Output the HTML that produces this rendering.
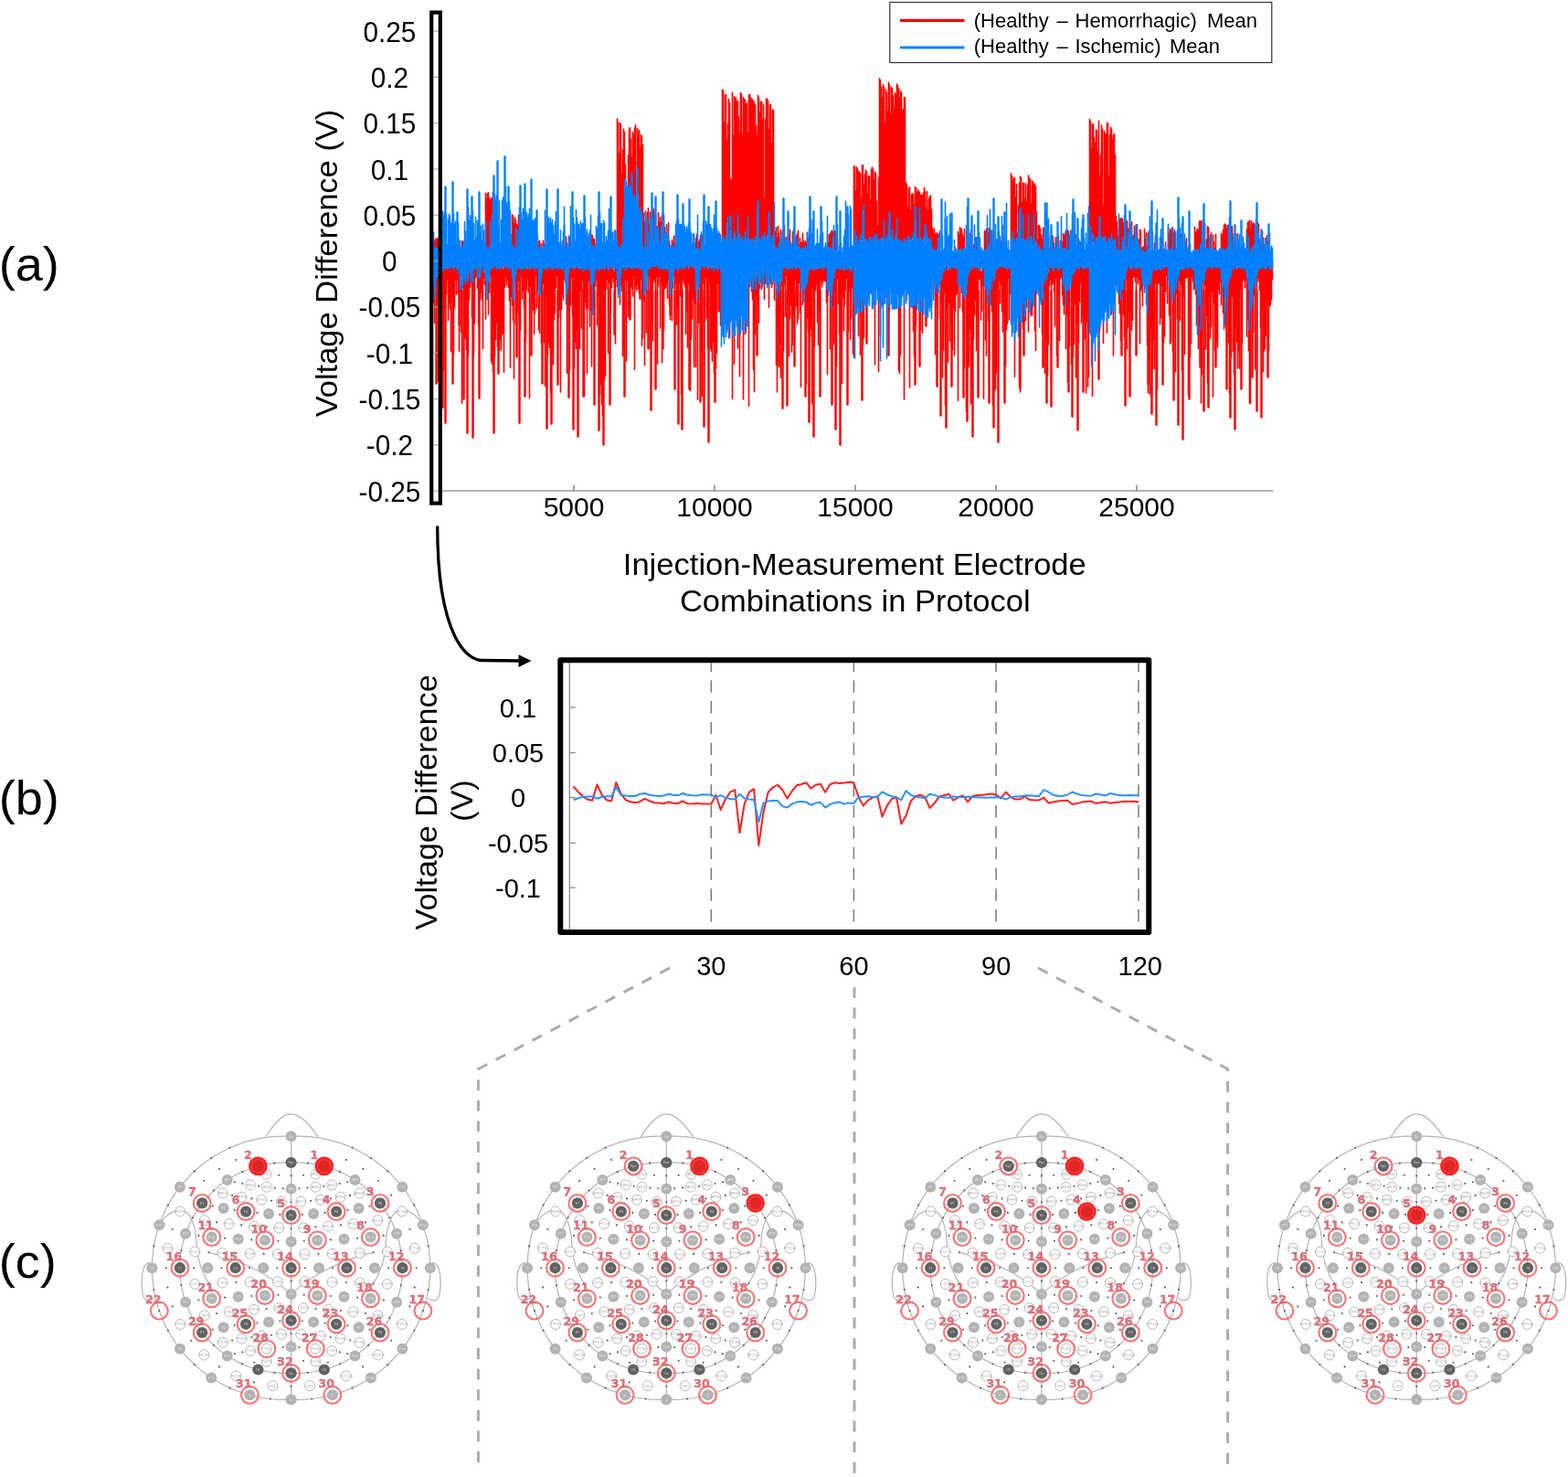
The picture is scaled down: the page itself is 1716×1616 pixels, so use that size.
<!DOCTYPE html>
<html><head><meta charset="utf-8"><title>Figure</title>
<style>html,body{margin:0;padding:0;background:#fff;overflow:hidden}svg{display:block}text{font-family:"Liberation Sans", Arial, sans-serif}</style>
</head><body>
<svg width="1716" height="1616" viewBox="0 0 1716 1616">
<rect width="1716" height="1616" fill="#fff"/>
<text x="-1.3" y="307.2" font-size="52" transform="scale(1.04,1)">(a)</text>
<text x="-1.3" y="891.0" font-size="52" transform="scale(1.04,1)">(b)</text>
<text x="-1.3" y="1397.8" font-size="52" transform="scale(1.04,1)">(c)</text>
<path d="M474.5 268.2V330.9M475.5 263.6V353.3M476.5 261.2V307.7M477.5 263.4V420.0M478.5 260.6V330.4M479.5 261.6V417.5M480.5 272.9V322.4M481.5 266.4V314.6M482.5 285.8V304.5M483.5 289.6V322.5M484.5 287.0V446.0M485.5 289.7V405.6M486.5 287.7V336.1M487.5 290.3V463.0M488.5 287.5V321.4M489.5 287.5V305.5M490.5 285.8V350.4M491.5 293.4V331.1M492.5 289.0V338.0M493.5 286.6V384.1M494.5 287.9V325.3M495.5 283.6V420.0M496.5 286.8V387.6M497.5 284.3V337.1M498.5 289.9V306.4M499.5 285.9V322.2M500.5 283.3V305.3M501.5 284.5V321.1M502.5 287.9V384.1M503.5 274.5V318.4M504.5 271.2V363.2M505.5 263.9V441.3M506.5 264.6V314.5M507.5 274.1V437.0M508.5 271.0V367.4M509.5 273.8V370.9M510.5 269.9V382.8M511.5 288.4V474.0M512.5 291.9V387.7M513.5 285.8V327.6M514.5 290.2V314.1M515.5 287.8V308.1M516.5 284.5V346.4M517.5 288.7V479.0M518.5 289.4V388.6M519.5 291.2V353.8M520.5 289.5V304.1M521.5 291.2V301.4M522.5 289.7V315.4M523.5 293.1V355.0M524.5 285.6V436.0M525.5 289.8V327.2M526.5 288.7V319.7M527.5 287.4V328.2M528.5 286.9V381.8M529.5 295.3V304.5M530.5 283.4V311.2M531.5 211.3V349.1M532.5 217.4V301.1M533.5 211.9V327.0M534.5 210.9V343.9M535.5 216.9V320.2M536.5 219.5V301.8M537.5 216.9V394.7M538.5 216.8V398.2M539.5 210.4V406.8M540.5 213.2V474.0M541.5 291.6V389.6M542.5 285.9V372.0M543.5 289.5V353.0M544.5 284.6V379.9M545.5 291.1V409.0M546.5 285.0V383.6M547.5 288.3V370.7M548.5 286.1V383.0M549.5 287.9V366.0M550.5 295.5V363.2M551.5 289.1V407.2M552.5 289.9V314.1M553.5 288.3V302.6M554.5 290.2V312.3M555.5 290.8V305.9M556.5 289.8V314.6M557.5 287.7V329.0M558.5 289.2V402.0M559.5 288.4V324.6M560.5 235.0V334.2M561.5 235.6V350.5M562.5 244.8V414.3M563.5 238.0V308.0M564.5 241.4V355.2M565.5 245.4V391.0M566.5 247.0V341.4M567.5 235.5V307.3M568.5 285.0V463.0M569.5 289.4V361.0M570.5 291.1V301.5M571.5 290.8V327.3M572.5 289.6V318.3M573.5 284.7V336.3M574.5 282.2V434.0M575.5 292.2V373.8M576.5 289.2V316.9M577.5 295.4V304.8M578.5 284.3V319.5M579.5 283.6V435.8M580.5 288.2V313.1M581.5 285.4V389.0M582.5 292.3V330.7M583.5 281.6V339.5M584.5 283.5V365.3M585.5 287.8V342.4M586.5 288.7V301.6M587.5 287.1V337.1M588.5 285.6V317.0M589.5 265.4V360.5M590.5 263.2V364.5M591.5 272.4V320.9M592.5 266.8V375.2M593.5 274.6V420.0M594.5 263.4V310.5M595.5 267.2V374.5M596.5 274.6V422.3M597.5 289.8V322.2M598.5 292.1V469.0M599.5 290.2V388.0M600.5 284.8V374.5M601.5 291.3V380.3M602.5 293.1V429.9M603.5 286.5V464.0M604.5 290.4V386.4M605.5 288.8V399.1M606.5 289.3V349.8M607.5 284.8V341.9M608.5 288.4V315.1M609.5 288.0V301.1M610.5 289.4V421.0M611.5 284.5V347.1M612.5 284.3V338.9M613.5 287.0V428.9M614.5 289.7V338.3M615.5 291.1V322.4M616.5 283.1V328.1M617.5 287.9V305.8M618.5 269.5V301.7M619.5 259.1V311.7M620.5 272.6V408.1M621.5 269.7V342.6M622.5 260.9V435.0M623.5 259.0V404.2M624.5 261.6V334.3M625.5 266.6V303.2M626.5 288.8V345.6M627.5 285.5V470.0M628.5 289.7V403.0M629.5 286.7V373.6M630.5 288.1V381.8M631.5 291.1V361.1M632.5 284.3V478.0M633.5 280.2V381.0M634.5 285.5V381.5M635.5 289.8V318.4M636.5 291.4V359.2M637.5 284.4V307.1M638.5 289.1V434.0M639.5 291.2V433.4M640.5 291.2V330.3M641.5 291.6V336.7M642.5 289.7V408.6M643.5 291.0V338.4M644.5 296.5V306.6M645.5 283.1V357.2M646.5 267.0V339.5M647.5 257.1V400.7M648.5 257.5V302.1M649.5 261.6V339.2M650.5 261.7V443.0M651.5 267.8V313.1M652.5 265.7V305.8M653.5 262.2V355.8M654.5 287.4V322.8M655.5 287.4V471.0M656.5 287.2V431.5M657.5 288.2V420.1M658.5 289.6V442.7M659.5 287.0V454.6M660.5 288.7V487.0M661.5 287.9V415.8M662.5 290.2V411.4M663.5 289.4V316.5M664.5 289.0V305.2M665.5 287.5V386.3M666.5 290.8V309.0M667.5 289.2V443.0M668.5 283.7V343.4M669.5 279.5V314.5M670.5 286.0V303.7M671.5 297.4V308.8M672.5 288.0V366.0M673.5 284.3V376.0M674.5 287.0V305.3M675.5 130.0V313.5M676.5 134.0V318.7M677.5 167.9V315.6M678.5 134.5V333.1M679.5 136.2V311.0M680.5 189.9V318.3M681.5 163.6V389.6M682.5 141.3V381.9M683.5 144.9V434.0M684.5 180.4V306.4M685.5 210.8V394.7M686.5 245.6V306.4M687.5 169.9V346.7M688.5 141.5V337.5M689.5 139.8V350.0M690.5 151.7V313.8M691.5 172.1V316.3M692.5 144.9V324.1M693.5 147.8V301.8M694.5 140.1V404.3M695.5 136.7V312.7M696.5 244.0V317.6M697.5 140.5V310.8M698.5 145.4V316.3M699.5 142.5V320.7M700.5 161.8V327.0M701.5 147.7V305.7M702.5 148.7V378.2M703.5 158.6V369.9M704.5 233.2V328.3M705.5 244.1V399.7M706.5 231.0V309.3M707.5 240.6V364.3M708.5 232.6V301.7M709.5 227.7V382.0M710.5 245.6V302.3M711.5 232.4V380.6M712.5 235.3V449.0M713.5 250.5V351.9M714.5 231.0V372.9M715.5 228.6V305.0M716.5 239.0V309.3M717.5 235.8V426.0M718.5 252.6V302.7M719.5 247.7V398.1M720.5 232.8V312.9M721.5 243.3V302.3M722.5 237.9V359.1M723.5 243.9V309.7M724.5 236.4V396.8M725.5 233.2V382.0M726.5 235.3V361.4M727.5 248.8V315.5M728.5 254.9V314.7M729.5 246.1V311.3M730.5 258.1V326.4M731.5 244.1V305.0M732.5 263.7V333.0M733.5 268.3V349.7M734.5 270.7V310.3M735.5 262.8V350.4M736.5 266.1V314.9M737.5 258.4V302.0M738.5 266.6V426.0M739.5 257.8V310.7M740.5 285.8V355.3M741.5 293.8V337.3M742.5 289.8V464.0M743.5 288.8V309.5M744.5 285.0V323.6M745.5 285.3V431.6M746.5 285.1V470.0M747.5 281.2V304.3M748.5 288.2V309.6M749.5 293.6V313.5M750.5 286.9V365.2M751.5 286.9V340.3M752.5 286.0V380.2M753.5 290.8V309.9M754.5 293.4V426.0M755.5 289.5V427.5M756.5 291.3V371.2M757.5 287.9V348.5M758.5 289.4V326.5M759.5 288.0V401.3M760.5 285.1V331.9M761.5 260.9V401.6M762.5 256.2V304.5M763.5 267.1V437.2M764.5 265.0V353.5M765.5 262.6V313.7M766.5 258.1V440.0M767.5 259.0V384.9M768.5 256.9V433.7M769.5 286.3V310.0M770.5 284.5V467.0M771.5 286.4V351.8M772.5 279.3V303.2M773.5 290.9V348.1M774.5 294.3V380.9M775.5 290.0V484.0M776.5 293.0V309.9M777.5 291.8V381.2M778.5 286.3V383.9M779.5 288.4V395.0M780.5 287.1V373.8M781.5 284.8V407.9M782.5 286.3V440.0M783.5 291.1V402.9M784.5 287.9V386.2M785.5 289.6V310.2M786.5 281.8V341.0M787.5 285.4V340.2M788.5 288.7V355.9M789.5 290.1V311.6M790.5 98.2V313.6M791.5 98.7V313.4M792.5 133.8V361.8M793.5 104.1V331.6M794.5 103.5V307.2M795.5 153.8V302.6M796.5 135.9V310.6M797.5 108.2V326.9M798.5 112.4V369.3M799.5 195.9V312.4M800.5 197.5V307.6M801.5 101.4V436.1M802.5 147.9V307.3M803.5 105.7V398.3M804.5 107.4V304.3M805.5 107.1V313.6M806.5 111.1V314.1M807.5 110.5V381.0M808.5 127.5V312.3M809.5 144.9V411.7M810.5 101.6V313.7M811.5 103.3V306.4M812.5 148.1V309.8M813.5 106.8V436.7M814.5 108.5V306.0M815.5 109.7V365.4M816.5 113.7V311.3M817.5 113.0V306.8M818.5 145.0V313.8M819.5 104.1V444.3M820.5 103.3V313.4M821.5 106.7V306.1M822.5 108.3V318.6M823.5 108.8V327.4M824.5 110.6V404.1M825.5 112.0V428.6M826.5 114.8V365.9M827.5 137.6V322.1M828.5 147.2V389.0M829.5 104.4V331.8M830.5 107.1V353.3M831.5 123.1V315.2M832.5 111.3V308.1M833.5 111.0V316.3M834.5 130.7V301.5M835.5 114.3V303.3M836.5 216.7V327.5M837.5 130.3V310.5M838.5 108.1V309.8M839.5 108.0V308.8M840.5 110.2V312.0M841.5 142.1V336.2M842.5 114.7V306.8M843.5 114.0V310.6M844.5 157.4V314.5M845.5 120.3V310.5M846.5 120.5V307.2M847.5 256.5V328.1M848.5 253.6V304.0M849.5 249.1V399.0M850.5 259.7V428.9M851.5 247.5V359.7M852.5 255.2V401.0M853.5 262.7V376.5M854.5 251.5V413.2M855.5 266.2V311.2M856.5 254.2V447.0M857.5 266.2V383.1M858.5 246.6V310.9M859.5 270.3V346.4M860.5 259.5V301.2M861.5 265.7V444.0M862.5 261.7V331.8M863.5 258.1V389.4M864.5 251.2V348.2M865.5 269.2V333.6M866.5 271.4V385.2M867.5 253.8V377.3M868.5 259.7V344.7M869.5 273.0V401.0M870.5 266.0V306.2M871.5 258.5V335.0M872.5 255.6V354.3M873.5 252.5V349.0M874.5 268.3V308.9M875.5 260.5V342.5M876.5 265.2V423.3M877.5 265.6V302.9M878.5 255.2V333.4M879.5 263.9V305.9M880.5 267.1V320.5M881.5 263.9V434.0M882.5 266.2V420.1M883.5 254.2V348.0M884.5 260.0V362.2M885.5 260.9V462.0M886.5 260.7V369.1M887.5 262.3V359.5M888.5 286.9V441.9M889.5 290.4V315.1M890.5 290.7V478.0M891.5 289.4V378.4M892.5 292.5V317.8M893.5 286.9V311.3M894.5 285.4V352.4M895.5 288.8V377.2M896.5 290.5V341.4M897.5 291.3V434.0M898.5 288.1V306.5M899.5 287.5V314.0M900.5 288.6V309.2M901.5 291.3V306.0M902.5 288.0V307.6M903.5 285.8V307.7M904.5 289.4V330.6M905.5 256.9V409.5M906.5 265.4V303.8M907.5 256.9V309.1M908.5 256.0V381.9M909.5 253.5V309.9M910.5 252.3V443.0M911.5 254.3V334.2M912.5 252.7V376.5M913.5 252.9V320.5M914.5 253.0V470.0M915.5 264.9V400.3M916.5 262.0V304.7M917.5 292.0V332.5M918.5 288.4V365.5M919.5 288.0V487.0M920.5 287.8V381.9M921.5 286.8V419.7M922.5 288.1V325.4M923.5 283.9V361.9M924.5 286.1V334.6M925.5 288.9V317.1M926.5 288.8V304.2M927.5 289.9V443.0M928.5 290.2V363.0M929.5 284.3V318.5M930.5 286.5V371.4M931.5 289.1V348.5M932.5 290.2V314.1M933.5 287.9V386.6M934.5 181.7V391.0M935.5 182.2V331.4M936.5 209.4V302.1M937.5 182.8V315.6M938.5 184.9V336.0M939.5 187.3V367.8M940.5 188.5V305.6M941.5 189.6V388.3M942.5 217.1V314.2M943.5 180.9V438.0M944.5 180.8V377.3M945.5 202.3V369.7M946.5 190.8V318.6M947.5 186.0V318.3M948.5 187.9V376.0M949.5 211.9V331.2M950.5 192.7V313.7M951.5 192.5V318.0M952.5 219.2V311.7M953.5 185.6V320.5M954.5 183.1V314.7M955.5 185.5V312.8M956.5 196.5V331.3M957.5 188.1V398.9M958.5 190.0V310.1M959.5 220.3V316.5M960.5 248.0V301.1M961.5 194.5V406.6M962.5 85.9V308.5M963.5 87.8V368.2M964.5 95.5V307.9M965.5 107.3V333.8M966.5 92.5V319.3M967.5 95.3V330.7M968.5 135.0V314.3M969.5 98.1V325.3M970.5 101.5V322.8M971.5 121.8V303.3M972.5 90.0V389.0M973.5 92.6V339.7M974.5 125.5V311.1M975.5 95.6V302.7M976.5 96.7V310.8M977.5 105.1V314.4M978.5 118.9V316.2M979.5 101.7V322.7M980.5 104.0V308.7M981.5 92.0V312.9M982.5 93.6V309.2M983.5 97.1V405.4M984.5 107.4V408.7M985.5 99.3V388.6M986.5 101.6V302.0M987.5 121.1V309.3M988.5 119.3V313.2M989.5 106.4V436.9M990.5 106.8V307.8M991.5 200.1V310.4M992.5 201.8V321.3M993.5 227.2V317.6M994.5 206.0V302.3M995.5 205.1V424.0M996.5 230.3V302.2M997.5 212.7V323.6M998.5 211.8V317.5M999.5 212.5V361.9M1000.5 224.3V390.3M1001.5 204.2V421.0M1002.5 205.8V356.6M1003.5 211.0V301.6M1004.5 207.8V312.9M1005.5 209.6V332.0M1006.5 210.3V401.0M1007.5 213.6V360.7M1008.5 213.4V315.8M1009.5 214.1V364.2M1010.5 211.1V312.5M1011.5 205.2V314.2M1012.5 209.2V337.4M1013.5 227.4V357.0M1014.5 209.9V318.4M1015.5 231.0V335.9M1016.5 217.4V315.4M1017.5 215.1V310.4M1018.5 214.1V311.5M1019.5 229.2V335.0M1020.5 249.4V303.0M1021.5 253.3V322.7M1022.5 250.2V312.8M1023.5 255.7V387.7M1024.5 256.4V334.0M1025.5 254.7V423.0M1026.5 258.0V348.5M1027.5 255.5V302.8M1028.5 290.5V306.4M1029.5 282.7V455.0M1030.5 287.4V329.6M1031.5 292.0V412.7M1032.5 285.6V383.4M1033.5 290.8V320.7M1034.5 287.8V443.6M1035.5 285.5V468.0M1036.5 288.5V336.3M1037.5 296.7V396.3M1038.5 288.9V331.0M1039.5 287.4V372.9M1040.5 287.7V352.8M1041.5 285.7V423.0M1042.5 286.6V382.2M1043.5 284.9V335.7M1044.5 287.9V388.4M1045.5 284.3V340.3M1046.5 294.3V322.3M1047.5 288.5V321.0M1048.5 253.7V438.3M1049.5 257.4V308.5M1050.5 249.0V337.0M1051.5 250.1V303.7M1052.5 250.8V320.4M1053.5 256.5V341.6M1054.5 259.9V435.0M1055.5 250.9V402.7M1056.5 289.3V301.0M1057.5 286.6V449.7M1058.5 252.3V461.0M1059.5 290.4V402.7M1060.5 262.6V399.8M1061.5 255.3V360.2M1062.5 286.3V441.8M1063.5 257.6V423.6M1064.5 286.7V478.0M1065.5 267.6V370.8M1066.5 269.3V344.6M1067.5 267.8V327.6M1068.5 259.8V383.7M1069.5 292.8V342.2M1070.5 288.0V435.0M1071.5 289.3V305.2M1072.5 289.1V305.5M1073.5 296.5V350.5M1074.5 297.7V340.4M1075.5 283.9V312.2M1076.5 284.6V436.3M1077.5 252.8V311.2M1078.5 253.5V371.9M1079.5 250.2V389.5M1080.5 250.0V321.1M1081.5 254.6V350.6M1082.5 249.8V441.0M1083.5 253.1V302.6M1084.5 252.9V332.8M1085.5 290.8V341.0M1086.5 285.7V443.5M1087.5 252.1V468.0M1088.5 287.3V427.3M1089.5 285.0V425.8M1090.5 268.5V408.0M1091.5 287.1V319.5M1092.5 267.8V484.0M1093.5 258.0V307.5M1094.5 262.0V331.7M1095.5 264.1V311.3M1096.5 275.1V340.4M1097.5 261.8V363.1M1098.5 260.8V342.5M1099.5 260.6V441.0M1100.5 276.1V400.8M1101.5 285.9V360.9M1102.5 288.7V354.4M1103.5 288.5V304.0M1104.5 284.9V350.1M1105.5 290.5V321.3M1106.5 189.7V308.5M1107.5 192.8V314.0M1108.5 198.1V308.5M1109.5 194.2V320.8M1110.5 195.1V412.3M1111.5 215.7V311.0M1112.5 201.5V341.5M1113.5 255.9V303.2M1114.5 224.7V330.1M1115.5 200.2V422.0M1116.5 193.0V429.0M1117.5 194.5V316.8M1118.5 221.6V326.3M1119.5 200.3V359.4M1120.5 200.9V389.0M1121.5 217.7V350.9M1122.5 200.8V351.0M1123.5 221.3V336.0M1124.5 202.6V311.8M1125.5 192.0V363.1M1126.5 195.0V308.5M1127.5 196.1V315.8M1128.5 223.1V345.0M1129.5 198.0V345.0M1130.5 199.4V319.6M1131.5 201.6V323.1M1132.5 201.4V362.2M1133.5 204.1V383.5M1134.5 232.2V307.2M1135.5 262.1V311.4M1136.5 246.4V321.7M1137.5 247.3V301.6M1138.5 250.1V329.0M1139.5 256.9V309.3M1140.5 262.1V363.8M1141.5 250.2V402.0M1142.5 249.3V318.9M1143.5 266.6V408.5M1144.5 253.6V372.1M1145.5 255.4V441.0M1146.5 264.2V411.4M1147.5 253.8V376.9M1148.5 272.0V312.7M1149.5 275.1V306.1M1150.5 267.3V445.0M1151.5 257.3V311.3M1152.5 259.3V308.9M1153.5 273.6V319.0M1154.5 271.3V357.0M1155.5 259.9V303.6M1156.5 267.6V389.3M1157.5 257.9V402.0M1158.5 258.8V322.8M1159.5 279.1V372.8M1160.5 263.8V304.7M1161.5 263.7V302.7M1162.5 265.3V322.7M1163.5 255.9V333.2M1164.5 258.3V343.6M1165.5 255.9V333.4M1166.5 252.8V381.6M1167.5 251.8V344.1M1168.5 251.6V417.7M1169.5 253.6V429.0M1170.5 258.0V377.9M1171.5 288.9V305.2M1172.5 284.9V398.4M1173.5 250.8V456.0M1174.5 287.9V390.9M1175.5 256.6V376.6M1176.5 261.5V333.0M1177.5 256.9V413.0M1178.5 268.7V355.0M1179.5 287.7V471.0M1180.5 261.2V375.1M1181.5 268.6V330.2M1182.5 275.7V309.6M1183.5 267.8V353.2M1184.5 263.0V345.5M1185.5 272.2V429.0M1186.5 288.1V350.9M1187.5 284.5V371.4M1188.5 284.5V429.9M1189.5 292.2V352.2M1190.5 287.7V423.3M1191.5 286.2V412.0M1192.5 130.6V306.7M1193.5 132.8V307.5M1194.5 162.6V303.3M1195.5 135.8V433.2M1196.5 136.1V337.6M1197.5 150.5V344.1M1198.5 156.9V305.6M1199.5 141.9V311.9M1200.5 143.3V327.9M1201.5 166.6V335.2M1202.5 132.5V415.0M1203.5 192.8V361.6M1204.5 169.2V339.1M1205.5 137.0V334.7M1206.5 141.6V340.9M1207.5 225.0V375.6M1208.5 143.4V316.8M1209.5 146.4V313.1M1210.5 146.3V314.4M1211.5 134.8V364.0M1212.5 135.1V308.2M1213.5 192.8V309.1M1214.5 147.7V313.4M1215.5 139.3V309.8M1216.5 141.4V343.5M1217.5 153.6V316.6M1218.5 147.7V389.0M1219.5 146.6V309.7M1220.5 169.8V308.6M1221.5 236.5V311.8M1222.5 242.7V305.4M1223.5 258.6V301.2M1224.5 249.9V331.9M1225.5 239.8V342.5M1226.5 239.0V372.3M1227.5 238.9V389.0M1228.5 239.8V319.7M1229.5 243.3V344.6M1230.5 252.0V368.7M1231.5 246.7V444.0M1232.5 241.5V305.6M1233.5 242.1V381.8M1234.5 250.5V357.7M1235.5 250.3V341.1M1236.5 246.5V434.0M1237.5 246.0V340.8M1238.5 242.7V361.2M1239.5 258.4V350.5M1240.5 257.9V302.4M1241.5 247.5V303.4M1242.5 264.6V307.7M1243.5 246.7V389.0M1244.5 245.8V302.6M1245.5 262.0V310.3M1246.5 262.3V305.4M1247.5 251.4V375.8M1248.5 252.3V318.8M1249.5 272.5V315.6M1250.5 270.0V334.8M1251.5 270.6V302.3M1252.5 250.5V312.3M1253.5 261.7V314.1M1254.5 255.1V310.9M1255.5 270.8V377.4M1256.5 255.0V429.9M1257.5 267.7V393.0M1258.5 270.3V431.6M1259.5 277.3V358.9M1260.5 274.1V453.0M1261.5 274.9V402.9M1262.5 275.4V371.0M1263.5 266.4V403.6M1264.5 259.9V310.3M1265.5 277.5V465.0M1266.5 260.5V425.6M1267.5 275.0V310.0M1268.5 276.9V310.3M1269.5 275.3V355.0M1270.5 267.6V347.8M1271.5 261.1V312.9M1272.5 269.4V421.0M1273.5 279.5V373.9M1274.5 272.6V368.0M1275.5 265.0V319.3M1276.5 282.4V301.7M1277.5 283.4V331.8M1278.5 249.3V302.7M1279.5 256.6V344.8M1280.5 250.8V376.1M1281.5 252.9V374.2M1282.5 249.3V307.3M1283.5 252.8V385.3M1284.5 255.5V438.0M1285.5 251.7V311.3M1286.5 285.5V407.0M1287.5 281.6V321.0M1288.5 261.0V348.3M1289.5 253.0V465.0M1290.5 258.5V307.1M1291.5 259.8V350.5M1292.5 256.0V310.8M1293.5 264.1V404.8M1294.5 260.8V481.0M1295.5 289.3V323.5M1296.5 270.9V387.7M1297.5 268.8V304.3M1298.5 260.9V303.9M1299.5 273.5V303.6M1300.5 272.3V431.9M1301.5 283.9V437.0M1302.5 287.3V390.9M1303.5 282.1V375.7M1304.5 288.2V301.9M1305.5 286.7V307.9M1306.5 283.7V316.4M1307.5 248.6V314.4M1308.5 254.7V321.6M1309.5 253.0V356.0M1310.5 250.3V318.8M1311.5 252.2V381.5M1312.5 242.1V355.6M1313.5 241.8V402.0M1314.5 242.2V440.9M1315.5 254.9V409.4M1316.5 241.1V308.4M1317.5 241.9V450.0M1318.5 245.4V310.9M1319.5 292.5V382.3M1320.5 262.0V344.6M1321.5 247.8V418.4M1322.5 249.0V446.0M1323.5 289.2V324.5M1324.5 259.0V370.1M1325.5 254.9V357.4M1326.5 290.1V318.9M1327.5 257.0V434.2M1328.5 264.7V331.0M1329.5 271.8V383.5M1330.5 256.3V402.0M1331.5 291.1V373.5M1332.5 289.0V380.1M1333.5 282.7V316.3M1334.5 285.7V322.1M1335.5 287.1V308.1M1336.5 255.6V333.6M1337.5 257.8V306.3M1338.5 252.1V342.1M1339.5 246.5V360.0M1340.5 245.0V306.1M1341.5 246.4V357.9M1342.5 250.1V426.0M1343.5 246.8V325.4M1344.5 248.3V375.1M1345.5 257.1V429.9M1346.5 247.4V457.0M1347.5 248.1V390.2M1348.5 247.9V323.9M1349.5 286.9V384.0M1350.5 263.7V409.1M1351.5 284.5V470.0M1352.5 256.0V358.1M1353.5 295.9V374.5M1354.5 255.9V403.0M1355.5 291.9V384.0M1356.5 289.1V403.1M1357.5 283.9V316.0M1358.5 288.6V426.0M1359.5 290.0V374.9M1360.5 291.4V305.3M1361.5 287.4V307.3M1362.5 285.2V315.1M1363.5 286.9V306.3M1364.5 251.0V368.1M1365.5 243.5V349.0M1366.5 242.8V383.7M1367.5 241.4V440.9M1368.5 250.6V441.6M1369.5 241.9V314.3M1370.5 246.2V413.0M1371.5 243.7V364.0M1372.5 244.9V322.5M1373.5 246.2V404.1M1374.5 246.1V309.3M1375.5 248.5V450.0M1376.5 243.8V303.6M1377.5 245.5V307.7M1378.5 261.7V317.8M1379.5 264.3V358.4M1380.5 265.3V457.0M1381.5 253.6V337.5M1382.5 260.5V406.8M1383.5 289.0V383.7M1384.5 271.9V381.5M1385.5 261.4V367.3M1386.5 257.9V327.1M1387.5 264.8V413.0M1388.5 287.5V383.7M1389.5 293.4V335.2M1390.5 286.0V333.8M1391.5 290.1V327.9M1392.5 285.4V305.4" stroke="#ff0000" stroke-width="1.6" stroke-linecap="round" fill="none"/>
<path d="M477.5 318V419.4M484.5 318V445.4M487.5 318V462.4M495.5 318V419.4M502.5 318V355.4M507.5 318V436.4M511.5 318V473.4M517.5 318V478.4M524.5 318V435.4M540.5 318V473.4M545.5 318V408.4M549.5 318V365.4M565.5 318V390.4M568.5 318V462.4M574.5 318V433.4M581.5 318V388.4M593.5 318V419.4M598.5 318V468.4M603.5 318V463.4M610.5 318V420.4M622.5 318V434.4M627.5 318V469.4M632.5 318V477.4M638.5 318V433.4M650.5 318V442.4M655.5 318V470.4M660.5 318V486.4M667.5 318V442.4M672.5 318V365.4M683.5 318V433.4M689.5 318V349.4M700.5 318V326.4M709.5 318V381.4M712.5 318V448.4M717.5 318V425.4M725.5 318V381.4M733.5 318V344.4M738.5 318V425.4M742.5 318V463.4M746.5 318V469.4M754.5 318V425.4M766.5 318V439.4M770.5 318V466.4M775.5 318V483.4M782.5 318V439.4M828.5 318V388.4M852.5 318V400.4M856.5 318V446.4M861.5 318V443.4M869.5 318V400.4M881.5 318V433.4M885.5 318V461.4M890.5 318V477.4M897.5 318V433.4M910.5 318V442.4M914.5 318V469.4M919.5 318V486.4M927.5 318V442.4M943.5 318V437.4M948.5 318V375.4M972.5 318V388.4M1001.5 318V420.4M1006.5 318V400.4M1013.5 318V356.4M1025.5 318V422.4M1029.5 318V454.4M1035.5 318V467.4M1041.5 318V422.4M1054.5 318V434.4M1058.5 318V460.4M1064.5 318V477.4M1070.5 318V434.4M1082.5 318V440.4M1087.5 318V467.4M1092.5 318V483.4M1099.5 318V440.4M1116.5 318V425.4M1120.5 318V388.4M1128.5 318V344.4M1141.5 318V401.4M1145.5 318V440.4M1150.5 318V444.4M1157.5 318V401.4M1169.5 318V428.4M1173.5 318V455.4M1179.5 318V470.4M1185.5 318V428.4M1202.5 318V414.4M1227.5 318V388.4M1231.5 318V443.4M1236.5 318V433.4M1243.5 318V388.4M1256.5 318V420.4M1260.5 318V452.4M1265.5 318V464.4M1272.5 318V420.4M1284.5 318V437.4M1289.5 318V464.4M1294.5 318V480.4M1301.5 318V436.4M1313.5 318V401.4M1317.5 318V449.4M1322.5 318V445.4M1330.5 318V401.4M1342.5 318V425.4M1346.5 318V456.4M1351.5 318V469.4M1358.5 318V425.4M1370.5 318V412.4M1375.5 318V449.4M1380.5 318V456.4M1387.5 318V412.4" stroke="#ff0000" stroke-width="2.2" stroke-linecap="round" fill="none"/>
<path d="M474.5 254.1V311.2M475.5 271.7V326.8M476.5 270.4V314.6M477.5 273.1V304.2M478.5 272.3V302.0M479.5 272.7V293.8M480.5 272.0V292.7M481.5 257.3V293.9M482.5 230.2V295.4M483.5 233.3V291.1M484.5 231.4V296.9M485.5 236.2V293.5M486.5 232.3V292.0M487.5 204.0V294.6M488.5 234.2V293.7M489.5 267.6V293.5M490.5 239.9V293.0M491.5 234.3V291.7M492.5 236.2V294.5M493.5 244.2V291.4M494.5 244.2V292.0M495.5 199.0V292.4M496.5 233.6V295.6M497.5 245.5V292.1M498.5 242.2V291.2M499.5 268.4V293.2M500.5 232.0V293.4M501.5 244.3V298.4M502.5 262.3V293.3M503.5 263.8V316.5M504.5 270.2V312.7M505.5 272.0V316.2M506.5 269.3V312.3M507.5 263.9V301.2M508.5 242.7V307.1M509.5 253.3V310.3M510.5 265.5V297.8M511.5 207.0V307.5M512.5 226.9V304.8M513.5 241.4V293.5M514.5 235.9V298.5M515.5 237.4V310.0M516.5 215.0V295.4M517.5 230.9V308.2M518.5 244.9V294.1M519.5 264.0V291.8M520.5 237.9V294.7M521.5 260.0V292.2M522.5 241.3V304.1M523.5 244.8V291.3M524.5 210.0V304.1M525.5 253.3V303.1M526.5 247.4V296.0M527.5 263.2V291.8M528.5 245.3V290.9M529.5 252.3V297.6M530.5 266.0V298.5M531.5 241.9V306.5M532.5 269.5V317.2M533.5 272.8V327.4M534.5 272.0V307.4M535.5 270.9V307.9M536.5 243.2V295.7M537.5 268.1V294.3M538.5 235.9V293.2M539.5 212.9V293.1M540.5 192.0V290.2M541.5 212.4V290.8M542.5 218.1V292.8M543.5 214.4V294.0M544.5 176.0V293.8M545.5 247.7V293.4M546.5 219.6V294.7M547.5 266.5V293.8M548.5 240.7V292.9M549.5 219.7V290.8M550.5 215.7V289.9M551.5 217.7V293.2M552.5 171.0V291.8M553.5 203.8V292.1M554.5 221.7V292.3M555.5 225.9V293.1M556.5 204.0V295.1M557.5 221.0V290.2M558.5 230.4V293.3M559.5 256.7V293.5M560.5 271.6V304.2M561.5 268.5V328.4M562.5 271.9V324.9M563.5 272.0V307.2M564.5 249.6V301.0M565.5 272.8V295.0M566.5 251.7V291.9M567.5 266.0V292.7M568.5 227.2V293.4M569.5 203.0V294.0M570.5 232.8V293.6M571.5 240.8V294.9M572.5 228.0V293.6M573.5 230.3V293.8M574.5 201.0V293.3M575.5 233.8V292.2M576.5 232.4V294.1M577.5 237.8V292.0M578.5 234.8V289.3M579.5 228.6V294.3M580.5 238.3V292.7M581.5 196.0V293.9M582.5 243.0V291.0M583.5 240.9V291.8M584.5 241.5V294.0M585.5 239.0V295.8M586.5 239.4V291.6M587.5 230.0V293.6M588.5 258.6V291.3M589.5 271.7V322.1M590.5 274.4V322.3M591.5 268.3V321.6M592.5 269.5V303.8M593.5 274.5V297.6M594.5 270.1V292.6M595.5 269.9V292.6M596.5 230.3V294.5M597.5 268.8V294.7M598.5 207.0V293.3M599.5 239.3V294.0M600.5 237.5V291.3M601.5 244.4V291.9M602.5 238.5V294.0M603.5 243.9V291.2M604.5 240.4V294.2M605.5 246.7V292.1M606.5 257.1V294.5M607.5 243.1V291.2M608.5 231.6V293.7M609.5 247.9V292.6M610.5 207.0V292.9M611.5 266.9V291.1M612.5 265.4V295.1M613.5 251.8V292.4M614.5 268.5V293.8M615.5 264.0V295.1M616.5 253.8V294.6M617.5 226.2V291.4M618.5 272.2V308.5M619.5 271.6V332.7M620.5 265.9V321.1M621.5 269.9V315.7M622.5 258.1V298.6M623.5 271.2V292.1M624.5 225.8V293.3M625.5 268.3V290.9M626.5 210.0V292.2M627.5 238.6V294.9M628.5 245.0V293.3M629.5 264.6V293.5M630.5 229.6V291.9M631.5 238.4V290.5M632.5 245.5V292.7M633.5 245.0V293.5M634.5 250.8V293.9M635.5 242.0V293.5M636.5 246.3V294.2M637.5 244.2V292.8M638.5 245.4V296.9M639.5 214.0V292.8M640.5 237.9V295.1M641.5 255.6V292.1M642.5 251.3V294.6M643.5 259.5V291.5M644.5 255.7V294.7M645.5 252.7V292.5M646.5 235.5V310.1M647.5 269.7V311.6M648.5 268.5V344.3M649.5 274.6V309.2M650.5 268.6V304.3M651.5 269.0V295.9M652.5 247.7V293.5M653.5 250.6V294.1M654.5 237.4V292.7M655.5 210.0V295.6M656.5 233.6V294.5M657.5 244.9V293.3M658.5 244.7V294.3M659.5 265.5V292.5M660.5 241.5V292.6M661.5 244.4V295.1M662.5 266.0V293.4M663.5 258.7V290.2M664.5 263.6V291.0M665.5 252.9V295.3M666.5 228.5V294.3M667.5 251.7V291.8M668.5 215.0V292.0M669.5 254.9V293.7M670.5 254.0V291.8M671.5 264.3V292.1M672.5 252.6V296.4M673.5 252.0V292.1M674.5 264.6V292.9M675.5 262.4V304.1M676.5 270.2V325.6M677.5 270.6V320.5M678.5 272.3V321.2M679.5 267.3V302.3M680.5 272.7V293.8M681.5 238.8V292.9M682.5 267.1V292.4M683.5 197.2V292.2M684.5 195.2V295.4M685.5 199.3V293.8M686.5 204.6V292.0M687.5 206.6V292.5M688.5 203.0V292.4M689.5 203.7V290.1M690.5 206.0V293.8M691.5 189.0V292.9M692.5 216.8V294.3M693.5 213.3V291.6M694.5 213.9V293.5M695.5 217.5V292.4M696.5 254.3V292.1M697.5 183.0V293.1M698.5 211.9V290.2M699.5 231.3V292.7M700.5 227.0V295.7M701.5 235.1V292.1M702.5 231.4V295.3M703.5 267.7V292.9M704.5 274.2V320.3M705.5 270.8V323.2M706.5 233.0V318.8M707.5 271.9V313.3M708.5 239.9V302.0M709.5 254.4V293.3M710.5 272.7V295.0M711.5 238.1V292.9M712.5 232.2V291.9M713.5 211.0V291.9M714.5 239.6V291.3M715.5 262.3V291.4M716.5 234.4V291.5M717.5 215.0V291.8M718.5 248.7V291.2M719.5 251.8V288.4M720.5 249.2V292.5M721.5 264.1V294.0M722.5 268.6V294.3M723.5 248.1V293.6M724.5 252.4V293.1M725.5 210.0V293.9M726.5 241.2V294.9M727.5 255.1V293.7M728.5 258.9V293.0M729.5 248.5V294.9M730.5 258.4V294.7M731.5 256.2V291.3M732.5 271.2V306.5M733.5 268.4V322.4M734.5 271.2V322.4M735.5 270.8V314.3M736.5 266.9V307.5M737.5 272.4V297.7M738.5 271.5V292.5M739.5 245.7V293.2M740.5 242.6V294.0M741.5 213.0V296.0M742.5 240.2V293.3M743.5 246.3V293.4M744.5 245.2V294.2M745.5 245.9V289.5M746.5 247.8V293.2M747.5 223.0V293.6M748.5 245.9V294.6M749.5 248.2V292.5M750.5 254.4V291.2M751.5 248.0V290.6M752.5 251.0V288.7M753.5 244.7V293.9M754.5 218.0V291.8M755.5 251.8V290.3M756.5 255.1V289.7M757.5 266.1V292.7M758.5 256.6V292.8M759.5 255.5V288.5M760.5 266.0V293.8M761.5 272.0V316.8M762.5 272.0V307.5M763.5 235.4V328.4M764.5 272.5V315.3M765.5 273.6V310.3M766.5 274.8V294.7M767.5 253.7V290.9M768.5 265.8V290.0M769.5 242.6V292.2M770.5 213.0V291.8M771.5 269.5V293.2M772.5 241.7V291.0M773.5 246.5V291.8M774.5 243.0V290.1M775.5 226.0V295.2M776.5 245.8V290.2M777.5 245.8V291.2M778.5 249.5V293.7M779.5 254.0V293.7M780.5 250.5V292.2M781.5 235.3V297.2M782.5 245.3V293.2M783.5 220.0V293.2M784.5 249.6V292.8M785.5 256.0V295.7M786.5 253.1V289.1M787.5 255.8V293.4M788.5 257.2V295.4M789.5 266.0V379.0M790.5 261.1V366.3M791.5 258.5V368.5M792.5 261.2V376.0M793.5 262.8V353.6M794.5 261.4V368.5M795.5 244.2V363.2M796.5 237.9V360.2M797.5 264.2V370.0M798.5 253.5V357.9M799.5 236.0V352.1M800.5 262.5V348.6M801.5 266.1V366.4M802.5 259.6V361.1M803.5 252.8V369.0M804.5 255.7V366.8M805.5 260.4V349.6M806.5 263.3V356.9M807.5 234.9V364.5M808.5 257.1V364.8M809.5 256.0V347.4M810.5 263.7V365.7M811.5 261.0V345.1M812.5 258.6V360.7M813.5 264.3V360.9M814.5 262.2V350.3M815.5 253.6V349.6M816.5 260.0V363.3M817.5 263.0V355.9M818.5 237.3V357.3M819.5 260.9V309.9M820.5 267.4V312.9M821.5 262.1V306.5M822.5 262.1V303.5M823.5 261.5V317.2M824.5 268.7V314.9M825.5 262.7V295.8M826.5 259.3V308.1M827.5 264.3V316.8M828.5 230.6V299.5M829.5 220.0V304.5M830.5 267.1V310.4M831.5 261.2V310.1M832.5 264.4V306.6M833.5 258.8V300.0M834.5 261.2V313.8M835.5 259.1V310.4M836.5 255.0V301.2M837.5 260.2V294.2M838.5 262.5V310.2M839.5 258.4V314.8M840.5 255.1V308.3M841.5 232.0V313.0M842.5 248.4V300.2M843.5 265.4V304.9M844.5 259.4V310.0M845.5 261.5V309.0M846.5 256.8V306.2M847.5 221.6V309.3M848.5 270.5V305.8M849.5 273.6V316.8M850.5 271.2V326.4M851.5 272.0V307.5M852.5 266.8V319.1M853.5 262.6V310.3M854.5 257.7V308.5M855.5 268.1V306.7M856.5 252.1V296.5M857.5 217.0V293.6M858.5 268.3V292.0M859.5 261.8V292.7M860.5 263.3V293.3M861.5 267.1V293.2M862.5 231.0V294.8M863.5 263.8V294.3M864.5 270.1V292.3M865.5 265.8V293.0M866.5 267.5V294.0M867.5 268.9V294.3M868.5 250.4V291.8M869.5 226.0V291.3M870.5 262.0V294.7M871.5 269.0V292.9M872.5 261.0V292.9M873.5 269.1V291.4M874.5 270.0V293.0M875.5 272.7V292.9M876.5 272.0V317.9M877.5 272.0V311.2M878.5 273.1V314.5M879.5 271.1V330.0M880.5 272.0V318.3M881.5 269.3V313.0M882.5 274.0V312.4M883.5 255.0V308.7M884.5 271.8V300.4M885.5 250.6V293.8M886.5 215.0V294.4M887.5 240.3V295.0M888.5 256.1V291.6M889.5 241.5V293.9M890.5 231.0V295.8M891.5 270.4V293.5M892.5 268.6V293.9M893.5 266.9V293.8M894.5 250.8V293.6M895.5 266.5V293.4M896.5 266.5V292.9M897.5 258.3V292.9M898.5 226.0V293.0M899.5 242.1V292.4M900.5 254.7V291.4M901.5 272.7V295.2M902.5 270.2V292.5M903.5 266.2V292.2M904.5 270.0V293.0M905.5 236.5V316.3M906.5 270.4V323.4M907.5 272.0V317.6M908.5 271.5V317.9M909.5 272.0V336.2M910.5 273.0V323.6M911.5 259.5V310.3M912.5 246.9V303.7M913.5 273.2V297.5M914.5 274.9V293.8M915.5 215.0V292.1M916.5 245.3V294.3M917.5 274.9V293.8M918.5 269.1V293.8M919.5 231.0V294.3M920.5 266.0V292.9M921.5 275.7V294.2M922.5 271.0V290.6M923.5 259.1V295.8M924.5 251.7V295.2M925.5 220.3V290.2M926.5 234.3V293.5M927.5 226.0V295.0M928.5 235.8V294.1M929.5 271.5V294.4M930.5 225.7V293.5M931.5 229.5V297.9M932.5 269.0V293.0M933.5 270.0V293.4M934.5 263.4V333.4M935.5 252.6V392.0M936.5 261.3V343.9M937.5 257.7V342.8M938.5 265.1V323.0M939.5 266.7V341.1M940.5 262.5V340.1M941.5 256.9V324.9M942.5 263.8V341.3M943.5 256.0V341.1M944.5 231.0V326.9M945.5 224.6V338.5M946.5 261.1V332.7M947.5 264.9V334.0M948.5 262.1V335.8M949.5 264.0V332.8M950.5 266.2V328.2M951.5 259.2V334.5M952.5 260.4V320.1M953.5 263.7V321.7M954.5 259.3V337.4M955.5 264.4V337.5M956.5 260.7V333.8M957.5 256.9V332.1M958.5 263.1V332.9M959.5 255.3V317.2M960.5 263.5V327.8M961.5 262.2V326.6M962.5 265.9V330.8M963.5 261.8V395.0M964.5 261.2V336.8M965.5 259.6V329.9M966.5 262.1V380.0M967.5 241.6V332.2M968.5 266.5V331.8M969.5 261.5V319.0M970.5 257.0V392.0M971.5 261.2V323.6M972.5 242.7V332.1M973.5 233.0V335.8M974.5 258.3V320.0M975.5 260.3V332.4M976.5 250.9V337.9M977.5 263.9V338.0M978.5 262.7V338.0M979.5 260.7V337.8M980.5 257.3V337.1M981.5 239.0V337.5M982.5 263.2V322.5M983.5 262.2V337.5M984.5 264.5V335.7M985.5 262.8V334.8M986.5 267.5V333.7M987.5 263.8V324.1M988.5 265.9V321.7M989.5 260.5V335.5M990.5 266.9V316.5M991.5 263.8V331.7M992.5 265.8V327.9M993.5 258.2V320.5M994.5 262.6V322.0M995.5 259.4V334.4M996.5 262.3V335.5M997.5 263.2V336.0M998.5 259.6V336.7M999.5 254.6V334.0M1000.5 260.7V330.8M1001.5 226.0V334.4M1002.5 243.0V324.3M1003.5 261.0V338.5M1004.5 260.5V331.5M1005.5 264.1V341.0M1006.5 227.7V341.7M1007.5 260.8V327.2M1008.5 264.0V340.8M1009.5 265.2V329.9M1010.5 259.9V344.0M1011.5 260.1V325.2M1012.5 246.0V345.3M1013.5 259.7V338.4M1014.5 254.1V346.7M1015.5 261.5V347.3M1016.5 260.8V336.1M1017.5 264.9V340.3M1018.5 261.4V335.6M1019.5 265.5V348.8M1020.5 272.0V305.5M1021.5 274.0V328.6M1022.5 274.0V312.7M1023.5 274.8V318.8M1024.5 274.1V314.8M1025.5 272.1V310.4M1026.5 261.1V321.6M1027.5 260.3V319.8M1028.5 252.7V312.8M1029.5 275.9V307.4M1030.5 218.0V306.0M1031.5 257.9V300.3M1032.5 274.4V296.0M1033.5 272.0V291.9M1034.5 221.0V296.6M1035.5 252.6V292.4M1036.5 236.6V292.0M1037.5 258.9V292.8M1038.5 258.1V293.8M1039.5 234.3V292.9M1040.5 245.2V294.8M1041.5 233.0V291.5M1042.5 274.8V292.4M1043.5 276.4V292.4M1044.5 262.6V291.8M1045.5 270.4V294.0M1046.5 272.7V293.0M1047.5 276.3V292.5M1048.5 274.7V309.9M1049.5 274.2V312.5M1050.5 273.1V316.9M1051.5 272.7V310.9M1052.5 274.0V312.9M1053.5 274.0V321.4M1054.5 271.7V325.9M1055.5 271.1V322.4M1056.5 272.7V322.9M1057.5 246.9V322.3M1058.5 226.2V310.9M1059.5 217.0V300.9M1060.5 261.0V298.2M1061.5 258.6V295.1M1062.5 251.2V290.6M1063.5 236.0V295.2M1064.5 271.2V292.0M1065.5 273.5V292.6M1066.5 246.1V290.3M1067.5 260.4V293.0M1068.5 275.3V291.4M1069.5 259.9V292.7M1070.5 231.0V293.8M1071.5 254.9V296.3M1072.5 260.3V292.7M1073.5 273.8V291.6M1074.5 271.0V294.6M1075.5 276.1V293.6M1076.5 273.6V291.9M1077.5 274.0V313.1M1078.5 273.7V316.1M1079.5 273.9V310.8M1080.5 235.7V330.5M1081.5 272.7V322.5M1082.5 268.9V316.6M1083.5 229.4V335.0M1084.5 275.0V307.1M1085.5 251.8V316.4M1086.5 258.8V301.0M1087.5 217.0V307.4M1088.5 271.0V304.5M1089.5 245.5V298.3M1090.5 261.9V294.0M1091.5 262.2V294.3M1092.5 237.0V292.4M1093.5 253.2V292.1M1094.5 258.8V292.0M1095.5 270.3V291.6M1096.5 236.9V291.4M1097.5 246.6V291.5M1098.5 258.5V292.5M1099.5 232.0V292.3M1100.5 263.9V293.2M1101.5 222.6V292.7M1102.5 271.8V295.0M1103.5 263.5V293.1M1104.5 274.0V291.6M1105.5 273.8V293.8M1106.5 260.3V354.5M1107.5 262.0V368.0M1108.5 253.4V363.7M1109.5 267.7V351.2M1110.5 262.0V374.0M1111.5 265.9V363.7M1112.5 261.1V361.8M1113.5 260.3V347.2M1114.5 251.3V368.0M1115.5 234.1V344.9M1116.5 228.0V352.2M1117.5 261.5V343.4M1118.5 261.5V352.8M1119.5 235.0V331.4M1120.5 263.0V332.7M1121.5 262.9V346.7M1122.5 262.4V339.5M1123.5 265.8V324.8M1124.5 260.9V327.0M1125.5 234.1V328.8M1126.5 264.0V341.8M1127.5 264.4V339.6M1128.5 259.0V330.8M1129.5 260.6V326.3M1130.5 269.4V335.7M1131.5 234.5V333.6M1132.5 264.7V318.6M1133.5 262.6V314.8M1134.5 265.7V321.1M1135.5 272.7V317.5M1136.5 273.9V322.4M1137.5 268.2V358.0M1138.5 272.5V308.7M1139.5 274.0V333.1M1140.5 272.9V324.7M1141.5 277.0V327.8M1142.5 251.6V304.8M1143.5 222.1V309.5M1144.5 232.5V301.5M1145.5 222.0V305.8M1146.5 242.6V300.1M1147.5 239.2V297.2M1148.5 274.6V292.2M1149.5 258.8V292.5M1150.5 246.0V292.4M1151.5 259.2V290.8M1152.5 274.5V296.6M1153.5 265.9V294.5M1154.5 275.6V291.8M1155.5 270.3V292.6M1156.5 273.0V292.0M1157.5 243.0V294.4M1158.5 266.8V296.6M1159.5 273.5V293.4M1160.5 266.2V292.6M1161.5 236.7V293.0M1162.5 275.8V292.2M1163.5 271.6V311.4M1164.5 272.8V310.4M1165.5 272.1V319.8M1166.5 274.0V334.0M1167.5 233.7V316.6M1168.5 275.7V318.0M1169.5 272.6V314.6M1170.5 258.7V316.6M1171.5 252.3V309.9M1172.5 252.9V311.4M1173.5 234.3V301.5M1174.5 218.0V299.7M1175.5 255.1V298.0M1176.5 233.0V296.5M1177.5 258.9V294.1M1178.5 269.6V290.4M1179.5 239.0V293.8M1180.5 272.7V292.7M1181.5 264.1V294.3M1182.5 265.0V291.3M1183.5 250.1V290.7M1184.5 240.3V292.7M1185.5 235.0V294.9M1186.5 261.2V292.5M1187.5 273.7V293.4M1188.5 255.1V292.6M1189.5 267.5V289.5M1190.5 233.5V293.9M1191.5 225.8V292.7M1192.5 261.4V363.3M1193.5 248.0V366.1M1194.5 266.1V400.0M1195.5 255.7V377.9M1196.5 257.4V374.9M1197.5 264.4V369.7M1198.5 265.8V395.0M1199.5 259.9V368.5M1200.5 260.6V364.1M1201.5 262.1V368.6M1202.5 258.5V383.0M1203.5 237.0V356.8M1204.5 265.5V356.4M1205.5 258.9V349.5M1206.5 261.7V347.0M1207.5 259.8V353.9M1208.5 259.0V350.4M1209.5 258.7V341.1M1210.5 265.1V338.8M1211.5 266.6V351.6M1212.5 263.0V346.8M1213.5 260.9V348.1M1214.5 261.5V331.5M1215.5 264.8V344.9M1216.5 255.7V340.3M1217.5 261.9V332.8M1218.5 263.7V339.8M1219.5 262.9V332.5M1220.5 260.7V366.0M1221.5 270.8V305.3M1222.5 274.0V318.4M1223.5 274.0V320.6M1224.5 234.2V314.8M1225.5 274.7V322.8M1226.5 275.3V328.5M1227.5 273.1V318.1M1228.5 261.6V315.8M1229.5 265.2V316.3M1230.5 235.8V305.5M1231.5 224.0V305.7M1232.5 274.7V298.2M1233.5 270.9V295.5M1234.5 254.9V291.3M1235.5 263.4V288.7M1236.5 231.0V293.1M1237.5 247.9V293.5M1238.5 252.6V292.4M1239.5 258.1V295.3M1240.5 269.5V291.7M1241.5 261.5V291.7M1242.5 259.0V293.7M1243.5 246.0V292.9M1244.5 262.3V294.2M1245.5 261.5V292.2M1246.5 271.5V291.6M1247.5 267.9V293.1M1248.5 272.8V292.2M1249.5 273.9V303.7M1250.5 276.3V311.2M1251.5 274.0V311.5M1252.5 276.6V320.0M1253.5 276.5V315.4M1254.5 258.8V333.0M1255.5 276.4V343.8M1256.5 272.6V312.5M1257.5 252.9V309.4M1258.5 237.0V307.7M1259.5 273.8V312.7M1260.5 220.0V302.4M1261.5 253.8V296.6M1262.5 274.8V295.2M1263.5 272.0V293.6M1264.5 257.6V292.6M1265.5 244.0V296.4M1266.5 229.9V294.6M1267.5 275.9V293.2M1268.5 273.2V294.3M1269.5 259.5V293.7M1270.5 250.9V295.9M1271.5 275.3V292.8M1272.5 239.0V293.3M1273.5 273.0V291.1M1274.5 272.4V292.6M1275.5 268.5V292.0M1276.5 274.3V291.3M1277.5 274.0V291.8M1278.5 245.4V304.7M1279.5 273.3V313.7M1280.5 274.5V307.7M1281.5 273.0V325.1M1282.5 270.7V324.8M1283.5 249.0V331.0M1284.5 275.7V319.2M1285.5 273.3V318.7M1286.5 254.2V305.5M1287.5 271.7V315.5M1288.5 252.4V307.7M1289.5 216.0V303.0M1290.5 239.9V299.4M1291.5 249.7V293.6M1292.5 260.3V293.9M1293.5 244.5V294.9M1294.5 237.0V295.1M1295.5 272.3V291.9M1296.5 256.0V294.5M1297.5 263.9V292.1M1298.5 271.6V291.9M1299.5 274.3V294.5M1300.5 269.7V292.6M1301.5 231.0V291.6M1302.5 267.1V292.5M1303.5 276.2V290.7M1304.5 278.0V293.9M1305.5 274.5V295.0M1306.5 274.4V293.5M1307.5 273.8V310.1M1308.5 272.8V314.8M1309.5 274.0V317.5M1310.5 274.0V366.0M1311.5 273.0V323.0M1312.5 277.0V333.2M1313.5 268.7V333.7M1314.5 266.2V360.0M1315.5 247.5V311.0M1316.5 240.6V305.0M1317.5 223.0V308.1M1318.5 244.6V304.4M1319.5 272.5V296.3M1320.5 271.7V291.5M1321.5 271.5V293.5M1322.5 274.4V292.4M1323.5 259.1V291.0M1324.5 256.8V292.8M1325.5 272.9V293.1M1326.5 274.0V294.4M1327.5 271.9V292.3M1328.5 274.0V291.0M1329.5 272.6V292.2M1330.5 273.5V291.6M1331.5 273.8V293.3M1332.5 275.2V291.8M1333.5 275.0V292.8M1334.5 272.1V292.9M1335.5 274.0V292.2M1336.5 271.4V305.4M1337.5 273.5V324.4M1338.5 272.4V313.5M1339.5 274.0V312.6M1340.5 273.9V355.0M1341.5 272.3V339.7M1342.5 275.9V315.9M1343.5 270.9V325.1M1344.5 246.0V309.2M1345.5 238.6V305.0M1346.5 220.0V300.9M1347.5 264.9V302.5M1348.5 275.6V295.8M1349.5 256.0V292.1M1350.5 263.4V294.8M1351.5 246.0V292.5M1352.5 257.3V291.5M1353.5 270.3V292.1M1354.5 260.2V292.9M1355.5 264.0V291.5M1356.5 256.8V292.9M1357.5 271.3V292.9M1358.5 241.0V292.2M1359.5 269.0V294.6M1360.5 259.6V292.7M1361.5 266.1V292.2M1362.5 272.1V296.7M1363.5 272.9V292.2M1364.5 254.7V303.9M1365.5 272.1V309.0M1366.5 259.7V317.2M1367.5 276.4V361.0M1368.5 275.0V327.8M1369.5 272.0V339.8M1370.5 270.7V333.9M1371.5 276.2V316.4M1372.5 267.2V312.1M1373.5 246.5V304.1M1374.5 239.9V311.1M1375.5 222.0V302.4M1376.5 256.1V296.6M1377.5 255.7V294.1M1378.5 261.5V293.6M1379.5 274.9V294.6M1380.5 251.0V291.8M1381.5 261.8V292.9M1382.5 274.7V291.8M1383.5 267.5V292.4M1384.5 260.8V293.0M1385.5 262.3V295.6M1386.5 267.3V292.4M1387.5 272.4V290.7M1388.5 245.0V290.9M1389.5 255.4V294.1M1390.5 275.2V295.2M1391.5 269.2V291.6M1392.5 271.2V294.5" stroke="#0080ff" stroke-width="1.6" stroke-linecap="round" fill="none"/>
<path d="M487.5 270V204.6M495.5 270V199.6M500.5 270V232.6M511.5 270V207.6M516.5 270V215.6M524.5 270V210.6M540.5 270V192.6M544.5 270V176.6M552.5 270V171.6M556.5 270V204.6M569.5 270V203.6M574.5 270V201.6M581.5 270V196.6M587.5 270V230.6M598.5 270V207.6M610.5 270V207.6M617.5 270V246.6M626.5 270V210.6M639.5 270V214.6M645.5 270V257.6M655.5 270V210.6M668.5 270V215.6M673.5 270V252.6M684.5 270V205.6M691.5 270V189.6M697.5 270V183.6M713.5 270V211.6M717.5 270V215.6M725.5 270V210.6M741.5 270V213.6M747.5 270V223.6M754.5 270V218.6M770.5 270V213.6M775.5 270V226.6M783.5 270V220.6M799.5 270V236.6M829.5 270V220.6M841.5 270V232.6M857.5 270V217.6M862.5 270V231.6M869.5 270V226.6M886.5 270V215.6M890.5 270V231.6M898.5 270V226.6M915.5 270V215.6M919.5 270V231.6M927.5 270V226.6M944.5 270V231.6M973.5 270V233.6M1001.5 270V226.6M1012.5 270V246.6M1030.5 270V218.6M1034.5 270V239.6M1041.5 270V233.6M1059.5 270V217.6M1063.5 270V236.6M1070.5 270V231.6M1087.5 270V217.6M1092.5 270V237.6M1099.5 270V232.6M1116.5 270V228.6M1128.5 270V259.6M1145.5 270V222.6M1150.5 270V246.6M1157.5 270V243.6M1174.5 270V218.6M1179.5 270V239.6M1185.5 270V235.6M1203.5 270V237.6M1231.5 270V224.6M1236.5 270V231.6M1243.5 270V246.6M1260.5 270V220.6M1265.5 270V244.6M1272.5 270V239.6M1289.5 270V216.6M1294.5 270V237.6M1301.5 270V231.6M1317.5 270V223.6M1346.5 270V220.6M1351.5 270V246.6M1358.5 270V241.6M1375.5 270V222.6M1380.5 270V251.6M1388.5 270V245.6" stroke="#0080ff" stroke-width="2.1" stroke-linecap="round" fill="none"/>
<line x1="484" y1="537" x2="1393.5" y2="537" stroke="#9a9a9a" stroke-width="1.6"/>
<line x1="628" y1="537" x2="628" y2="530.5" stroke="#777" stroke-width="1.3"/>
<text x="628" y="564.6" font-size="30" text-anchor="middle">5000</text>
<line x1="782" y1="537" x2="782" y2="530.5" stroke="#777" stroke-width="1.3"/>
<text x="782" y="564.6" font-size="30" text-anchor="middle">10000</text>
<line x1="936" y1="537" x2="936" y2="530.5" stroke="#777" stroke-width="1.3"/>
<text x="936" y="564.6" font-size="30" text-anchor="middle">15000</text>
<line x1="1090" y1="537" x2="1090" y2="530.5" stroke="#777" stroke-width="1.3"/>
<text x="1090" y="564.6" font-size="30" text-anchor="middle">20000</text>
<line x1="1244" y1="537" x2="1244" y2="530.5" stroke="#777" stroke-width="1.3"/>
<text x="1244" y="564.6" font-size="30" text-anchor="middle">25000</text>
<line x1="474.5" y1="34.1" x2="479.5" y2="34.1" stroke="#aaa" stroke-width="1.2"/>
<text transform="translate(426.4,45.6) scale(0.93,1)" font-size="32" text-anchor="middle">0.25</text>
<line x1="474.5" y1="84.4" x2="479.5" y2="84.4" stroke="#aaa" stroke-width="1.2"/>
<text transform="translate(426.4,95.9) scale(0.93,1)" font-size="32" text-anchor="middle">0.2</text>
<line x1="474.5" y1="134.7" x2="479.5" y2="134.7" stroke="#aaa" stroke-width="1.2"/>
<text transform="translate(426.4,146.2) scale(0.93,1)" font-size="32" text-anchor="middle">0.15</text>
<line x1="474.5" y1="185.0" x2="479.5" y2="185.0" stroke="#aaa" stroke-width="1.2"/>
<text transform="translate(426.4,196.5) scale(0.93,1)" font-size="32" text-anchor="middle">0.1</text>
<line x1="474.5" y1="235.3" x2="479.5" y2="235.3" stroke="#aaa" stroke-width="1.2"/>
<text transform="translate(426.4,246.8) scale(0.93,1)" font-size="32" text-anchor="middle">0.05</text>
<line x1="474.5" y1="285.6" x2="479.5" y2="285.6" stroke="#aaa" stroke-width="1.2"/>
<text transform="translate(426.4,297.1) scale(0.93,1)" font-size="32" text-anchor="middle">0</text>
<line x1="474.5" y1="335.9" x2="479.5" y2="335.9" stroke="#aaa" stroke-width="1.2"/>
<text transform="translate(426.4,347.4) scale(0.93,1)" font-size="32" text-anchor="middle">-0.05</text>
<line x1="474.5" y1="386.2" x2="479.5" y2="386.2" stroke="#aaa" stroke-width="1.2"/>
<text transform="translate(426.4,397.7) scale(0.93,1)" font-size="32" text-anchor="middle">-0.1</text>
<line x1="474.5" y1="436.5" x2="479.5" y2="436.5" stroke="#aaa" stroke-width="1.2"/>
<text transform="translate(426.4,448.0) scale(0.93,1)" font-size="32" text-anchor="middle">-0.15</text>
<line x1="474.5" y1="486.8" x2="479.5" y2="486.8" stroke="#aaa" stroke-width="1.2"/>
<text transform="translate(426.4,498.3) scale(0.93,1)" font-size="32" text-anchor="middle">-0.2</text>
<line x1="474.5" y1="537.1" x2="479.5" y2="537.1" stroke="#aaa" stroke-width="1.2"/>
<text transform="translate(426.4,548.6) scale(0.93,1)" font-size="32" text-anchor="middle">-0.25</text>
<rect x="472.2" y="13.6" width="9.6" height="537" fill="none" stroke="#000" stroke-width="4.2"/>
<text transform="translate(369.3,456.3) rotate(-90)" font-size="34" textLength="336.5" lengthAdjust="spacingAndGlyphs">Voltage  Difference (V)</text>
<text x="681.8" y="628.6" font-size="34" textLength="507" lengthAdjust="spacingAndGlyphs">Injection-Measurement Electrode</text>
<text x="743.9" y="668.8" font-size="34" textLength="383.8" lengthAdjust="spacingAndGlyphs">Combinations in Protocol</text>
<rect x="973.8" y="2.5" width="418" height="66" fill="#fff" stroke="#333" stroke-width="1.2"/>
<line x1="985" y1="22.3" x2="1055.5" y2="22.3" stroke="#ff0000" stroke-width="3.2"/>
<line x1="985" y1="52" x2="1055.5" y2="52" stroke="#0a84ff" stroke-width="3.2"/>
<text x="1065.8" y="29.6" font-size="22">(Healthy</text>
<text x="1156.5" y="29.6" font-size="22">–</text>
<text x="1176.5" y="29.6" font-size="22">Hemorrhagic)</text>
<text x="1321" y="29.6" font-size="22">Mean</text>
<text x="1065.8" y="57.9" font-size="22">(Healthy</text>
<text x="1156.5" y="57.9" font-size="22">–</text>
<text x="1176.5" y="57.9" font-size="22">Ischemic)</text>
<text x="1280" y="57.9" font-size="22">Mean</text>
<path d="M478.7,575.6 C478.7,700 513,722.5 527,722.5 L570,723" fill="none" stroke="#000" stroke-width="3.3"/>
<path d="M567.5,716.2 L581.5,723.1 L567.5,730 Z" fill="#000"/>
<line x1="623.3" y1="725" x2="623.3" y2="1017.5" stroke="#8a8a8a" stroke-width="1.3"/>
<line x1="623.3" y1="774.0" x2="629.8" y2="774.0" stroke="#8a8a8a" stroke-width="1.3"/>
<text x="567" y="784.5" font-size="29" text-anchor="middle">0.1</text>
<line x1="623.3" y1="823.6" x2="629.8" y2="823.6" stroke="#8a8a8a" stroke-width="1.3"/>
<text x="567" y="834.1" font-size="29" text-anchor="middle">0.05</text>
<line x1="623.3" y1="872.6" x2="629.8" y2="872.6" stroke="#8a8a8a" stroke-width="1.3"/>
<text x="567" y="883.1" font-size="29" text-anchor="middle">0</text>
<line x1="623.3" y1="922.4" x2="629.8" y2="922.4" stroke="#8a8a8a" stroke-width="1.3"/>
<text x="567" y="932.9" font-size="29" text-anchor="middle">-0.05</text>
<line x1="623.3" y1="971.2" x2="629.8" y2="971.2" stroke="#8a8a8a" stroke-width="1.3"/>
<text x="567" y="981.7" font-size="29" text-anchor="middle">-0.1</text>
<line x1="778.3" y1="725.5" x2="778.3" y2="1017" stroke="#7a7a7a" stroke-width="1.5" stroke-dasharray="13.4 9.4" stroke-dashoffset="4"/>
<line x1="934.4" y1="725.5" x2="934.4" y2="1017" stroke="#7a7a7a" stroke-width="1.5" stroke-dasharray="13.4 9.4" stroke-dashoffset="4"/>
<line x1="1090.1" y1="725.5" x2="1090.1" y2="1017" stroke="#7a7a7a" stroke-width="1.5" stroke-dasharray="13.4 9.4" stroke-dashoffset="4"/>
<line x1="1246.0" y1="725.5" x2="1246.0" y2="1017" stroke="#7a7a7a" stroke-width="1.5" stroke-dasharray="13.4 9.4" stroke-dashoffset="4"/>
<polyline points="627.5,860.4 632.7,866.3 637.9,871.3 643.1,874.7 648.3,875.7 653.5,858.4 658.7,869.8 663.9,875.2 669.1,876.5 674.3,856.1 679.5,868.3 684.7,875.2 689.9,877.2 695.1,878.2 700.3,877.2 705.5,873.9 710.7,876.2 715.9,878.2 721.1,878.5 726.3,879.2 731.5,877.5 736.7,878.7 741.9,879.0 747.1,876.5 752.3,879.2 757.5,879.5 762.7,878.9 767.9,879.5 773.1,879.5 778.3,879.5 783.5,869.7 788.7,886.0 793.9,874.6 799.1,866.7 804.3,864.2 809.5,911.3 814.7,879.6 819.9,866.7 825.1,863.2 830.3,925.2 835.5,888.5 840.7,866.7 845.9,861.3 851.1,858.8 856.3,864.2 861.5,873.6 866.7,865.7 871.9,859.3 877.1,858.0 882.3,856.3 887.5,862.7 892.7,858.8 897.9,857.8 903.1,866.7 908.3,858.3 913.5,856.3 918.7,857.0 923.9,856.6 929.1,855.8 934.3,856.3 939.5,871.7 944.7,881.6 949.9,875.6 955.1,872.6 960.3,871.2 965.5,893.5 970.7,881.6 975.9,874.1 981.1,872.2 986.3,901.4 991.5,892.5 996.7,876.6 1001.9,871.2 1007.1,869.7 1012.3,872.2 1017.5,884.0 1022.7,878.6 1027.9,871.7 1033.1,870.2 1038.3,868.7 1043.5,875.8 1048.7,872.2 1053.9,870.5 1059.1,877.4 1064.3,871.2 1069.5,869.9 1074.7,869.7 1079.9,869.2 1085.1,868.5 1090.3,869.7 1095.5,873.4 1100.7,866.5 1105.9,871.9 1111.1,874.6 1116.3,874.6 1121.5,871.5 1126.7,875.1 1131.9,875.6 1137.1,875.6 1142.3,872.6 1147.5,878.6 1152.7,877.6 1157.9,876.6 1163.1,876.1 1168.3,875.8 1173.5,880.1 1178.7,879.1 1183.9,877.6 1189.1,877.1 1194.3,876.6 1199.5,879.1 1204.7,878.1 1209.9,877.4 1215.1,878.8 1220.3,878.1 1225.5,877.4 1230.7,876.8 1235.9,877.1 1241.1,876.8 1246.3,877.4" fill="none" stroke="#ff2020" stroke-width="2" stroke-linejoin="round"/>
<polyline points="627.5,875.2 632.7,873.2 637.9,871.9 643.1,871.5 648.3,871.5 653.5,873.7 658.7,871.7 663.9,871.3 669.1,871.3 674.3,861.3 679.5,869.8 684.7,870.6 689.9,871.0 695.1,871.0 700.3,868.8 705.5,868.0 710.7,869.8 715.9,870.6 721.1,871.0 726.3,870.6 731.5,868.8 736.7,869.8 741.9,870.3 747.1,868.0 752.3,869.8 757.5,870.3 762.7,870.6 767.9,869.3 773.1,869.6 778.3,869.5 783.5,872.6 788.7,870.2 793.9,872.6 799.1,874.1 804.3,874.6 809.5,868.7 814.7,873.6 819.9,874.6 825.1,875.1 830.3,899.4 835.5,878.6 840.7,876.6 845.9,876.1 851.1,876.1 856.3,882.1 861.5,883.5 866.7,879.6 871.9,877.6 877.1,877.1 882.3,877.4 887.5,880.8 892.7,878.6 897.9,877.8 903.1,883.5 908.3,880.1 913.5,878.4 918.7,877.4 923.9,879.8 929.1,878.4 934.3,878.9 939.5,872.4 944.7,871.7 949.9,871.2 955.1,871.9 960.3,871.9 965.5,866.5 970.7,869.2 975.9,871.2 981.1,872.4 986.3,875.4 991.5,865.2 996.7,869.7 1001.9,871.9 1007.1,872.4 1012.3,873.6 1017.5,868.7 1022.7,869.9 1027.9,871.9 1033.1,872.4 1038.3,872.8 1043.5,871.2 1048.7,872.2 1053.9,871.9 1059.1,871.9 1064.3,871.9 1069.5,872.2 1074.7,872.4 1079.9,872.8 1085.1,872.6 1090.3,872.3 1095.5,872.4 1100.7,874.6 1105.9,872.2 1111.1,871.5 1116.3,871.5 1121.5,870.5 1126.7,870.2 1131.9,870.7 1137.1,871.2 1142.3,864.2 1147.5,866.7 1152.7,869.7 1157.9,870.7 1163.1,870.9 1168.3,869.5 1173.5,866.5 1178.7,868.7 1183.9,869.9 1189.1,870.5 1194.3,870.7 1199.5,868.5 1204.7,869.5 1209.9,870.5 1215.1,867.9 1220.3,869.2 1225.5,869.9 1230.7,870.5 1235.9,869.9 1241.1,870.2 1246.3,870.2" fill="none" stroke="#2a90ff" stroke-width="2" stroke-linejoin="round"/>
<rect x="613.3" y="722.2" width="644" height="297.9" fill="none" stroke="#000" stroke-width="6" stroke-linejoin="round"/>
<text x="778.3" y="1067.2" font-size="29" text-anchor="middle">30</text>
<text x="934.5" y="1067.2" font-size="29" text-anchor="middle">60</text>
<text x="1090.2" y="1067.2" font-size="29" text-anchor="middle">90</text>
<text x="1247.7" y="1067.2" font-size="29" text-anchor="middle">120</text>
<text transform="translate(478.4,1017.5) rotate(-90)" font-size="34" textLength="279.3" lengthAdjust="spacingAndGlyphs">Voltage Difference</text>
<text transform="translate(516.5,876) rotate(-90)" font-size="34" text-anchor="middle">(V)</text>
<g fill="none" stroke="#acacac" stroke-width="3" stroke-dasharray="11.9 10.7">
<path d="M733,1059 L523.4,1169.7 L523.4,1610"/>
<path d="M935,1080 L935,1616"/>
<path d="M1136,1059 L1343.6,1169.6 L1343.6,1610"/>
</g>
<g fill="none" stroke="#b4b4b4" stroke-width="1.2">
<path d="M318.6,1243.2 L326.2,1243.1 L333.7,1243.3 L341.3,1243.9 L348.8,1244.9 L356.3,1246.3 L363.8,1248.1 L371.2,1250.3 L378.4,1252.9 L385.5,1255.8 L392.5,1259.2 L399.3,1262.9 L405.9,1267.0 L412.3,1271.5 L418.5,1276.3 L424.4,1281.4 L430.0,1286.9 L435.3,1292.7 L440.3,1298.7 L445.0,1305.1 L449.4,1311.7 L453.3,1318.6 L456.9,1325.6 L460.1,1332.9 L462.9,1340.3 L465.3,1347.9 L467.3,1355.6 L468.8,1363.4 L469.9,1371.3 L470.6,1379.2 L470.8,1387.2 L470.6,1395.2 L469.9,1403.1 L468.8,1411.0 L467.3,1418.8 L465.3,1426.5 L462.9,1434.1 L460.1,1441.5 L456.9,1448.8 L453.3,1455.8 L449.4,1462.7 L445.0,1469.3 L440.3,1475.7 L435.3,1481.7 L430.0,1487.5 L424.4,1493.0 L418.5,1498.1 L412.3,1502.9 L405.9,1507.4 L399.3,1511.5 L392.5,1515.2 L385.5,1518.6 L378.4,1521.5 L371.2,1524.1 L363.8,1526.3 L356.3,1528.1 L348.8,1529.5 L341.3,1530.5 L333.7,1531.1 L326.2,1531.3 L318.6,1531.2 L311.0,1531.3 L303.5,1531.1 L295.9,1530.5 L288.4,1529.5 L280.9,1528.1 L273.4,1526.3 L266.0,1524.1 L258.8,1521.5 L251.7,1518.6 L244.7,1515.2 L237.9,1511.5 L231.3,1507.4 L224.9,1502.9 L218.7,1498.1 L212.8,1493.0 L207.2,1487.5 L201.9,1481.7 L196.9,1475.7 L192.2,1469.3 L187.8,1462.7 L183.9,1455.8 L180.3,1448.8 L177.1,1441.5 L174.3,1434.1 L171.9,1426.5 L169.9,1418.8 L168.4,1411.0 L167.3,1403.1 L166.6,1395.2 L166.4,1387.2 L166.6,1379.2 L167.3,1371.3 L168.4,1363.4 L169.9,1355.6 L171.9,1347.9 L174.3,1340.3 L177.1,1332.9 L180.3,1325.6 L183.9,1318.6 L187.8,1311.7 L192.2,1305.1 L196.9,1298.7 L201.9,1292.7 L207.2,1286.9 L212.8,1281.4 L218.7,1276.3 L224.9,1271.5 L231.3,1267.0 L237.9,1262.9 L244.7,1259.2 L251.7,1255.8 L258.8,1252.9 L266.0,1250.3 L273.4,1248.1 L280.9,1246.3 L288.4,1244.9 L295.9,1243.9 L303.5,1243.3 L311.0,1243.1 L318.6,1243.2Z"/>
<path d="M318.6,1272.0 L324.6,1271.9 L330.7,1272.1 L336.8,1272.6 L342.8,1273.4 L348.8,1274.5 L354.8,1275.9 L360.6,1277.7 L366.4,1279.7 L372.1,1282.1 L377.7,1284.8 L383.2,1287.8 L388.5,1291.0 L393.6,1294.6 L398.5,1298.5 L403.2,1302.6 L407.7,1307.0 L412.0,1311.6 L416.0,1316.4 L419.7,1321.5 L423.2,1326.8 L426.4,1332.3 L429.3,1337.9 L431.8,1343.7 L434.1,1349.7 L436.0,1355.8 L437.5,1361.9 L438.8,1368.2 L439.6,1374.5 L440.2,1380.8 L440.4,1387.2 L440.2,1393.6 L439.6,1399.9 L438.8,1406.2 L437.5,1412.5 L436.0,1418.6 L434.1,1424.7 L431.8,1430.7 L429.3,1436.5 L426.4,1442.1 L423.2,1447.6 L419.7,1452.9 L416.0,1458.0 L412.0,1462.8 L407.7,1467.4 L403.2,1471.8 L398.5,1475.9 L393.6,1479.8 L388.5,1483.4 L383.2,1486.6 L377.7,1489.6 L372.1,1492.3 L366.4,1494.7 L360.6,1496.7 L354.8,1498.5 L348.8,1499.9 L342.8,1501.0 L336.8,1501.8 L330.7,1502.3 L324.6,1502.5 L318.6,1502.4 L312.6,1502.5 L306.5,1502.3 L300.4,1501.8 L294.4,1501.0 L288.4,1499.9 L282.4,1498.5 L276.6,1496.7 L270.8,1494.7 L265.1,1492.3 L259.5,1489.6 L254.0,1486.6 L248.7,1483.4 L243.6,1479.8 L238.7,1475.9 L234.0,1471.8 L229.5,1467.4 L225.2,1462.8 L221.2,1458.0 L217.5,1452.9 L214.0,1447.6 L210.8,1442.1 L207.9,1436.5 L205.4,1430.7 L203.1,1424.7 L201.2,1418.6 L199.7,1412.5 L198.4,1406.2 L197.6,1399.9 L197.0,1393.6 L196.9,1387.2 L197.0,1380.8 L197.6,1374.5 L198.4,1368.2 L199.7,1361.9 L201.2,1355.8 L203.1,1349.7 L205.4,1343.7 L207.9,1337.9 L210.8,1332.3 L214.0,1326.8 L217.5,1321.5 L221.2,1316.4 L225.2,1311.6 L229.5,1307.0 L234.0,1302.6 L238.7,1298.5 L243.6,1294.6 L248.7,1291.0 L254.0,1287.8 L259.5,1284.8 L265.1,1282.1 L270.8,1279.7 L276.6,1277.7 L282.4,1275.9 L288.4,1274.5 L294.4,1273.4 L300.4,1272.6 L306.5,1272.1 L312.6,1271.9 L318.6,1272.0Z"/>
<line x1="318.6" y1="1243.2" x2="318.6" y2="1531.2"/>
<path d="M290.7,1243.6 C300.6,1229.2 308.6,1218.7 318.4,1218.9 C328.6,1218.7 337.6,1229.2 348.1,1243.6"/>
<path d="M164.1,1381.7 C152.6,1381.2 153.6,1417.2 158.6,1421.2 C162.6,1424.2 166.6,1422.2 168.6,1420.2"/>
<path d="M473.1,1381.7 C484.6,1381.2 483.6,1417.2 478.6,1421.2 C474.6,1424.2 470.6,1422.2 468.6,1420.2"/>
<path d="M462.7,1339.4 Q451.6,1323.7 439.3,1323.8 C428.6,1323.7 422.6,1342.2 422.1,1362.2 C421.6,1379.2 414.6,1395.2 407.0,1407.4"/>
<path d="M174.5,1339.4 Q185.6,1323.7 197.9,1323.8 C208.6,1323.7 214.6,1342.2 215.1,1362.2 C215.6,1379.2 222.6,1395.2 230.2,1407.4"/>
<path d="M228.0,1370.2 C258.6,1377.2 293.6,1392.2 318.6,1416.2 C343.6,1392.2 378.6,1377.2 409.2,1370.2"/>
</g>
<path d="M232.7,1319.6h0M256.8,1324.1h0M281.6,1326.9h0M306.4,1328.9h0M330.8,1328.9h0M355.6,1326.9h0M380.4,1324.1h0M404.5,1319.6h0M217.3,1351.9h0M246.1,1354.8h0M275.3,1356.4h0M304.5,1357.7h0M332.7,1357.7h0M361.9,1356.4h0M391.1,1354.8h0M419.9,1351.9h0M212.1,1387.2h0M242.5,1387.2h0M272.9,1387.2h0M303.4,1387.2h0M333.8,1387.2h0M364.3,1387.2h0M394.7,1387.2h0M425.1,1387.2h0M217.3,1422.5h0M246.1,1419.6h0M275.3,1418.0h0M304.5,1416.7h0M332.7,1416.7h0M361.9,1418.0h0M391.1,1419.6h0M419.9,1422.5h0M232.7,1454.8h0M256.8,1450.3h0M281.6,1447.5h0M306.4,1445.5h0M330.8,1445.5h0M355.6,1447.5h0M380.4,1450.3h0M404.5,1454.8h0M254.1,1307.9h0M275.4,1311.4h0M297.1,1313.7h0M318.6,1315.2h0M340.1,1313.7h0M361.8,1311.4h0M383.1,1307.9h0M237.1,1337.4h0M264.2,1340.4h0M291.7,1342.4h0M318.6,1344.0h0M345.5,1342.4h0M373.0,1340.4h0M400.1,1337.4h0M228.4,1370.2h0M258.5,1371.3h0M288.7,1371.9h0M318.6,1372.8h0M348.5,1371.9h0M378.7,1371.3h0M408.8,1370.2h0M228.4,1404.2h0M258.5,1403.1h0M288.7,1402.5h0M318.6,1401.6h0M348.5,1402.5h0M378.7,1403.1h0M408.8,1404.2h0M237.1,1437.0h0M264.2,1434.0h0M291.7,1432.0h0M318.6,1430.4h0M345.5,1432.0h0M373.0,1434.0h0M400.1,1437.0h0M254.1,1466.5h0M275.4,1463.0h0M297.1,1460.7h0M318.6,1459.2h0M340.1,1460.7h0M361.8,1463.0h0M383.1,1466.5h0M256.9,1293.2h0M265.4,1295.0h0M283.0,1297.7h0M300.8,1299.6h0M309.7,1300.3h0M327.5,1300.3h0M336.4,1299.6h0M354.2,1297.7h0M371.8,1295.0h0M380.3,1293.2h0M256.9,1481.2h0M265.4,1479.4h0M283.0,1476.7h0M300.8,1474.8h0M309.7,1474.1h0M327.5,1474.1h0M336.4,1474.8h0M354.2,1476.7h0M371.8,1479.4h0M380.3,1481.2h0M278.3,1283.6h0M305.2,1285.7h0M318.6,1286.4h0M332.0,1285.7h0M358.9,1283.6h0M278.3,1490.8h0M305.2,1488.7h0M318.6,1488.0h0M332.0,1488.7h0M358.9,1490.8h0M336.8,1272.6h0M372.1,1282.1h0M403.2,1302.6h0M426.4,1332.3h0M438.8,1368.2h0M438.8,1406.2h0M426.4,1442.1h0M403.2,1471.8h0M372.1,1492.3h0M336.8,1501.8h0M300.4,1501.8h0M265.1,1492.3h0M234.0,1471.8h0M210.8,1442.1h0M198.4,1406.2h0M198.4,1368.2h0M210.8,1332.3h0M234.0,1302.6h0M265.1,1282.1h0M300.4,1272.6h0M378.8,1269.0h0M397.2,1279.0h0M413.8,1292.0h0M428.2,1307.6h0M448.5,1345.0h0M455.6,1387.2h0M453.8,1408.6h0M448.5,1429.4h0M428.2,1466.8h0M397.2,1495.4h0M359.3,1512.4h0M318.6,1516.8h0M277.9,1512.4h0M240.0,1495.4h0M209.0,1466.8h0M188.7,1429.4h0M183.4,1408.6h0M181.6,1387.2h0M188.7,1345.0h0M209.0,1307.6h0M223.4,1292.0h0M240.0,1279.0h0M258.4,1269.0h0M385.5,1255.8h0M405.9,1267.0h0M424.4,1281.4h0M453.3,1318.6h0M468.8,1363.4h0M468.8,1411.0h0M462.9,1434.1h0M453.3,1455.8h0M424.4,1493.0h0M385.5,1518.6h0M341.3,1530.5h0M295.9,1530.5h0M251.7,1518.6h0M212.8,1493.0h0M183.9,1455.8h0M174.3,1434.1h0M168.4,1411.0h0M168.4,1363.4h0M183.9,1318.6h0M212.8,1281.4h0M231.3,1267.0h0M251.7,1255.8h0" stroke="#5a5a5a" stroke-width="2.1" stroke-linecap="round"/>
<circle cx="244.6" cy="1322.1" r="6.0" fill="#b3b3b3"/>
<circle cx="269.1" cy="1325.6" r="6.1" fill="#626262"/>
<circle cx="294.1" cy="1328.0" r="6.0" fill="#b3b3b3"/>
<circle cx="318.6" cy="1329.6" r="6.1" fill="#626262"/>
<circle cx="343.1" cy="1328.0" r="6.0" fill="#b3b3b3"/>
<circle cx="368.1" cy="1325.6" r="6.1" fill="#626262"/>
<circle cx="392.6" cy="1322.1" r="6.0" fill="#b3b3b3"/>
<circle cx="231.7" cy="1353.6" r="6.0" fill="#b3b3b3"/>
<circle cx="260.7" cy="1355.7" r="6.0" fill="#b3b3b3"/>
<circle cx="289.9" cy="1357.0" r="6.0" fill="#b3b3b3"/>
<circle cx="318.6" cy="1358.4" r="6.0" fill="#b3b3b3"/>
<circle cx="347.3" cy="1357.0" r="6.0" fill="#b3b3b3"/>
<circle cx="376.5" cy="1355.7" r="6.0" fill="#b3b3b3"/>
<circle cx="405.5" cy="1353.6" r="6.0" fill="#b3b3b3"/>
<circle cx="227.3" cy="1387.2" r="6.0" fill="#b3b3b3"/>
<circle cx="257.7" cy="1387.2" r="6.1" fill="#626262"/>
<circle cx="288.2" cy="1387.2" r="6.0" fill="#b3b3b3"/>
<circle cx="318.6" cy="1387.2" r="6.1" fill="#626262"/>
<circle cx="349.0" cy="1387.2" r="6.0" fill="#b3b3b3"/>
<circle cx="379.5" cy="1387.2" r="6.1" fill="#626262"/>
<circle cx="409.9" cy="1387.2" r="6.0" fill="#b3b3b3"/>
<circle cx="231.7" cy="1420.8" r="6.0" fill="#b3b3b3"/>
<circle cx="260.7" cy="1418.7" r="6.0" fill="#b3b3b3"/>
<circle cx="289.9" cy="1417.4" r="6.0" fill="#b3b3b3"/>
<circle cx="318.6" cy="1416.0" r="6.0" fill="#b3b3b3"/>
<circle cx="347.3" cy="1417.4" r="6.0" fill="#b3b3b3"/>
<circle cx="376.5" cy="1418.7" r="6.0" fill="#b3b3b3"/>
<circle cx="405.5" cy="1420.8" r="6.0" fill="#b3b3b3"/>
<circle cx="244.6" cy="1452.3" r="6.0" fill="#b3b3b3"/>
<circle cx="269.1" cy="1448.8" r="6.1" fill="#626262"/>
<circle cx="294.1" cy="1446.4" r="6.0" fill="#b3b3b3"/>
<circle cx="318.6" cy="1444.8" r="6.1" fill="#626262"/>
<circle cx="343.1" cy="1446.4" r="6.0" fill="#b3b3b3"/>
<circle cx="368.1" cy="1448.8" r="6.1" fill="#626262"/>
<circle cx="392.6" cy="1452.3" r="6.0" fill="#b3b3b3"/>
<circle cx="243.8" cy="1305.5" r="5.5" fill="#fff" stroke="#b0b0b0" stroke-width="0.9"/>
<circle cx="264.6" cy="1309.8" r="5.5" fill="#fff" stroke="#b0b0b0" stroke-width="0.9"/>
<circle cx="286.2" cy="1312.7" r="5.5" fill="#fff" stroke="#b0b0b0" stroke-width="0.9"/>
<circle cx="307.9" cy="1314.6" r="5.5" fill="#fff" stroke="#b0b0b0" stroke-width="0.9"/>
<circle cx="329.3" cy="1314.6" r="5.5" fill="#fff" stroke="#b0b0b0" stroke-width="0.9"/>
<circle cx="351.0" cy="1312.7" r="5.5" fill="#fff" stroke="#b0b0b0" stroke-width="0.9"/>
<circle cx="372.6" cy="1309.8" r="5.5" fill="#fff" stroke="#b0b0b0" stroke-width="0.9"/>
<circle cx="393.4" cy="1305.5" r="5.5" fill="#fff" stroke="#b0b0b0" stroke-width="0.9"/>
<circle cx="223.8" cy="1335.2" r="5.5" fill="#fff" stroke="#b0b0b0" stroke-width="0.9"/>
<circle cx="250.6" cy="1339.1" r="5.5" fill="#fff" stroke="#b0b0b0" stroke-width="0.9"/>
<circle cx="278.0" cy="1341.5" r="5.5" fill="#fff" stroke="#b0b0b0" stroke-width="0.9"/>
<circle cx="305.3" cy="1343.3" r="5.5" fill="#fff" stroke="#b0b0b0" stroke-width="0.9"/>
<circle cx="331.9" cy="1343.3" r="5.5" fill="#fff" stroke="#b0b0b0" stroke-width="0.9"/>
<circle cx="359.2" cy="1341.5" r="5.5" fill="#fff" stroke="#b0b0b0" stroke-width="0.9"/>
<circle cx="386.6" cy="1339.1" r="5.5" fill="#fff" stroke="#b0b0b0" stroke-width="0.9"/>
<circle cx="413.4" cy="1335.2" r="5.5" fill="#fff" stroke="#b0b0b0" stroke-width="0.9"/>
<circle cx="213.4" cy="1369.4" r="5.5" fill="#fff" stroke="#b0b0b0" stroke-width="0.9"/>
<circle cx="243.4" cy="1370.9" r="5.5" fill="#fff" stroke="#b0b0b0" stroke-width="0.9"/>
<circle cx="273.6" cy="1371.7" r="5.5" fill="#fff" stroke="#b0b0b0" stroke-width="0.9"/>
<circle cx="303.8" cy="1372.2" r="5.5" fill="#fff" stroke="#b0b0b0" stroke-width="0.9"/>
<circle cx="333.4" cy="1372.2" r="5.5" fill="#fff" stroke="#b0b0b0" stroke-width="0.9"/>
<circle cx="363.6" cy="1371.7" r="5.5" fill="#fff" stroke="#b0b0b0" stroke-width="0.9"/>
<circle cx="393.8" cy="1370.9" r="5.5" fill="#fff" stroke="#b0b0b0" stroke-width="0.9"/>
<circle cx="423.8" cy="1369.4" r="5.5" fill="#fff" stroke="#b0b0b0" stroke-width="0.9"/>
<circle cx="213.4" cy="1405.0" r="5.5" fill="#fff" stroke="#b0b0b0" stroke-width="0.9"/>
<circle cx="243.4" cy="1403.5" r="5.5" fill="#fff" stroke="#b0b0b0" stroke-width="0.9"/>
<circle cx="273.6" cy="1402.7" r="5.5" fill="#fff" stroke="#b0b0b0" stroke-width="0.9"/>
<circle cx="303.8" cy="1402.2" r="5.5" fill="#fff" stroke="#b0b0b0" stroke-width="0.9"/>
<circle cx="333.4" cy="1402.2" r="5.5" fill="#fff" stroke="#b0b0b0" stroke-width="0.9"/>
<circle cx="363.6" cy="1402.7" r="5.5" fill="#fff" stroke="#b0b0b0" stroke-width="0.9"/>
<circle cx="393.8" cy="1403.5" r="5.5" fill="#fff" stroke="#b0b0b0" stroke-width="0.9"/>
<circle cx="423.8" cy="1405.0" r="5.5" fill="#fff" stroke="#b0b0b0" stroke-width="0.9"/>
<circle cx="223.8" cy="1439.2" r="5.5" fill="#fff" stroke="#b0b0b0" stroke-width="0.9"/>
<circle cx="250.6" cy="1435.3" r="5.5" fill="#fff" stroke="#b0b0b0" stroke-width="0.9"/>
<circle cx="278.0" cy="1432.9" r="5.5" fill="#fff" stroke="#b0b0b0" stroke-width="0.9"/>
<circle cx="305.3" cy="1431.1" r="5.5" fill="#fff" stroke="#b0b0b0" stroke-width="0.9"/>
<circle cx="331.9" cy="1431.1" r="5.5" fill="#fff" stroke="#b0b0b0" stroke-width="0.9"/>
<circle cx="359.2" cy="1432.9" r="5.5" fill="#fff" stroke="#b0b0b0" stroke-width="0.9"/>
<circle cx="386.6" cy="1435.3" r="5.5" fill="#fff" stroke="#b0b0b0" stroke-width="0.9"/>
<circle cx="413.4" cy="1439.2" r="5.5" fill="#fff" stroke="#b0b0b0" stroke-width="0.9"/>
<circle cx="243.8" cy="1468.9" r="5.5" fill="#fff" stroke="#b0b0b0" stroke-width="0.9"/>
<circle cx="264.6" cy="1464.6" r="5.5" fill="#fff" stroke="#b0b0b0" stroke-width="0.9"/>
<circle cx="286.2" cy="1461.7" r="5.5" fill="#fff" stroke="#b0b0b0" stroke-width="0.9"/>
<circle cx="307.9" cy="1459.8" r="5.5" fill="#fff" stroke="#b0b0b0" stroke-width="0.9"/>
<circle cx="329.3" cy="1459.8" r="5.5" fill="#fff" stroke="#b0b0b0" stroke-width="0.9"/>
<circle cx="351.0" cy="1461.7" r="5.5" fill="#fff" stroke="#b0b0b0" stroke-width="0.9"/>
<circle cx="372.6" cy="1464.6" r="5.5" fill="#fff" stroke="#b0b0b0" stroke-width="0.9"/>
<circle cx="393.4" cy="1468.9" r="5.5" fill="#fff" stroke="#b0b0b0" stroke-width="0.9"/>
<circle cx="274.1" cy="1296.4" r="5.5" fill="#fff" stroke="#b0b0b0" stroke-width="0.9"/>
<circle cx="291.9" cy="1298.7" r="5.5" fill="#fff" stroke="#b0b0b0" stroke-width="0.9"/>
<circle cx="318.6" cy="1300.8" r="6.0" fill="#b3b3b3"/>
<circle cx="345.3" cy="1298.7" r="5.5" fill="#fff" stroke="#b0b0b0" stroke-width="0.9"/>
<circle cx="363.1" cy="1296.4" r="5.5" fill="#fff" stroke="#b0b0b0" stroke-width="0.9"/>
<circle cx="274.1" cy="1478.0" r="5.5" fill="#fff" stroke="#b0b0b0" stroke-width="0.9"/>
<circle cx="291.9" cy="1475.7" r="5.5" fill="#fff" stroke="#b0b0b0" stroke-width="0.9"/>
<circle cx="318.6" cy="1473.6" r="6.0" fill="#b3b3b3"/>
<circle cx="345.3" cy="1475.7" r="5.5" fill="#fff" stroke="#b0b0b0" stroke-width="0.9"/>
<circle cx="363.1" cy="1478.0" r="5.5" fill="#fff" stroke="#b0b0b0" stroke-width="0.9"/>
<circle cx="291.7" cy="1284.7" r="5.5" fill="#fff" stroke="#b0b0b0" stroke-width="0.9"/>
<circle cx="345.5" cy="1284.7" r="5.5" fill="#fff" stroke="#b0b0b0" stroke-width="0.9"/>
<circle cx="291.7" cy="1489.7" r="5.5" fill="#fff" stroke="#b0b0b0" stroke-width="0.9"/>
<circle cx="345.5" cy="1489.7" r="5.5" fill="#fff" stroke="#b0b0b0" stroke-width="0.9"/>
<circle cx="318.6" cy="1272.0" r="6.1" fill="#626262"/>
<circle cx="354.8" cy="1275.9" r="6.1" fill="#626262"/>
<circle cx="388.5" cy="1291.0" r="6.0" fill="#b3b3b3"/>
<circle cx="416.0" cy="1316.4" r="6.1" fill="#626262"/>
<circle cx="434.1" cy="1349.7" r="6.0" fill="#b3b3b3"/>
<circle cx="440.4" cy="1387.2" r="6.1" fill="#626262"/>
<circle cx="434.1" cy="1424.7" r="6.0" fill="#b3b3b3"/>
<circle cx="416.0" cy="1458.0" r="6.1" fill="#626262"/>
<circle cx="388.5" cy="1483.4" r="6.0" fill="#b3b3b3"/>
<circle cx="354.8" cy="1498.5" r="6.1" fill="#626262"/>
<circle cx="318.6" cy="1502.4" r="6.1" fill="#626262"/>
<circle cx="282.4" cy="1498.5" r="6.1" fill="#626262"/>
<circle cx="248.7" cy="1483.4" r="6.0" fill="#b3b3b3"/>
<circle cx="221.2" cy="1458.0" r="6.1" fill="#626262"/>
<circle cx="203.1" cy="1424.7" r="6.0" fill="#b3b3b3"/>
<circle cx="196.9" cy="1387.2" r="6.1" fill="#626262"/>
<circle cx="203.1" cy="1349.7" r="6.0" fill="#b3b3b3"/>
<circle cx="221.2" cy="1316.4" r="6.1" fill="#626262"/>
<circle cx="248.7" cy="1291.0" r="6.0" fill="#b3b3b3"/>
<circle cx="282.4" cy="1275.9" r="6.1" fill="#626262"/>
<circle cx="439.9" cy="1325.4" r="5.5" fill="#fff" stroke="#b0b0b0" stroke-width="0.9"/>
<circle cx="453.8" cy="1365.8" r="5.5" fill="#fff" stroke="#b0b0b0" stroke-width="0.9"/>
<circle cx="439.9" cy="1449.0" r="5.5" fill="#fff" stroke="#b0b0b0" stroke-width="0.9"/>
<circle cx="413.8" cy="1482.4" r="5.5" fill="#fff" stroke="#b0b0b0" stroke-width="0.9"/>
<circle cx="378.8" cy="1505.4" r="5.5" fill="#fff" stroke="#b0b0b0" stroke-width="0.9"/>
<circle cx="339.0" cy="1516.2" r="5.5" fill="#fff" stroke="#b0b0b0" stroke-width="0.9"/>
<circle cx="298.2" cy="1516.2" r="5.5" fill="#fff" stroke="#b0b0b0" stroke-width="0.9"/>
<circle cx="258.4" cy="1505.4" r="5.5" fill="#fff" stroke="#b0b0b0" stroke-width="0.9"/>
<circle cx="223.4" cy="1482.4" r="5.5" fill="#fff" stroke="#b0b0b0" stroke-width="0.9"/>
<circle cx="197.3" cy="1449.0" r="5.5" fill="#fff" stroke="#b0b0b0" stroke-width="0.9"/>
<circle cx="183.4" cy="1365.8" r="5.5" fill="#fff" stroke="#b0b0b0" stroke-width="0.9"/>
<circle cx="197.3" cy="1325.4" r="5.5" fill="#fff" stroke="#b0b0b0" stroke-width="0.9"/>
<circle cx="318.6" cy="1243.2" r="6.0" fill="#b3b3b3"/>
<circle cx="440.3" cy="1298.7" r="6.0" fill="#b3b3b3"/>
<circle cx="462.9" cy="1340.3" r="6.0" fill="#b3b3b3"/>
<circle cx="470.8" cy="1387.2" r="6.0" fill="#b3b3b3"/>
<circle cx="440.3" cy="1475.7" r="6.0" fill="#b3b3b3"/>
<circle cx="405.9" cy="1507.4" r="6.0" fill="#b3b3b3"/>
<circle cx="363.8" cy="1526.3" r="6.0" fill="#b3b3b3"/>
<circle cx="318.6" cy="1531.2" r="6.0" fill="#b3b3b3"/>
<circle cx="273.4" cy="1526.3" r="6.0" fill="#b3b3b3"/>
<circle cx="231.3" cy="1507.4" r="6.0" fill="#b3b3b3"/>
<circle cx="196.9" cy="1475.7" r="6.0" fill="#b3b3b3"/>
<circle cx="166.4" cy="1387.2" r="6.0" fill="#b3b3b3"/>
<circle cx="174.3" cy="1340.3" r="6.0" fill="#b3b3b3"/>
<circle cx="196.9" cy="1298.7" r="6.0" fill="#b3b3b3"/>
<g font-size="3.6" text-anchor="middle" style="font-family:'Liberation Sans',sans-serif">
<text x="244.6" y="1323.4" fill="#e6e6e6">F5</text>
<text x="269.1" y="1326.9" fill="#d8d8d8">F3</text>
<text x="294.1" y="1329.3" fill="#e6e6e6">F1</text>
<text x="318.6" y="1330.9" fill="#d8d8d8">Fz</text>
<text x="343.1" y="1329.3" fill="#e6e6e6">F2</text>
<text x="368.1" y="1326.9" fill="#d8d8d8">F4</text>
<text x="392.6" y="1323.4" fill="#e6e6e6">F6</text>
<text x="231.7" y="1354.9" fill="#e6e6e6">FC5</text>
<text x="260.7" y="1357.0" fill="#e6e6e6">FC3</text>
<text x="289.9" y="1358.3" fill="#e6e6e6">FC1</text>
<text x="318.6" y="1359.7" fill="#e6e6e6">FCz</text>
<text x="347.3" y="1358.3" fill="#e6e6e6">FC2</text>
<text x="376.5" y="1357.0" fill="#e6e6e6">FC4</text>
<text x="405.5" y="1354.9" fill="#e6e6e6">FC6</text>
<text x="227.3" y="1388.5" fill="#e6e6e6">C5</text>
<text x="257.7" y="1388.5" fill="#d8d8d8">C3</text>
<text x="288.2" y="1388.5" fill="#e6e6e6">C1</text>
<text x="318.6" y="1388.5" fill="#d8d8d8">Cz</text>
<text x="349.0" y="1388.5" fill="#e6e6e6">C2</text>
<text x="379.5" y="1388.5" fill="#d8d8d8">C4</text>
<text x="409.9" y="1388.5" fill="#e6e6e6">C6</text>
<text x="231.7" y="1422.1" fill="#e6e6e6">CP5</text>
<text x="260.7" y="1420.0" fill="#e6e6e6">CP3</text>
<text x="289.9" y="1418.7" fill="#e6e6e6">CP1</text>
<text x="318.6" y="1417.3" fill="#e6e6e6">CPz</text>
<text x="347.3" y="1418.7" fill="#e6e6e6">CP2</text>
<text x="376.5" y="1420.0" fill="#e6e6e6">CP4</text>
<text x="405.5" y="1422.1" fill="#e6e6e6">CP6</text>
<text x="244.6" y="1453.6" fill="#e6e6e6">P5</text>
<text x="269.1" y="1450.1" fill="#d8d8d8">P3</text>
<text x="294.1" y="1447.7" fill="#e6e6e6">P1</text>
<text x="318.6" y="1446.1" fill="#d8d8d8">Pz</text>
<text x="343.1" y="1447.7" fill="#e6e6e6">P2</text>
<text x="368.1" y="1450.1" fill="#d8d8d8">P4</text>
<text x="392.6" y="1453.6" fill="#e6e6e6">P6</text>
<text x="243.8" y="1306.8" fill="#aaaaaa">AFF7h</text>
<text x="264.6" y="1311.1" fill="#aaaaaa">AFF5h</text>
<text x="286.2" y="1314.0" fill="#aaaaaa">AFF3h</text>
<text x="307.9" y="1315.9" fill="#aaaaaa">AFF1h</text>
<text x="329.3" y="1315.9" fill="#aaaaaa">AFF2h</text>
<text x="351.0" y="1314.0" fill="#aaaaaa">AFF4h</text>
<text x="372.6" y="1311.1" fill="#aaaaaa">AFF6h</text>
<text x="393.4" y="1306.8" fill="#aaaaaa">AFF8h</text>
<text x="223.8" y="1336.5" fill="#aaaaaa">FFC7h</text>
<text x="250.6" y="1340.4" fill="#aaaaaa">FFC5h</text>
<text x="278.0" y="1342.8" fill="#aaaaaa">FFC3h</text>
<text x="305.3" y="1344.6" fill="#aaaaaa">FFC1h</text>
<text x="331.9" y="1344.6" fill="#aaaaaa">FFC2h</text>
<text x="359.2" y="1342.8" fill="#aaaaaa">FFC4h</text>
<text x="386.6" y="1340.4" fill="#aaaaaa">FFC6h</text>
<text x="413.4" y="1336.5" fill="#aaaaaa">FFC8h</text>
<text x="213.4" y="1370.7" fill="#aaaaaa">FCC7h</text>
<text x="243.4" y="1372.2" fill="#aaaaaa">FCC5h</text>
<text x="273.6" y="1373.0" fill="#aaaaaa">FCC3h</text>
<text x="303.8" y="1373.5" fill="#aaaaaa">FCC1h</text>
<text x="333.4" y="1373.5" fill="#aaaaaa">FCC2h</text>
<text x="363.6" y="1373.0" fill="#aaaaaa">FCC4h</text>
<text x="393.8" y="1372.2" fill="#aaaaaa">FCC6h</text>
<text x="423.8" y="1370.7" fill="#aaaaaa">FCC8h</text>
<text x="213.4" y="1406.3" fill="#aaaaaa">CCP7h</text>
<text x="243.4" y="1404.8" fill="#aaaaaa">CCP5h</text>
<text x="273.6" y="1404.0" fill="#aaaaaa">CCP3h</text>
<text x="303.8" y="1403.5" fill="#aaaaaa">CCP1h</text>
<text x="333.4" y="1403.5" fill="#aaaaaa">CCP2h</text>
<text x="363.6" y="1404.0" fill="#aaaaaa">CCP4h</text>
<text x="393.8" y="1404.8" fill="#aaaaaa">CCP6h</text>
<text x="423.8" y="1406.3" fill="#aaaaaa">CCP8h</text>
<text x="223.8" y="1440.5" fill="#aaaaaa">CPP7h</text>
<text x="250.6" y="1436.6" fill="#aaaaaa">CPP5h</text>
<text x="278.0" y="1434.2" fill="#aaaaaa">CPP3h</text>
<text x="305.3" y="1432.4" fill="#aaaaaa">CPP1h</text>
<text x="331.9" y="1432.4" fill="#aaaaaa">CPP2h</text>
<text x="359.2" y="1434.2" fill="#aaaaaa">CPP4h</text>
<text x="386.6" y="1436.6" fill="#aaaaaa">CPP6h</text>
<text x="413.4" y="1440.5" fill="#aaaaaa">CPP8h</text>
<text x="243.8" y="1470.2" fill="#aaaaaa">PPO7h</text>
<text x="264.6" y="1465.9" fill="#aaaaaa">PPO5h</text>
<text x="286.2" y="1463.0" fill="#aaaaaa">PPO3h</text>
<text x="307.9" y="1461.1" fill="#aaaaaa">PPO1h</text>
<text x="329.3" y="1461.1" fill="#aaaaaa">PPO2h</text>
<text x="351.0" y="1463.0" fill="#aaaaaa">PPO4h</text>
<text x="372.6" y="1465.9" fill="#aaaaaa">PPO6h</text>
<text x="393.4" y="1470.2" fill="#aaaaaa">PPO8h</text>
<text x="274.1" y="1297.7" fill="#aaaaaa">AF5h</text>
<text x="291.9" y="1300.0" fill="#aaaaaa">AF3h</text>
<text x="318.6" y="1302.1" fill="#e6e6e6">AFz</text>
<text x="345.3" y="1300.0" fill="#aaaaaa">AF4h</text>
<text x="363.1" y="1297.7" fill="#aaaaaa">AF6h</text>
<text x="274.1" y="1479.3" fill="#aaaaaa">PO5h</text>
<text x="291.9" y="1477.0" fill="#aaaaaa">PO3h</text>
<text x="318.6" y="1474.9" fill="#e6e6e6">POz</text>
<text x="345.3" y="1477.0" fill="#aaaaaa">PO4h</text>
<text x="363.1" y="1479.3" fill="#aaaaaa">PO6h</text>
<text x="291.7" y="1286.0" fill="#aaaaaa">AFp3</text>
<text x="345.5" y="1286.0" fill="#aaaaaa">AFp4</text>
<text x="291.7" y="1491.0" fill="#aaaaaa">POO3</text>
<text x="345.5" y="1491.0" fill="#aaaaaa">POO4</text>
<text x="318.6" y="1273.3" fill="#d8d8d8">Fpz</text>
<text x="354.8" y="1277.2" fill="#d8d8d8">Fp2</text>
<text x="388.5" y="1292.3" fill="#e6e6e6">AF8</text>
<text x="416.0" y="1317.7" fill="#d8d8d8">F8</text>
<text x="434.1" y="1351.0" fill="#e6e6e6">FT8</text>
<text x="440.4" y="1388.5" fill="#d8d8d8">T8</text>
<text x="434.1" y="1426.0" fill="#e6e6e6">TP8</text>
<text x="416.0" y="1459.3" fill="#d8d8d8">P8</text>
<text x="388.5" y="1484.7" fill="#e6e6e6">PO8</text>
<text x="354.8" y="1499.8" fill="#d8d8d8">O2</text>
<text x="318.6" y="1503.7" fill="#d8d8d8">Oz</text>
<text x="282.4" y="1499.8" fill="#d8d8d8">O1</text>
<text x="248.7" y="1484.7" fill="#e6e6e6">PO7</text>
<text x="221.2" y="1459.3" fill="#d8d8d8">P7</text>
<text x="203.1" y="1426.0" fill="#e6e6e6">TP7</text>
<text x="196.9" y="1388.5" fill="#d8d8d8">T7</text>
<text x="203.1" y="1351.0" fill="#e6e6e6">FT7</text>
<text x="221.2" y="1317.7" fill="#d8d8d8">F7</text>
<text x="248.7" y="1292.3" fill="#e6e6e6">AF7</text>
<text x="282.4" y="1277.2" fill="#d8d8d8">Fp1</text>
<text x="439.9" y="1326.7" fill="#aaaaaa">FFT10h</text>
<text x="453.8" y="1367.1" fill="#aaaaaa">FTT10h</text>
<text x="439.9" y="1450.3" fill="#aaaaaa">TPP10h</text>
<text x="413.8" y="1483.7" fill="#aaaaaa">PPO10h</text>
<text x="378.8" y="1506.7" fill="#aaaaaa">POO10h</text>
<text x="339.0" y="1517.5" fill="#aaaaaa">OI2h</text>
<text x="298.2" y="1517.5" fill="#aaaaaa">OI1h</text>
<text x="258.4" y="1506.7" fill="#aaaaaa">POO9h</text>
<text x="223.4" y="1483.7" fill="#aaaaaa">PPO9h</text>
<text x="197.3" y="1450.3" fill="#aaaaaa">TPP9h</text>
<text x="183.4" y="1367.1" fill="#aaaaaa">FTT9h</text>
<text x="197.3" y="1326.7" fill="#aaaaaa">FFT9h</text>
<text x="318.6" y="1244.5" fill="#e6e6e6">Nz</text>
<text x="440.3" y="1300.0" fill="#e6e6e6">F10</text>
<text x="462.9" y="1341.6" fill="#e6e6e6">FT10</text>
<text x="470.8" y="1388.5" fill="#e6e6e6">T10</text>
<text x="440.3" y="1477.0" fill="#e6e6e6">P10</text>
<text x="405.9" y="1508.7" fill="#e6e6e6">PO10</text>
<text x="363.8" y="1527.6" fill="#e6e6e6">I2</text>
<text x="318.6" y="1532.5" fill="#e6e6e6">Iz</text>
<text x="273.4" y="1527.6" fill="#e6e6e6">I1</text>
<text x="231.3" y="1508.7" fill="#e6e6e6">PO9</text>
<text x="196.9" y="1477.0" fill="#e6e6e6">P9</text>
<text x="166.4" y="1388.5" fill="#e6e6e6">T9</text>
<text x="174.3" y="1341.6" fill="#e6e6e6">FT9</text>
<text x="196.9" y="1300.0" fill="#e6e6e6">F9</text>
</g>
<circle cx="354.8" cy="1275.9" r="10.3" fill="#ff2222"/><circle cx="354.8" cy="1275.9" r="7.3" fill="#e02525" stroke="#f24444" stroke-width="1.2"/>
<text x="339.5" y="1267.7" font-size="12.5" font-weight="bold" style="font-family:'DejaVu Sans',sans-serif" fill="#e5707a" stroke="#c0646c" stroke-width="0.35">1</text>
<circle cx="282.4" cy="1275.9" r="10.3" fill="#ff2222"/><circle cx="282.4" cy="1275.9" r="7.3" fill="#e02525" stroke="#f24444" stroke-width="1.2"/>
<text x="267.1" y="1267.7" font-size="12.5" font-weight="bold" style="font-family:'DejaVu Sans',sans-serif" fill="#e5707a" stroke="#c0646c" stroke-width="0.35">2</text>
<circle cx="416.0" cy="1316.4" r="9.45" fill="none" stroke="#f87474" stroke-width="2.1"/>
<text x="400.7" y="1308.2" font-size="12.5" font-weight="bold" style="font-family:'DejaVu Sans',sans-serif" fill="#e5707a" stroke="#c0646c" stroke-width="0.35">3</text>
<circle cx="368.1" cy="1325.6" r="9.45" fill="none" stroke="#f87474" stroke-width="2.1"/>
<text x="352.8" y="1317.4" font-size="12.5" font-weight="bold" style="font-family:'DejaVu Sans',sans-serif" fill="#e5707a" stroke="#c0646c" stroke-width="0.35">4</text>
<circle cx="318.6" cy="1329.6" r="9.45" fill="none" stroke="#f87474" stroke-width="2.1"/>
<text x="303.3" y="1321.4" font-size="12.5" font-weight="bold" style="font-family:'DejaVu Sans',sans-serif" fill="#e5707a" stroke="#c0646c" stroke-width="0.35">5</text>
<circle cx="269.1" cy="1325.6" r="9.45" fill="none" stroke="#f87474" stroke-width="2.1"/>
<text x="253.8" y="1317.4" font-size="12.5" font-weight="bold" style="font-family:'DejaVu Sans',sans-serif" fill="#e5707a" stroke="#c0646c" stroke-width="0.35">6</text>
<circle cx="221.2" cy="1316.4" r="9.45" fill="none" stroke="#f87474" stroke-width="2.1"/>
<text x="205.9" y="1308.2" font-size="12.5" font-weight="bold" style="font-family:'DejaVu Sans',sans-serif" fill="#e5707a" stroke="#c0646c" stroke-width="0.35">7</text>
<circle cx="405.5" cy="1353.6" r="9.45" fill="none" stroke="#f87474" stroke-width="2.1"/>
<text x="390.2" y="1345.4" font-size="12.5" font-weight="bold" style="font-family:'DejaVu Sans',sans-serif" fill="#e5707a" stroke="#c0646c" stroke-width="0.35">8</text>
<circle cx="347.3" cy="1357.0" r="9.45" fill="none" stroke="#f87474" stroke-width="2.1"/>
<text x="332.0" y="1348.8" font-size="12.5" font-weight="bold" style="font-family:'DejaVu Sans',sans-serif" fill="#e5707a" stroke="#c0646c" stroke-width="0.35">9</text>
<circle cx="289.9" cy="1357.0" r="9.45" fill="none" stroke="#f87474" stroke-width="2.1"/>
<text x="274.6" y="1348.8" font-size="12.5" font-weight="bold" style="font-family:'DejaVu Sans',sans-serif" fill="#e5707a" stroke="#c0646c" stroke-width="0.35">10</text>
<circle cx="231.7" cy="1353.6" r="9.45" fill="none" stroke="#f87474" stroke-width="2.1"/>
<text x="216.4" y="1345.4" font-size="12.5" font-weight="bold" style="font-family:'DejaVu Sans',sans-serif" fill="#e5707a" stroke="#c0646c" stroke-width="0.35">11</text>
<circle cx="440.4" cy="1387.2" r="9.45" fill="none" stroke="#f87474" stroke-width="2.1"/>
<text x="425.1" y="1379.0" font-size="12.5" font-weight="bold" style="font-family:'DejaVu Sans',sans-serif" fill="#e5707a" stroke="#c0646c" stroke-width="0.35">12</text>
<circle cx="379.5" cy="1387.2" r="9.45" fill="none" stroke="#f87474" stroke-width="2.1"/>
<text x="364.2" y="1379.0" font-size="12.5" font-weight="bold" style="font-family:'DejaVu Sans',sans-serif" fill="#e5707a" stroke="#c0646c" stroke-width="0.35">13</text>
<circle cx="318.6" cy="1387.2" r="9.45" fill="none" stroke="#f87474" stroke-width="2.1"/>
<text x="303.3" y="1379.0" font-size="12.5" font-weight="bold" style="font-family:'DejaVu Sans',sans-serif" fill="#e5707a" stroke="#c0646c" stroke-width="0.35">14</text>
<circle cx="257.7" cy="1387.2" r="9.45" fill="none" stroke="#f87474" stroke-width="2.1"/>
<text x="242.4" y="1379.0" font-size="12.5" font-weight="bold" style="font-family:'DejaVu Sans',sans-serif" fill="#e5707a" stroke="#c0646c" stroke-width="0.35">15</text>
<circle cx="196.9" cy="1387.2" r="9.45" fill="none" stroke="#f87474" stroke-width="2.1"/>
<text x="181.6" y="1379.0" font-size="12.5" font-weight="bold" style="font-family:'DejaVu Sans',sans-serif" fill="#e5707a" stroke="#c0646c" stroke-width="0.35">16</text>
<circle cx="462.9" cy="1434.1" r="9.45" fill="none" stroke="#f87474" stroke-width="2.1"/>
<text x="447.6" y="1425.9" font-size="12.5" font-weight="bold" style="font-family:'DejaVu Sans',sans-serif" fill="#e5707a" stroke="#c0646c" stroke-width="0.35">17</text>
<circle cx="405.5" cy="1420.8" r="9.45" fill="none" stroke="#f87474" stroke-width="2.1"/>
<text x="390.2" y="1412.6" font-size="12.5" font-weight="bold" style="font-family:'DejaVu Sans',sans-serif" fill="#e5707a" stroke="#c0646c" stroke-width="0.35">18</text>
<circle cx="347.3" cy="1417.4" r="9.45" fill="none" stroke="#f87474" stroke-width="2.1"/>
<text x="332.0" y="1409.2" font-size="12.5" font-weight="bold" style="font-family:'DejaVu Sans',sans-serif" fill="#e5707a" stroke="#c0646c" stroke-width="0.35">19</text>
<circle cx="289.9" cy="1417.4" r="9.45" fill="none" stroke="#f87474" stroke-width="2.1"/>
<text x="274.6" y="1409.2" font-size="12.5" font-weight="bold" style="font-family:'DejaVu Sans',sans-serif" fill="#e5707a" stroke="#c0646c" stroke-width="0.35">20</text>
<circle cx="231.7" cy="1420.8" r="9.45" fill="none" stroke="#f87474" stroke-width="2.1"/>
<text x="216.4" y="1412.6" font-size="12.5" font-weight="bold" style="font-family:'DejaVu Sans',sans-serif" fill="#e5707a" stroke="#c0646c" stroke-width="0.35">21</text>
<circle cx="174.3" cy="1434.1" r="9.45" fill="none" stroke="#f87474" stroke-width="2.1"/>
<text x="159.0" y="1425.9" font-size="12.5" font-weight="bold" style="font-family:'DejaVu Sans',sans-serif" fill="#e5707a" stroke="#c0646c" stroke-width="0.35">22</text>
<circle cx="368.1" cy="1448.8" r="9.45" fill="none" stroke="#f87474" stroke-width="2.1"/>
<text x="352.8" y="1440.6" font-size="12.5" font-weight="bold" style="font-family:'DejaVu Sans',sans-serif" fill="#e5707a" stroke="#c0646c" stroke-width="0.35">23</text>
<circle cx="318.6" cy="1444.8" r="9.45" fill="none" stroke="#f87474" stroke-width="2.1"/>
<text x="303.3" y="1436.6" font-size="12.5" font-weight="bold" style="font-family:'DejaVu Sans',sans-serif" fill="#e5707a" stroke="#c0646c" stroke-width="0.35">24</text>
<circle cx="269.1" cy="1448.8" r="9.45" fill="none" stroke="#f87474" stroke-width="2.1"/>
<text x="253.8" y="1440.6" font-size="12.5" font-weight="bold" style="font-family:'DejaVu Sans',sans-serif" fill="#e5707a" stroke="#c0646c" stroke-width="0.35">25</text>
<circle cx="416.0" cy="1458.0" r="9.45" fill="none" stroke="#f87474" stroke-width="2.1"/>
<text x="400.7" y="1449.8" font-size="12.5" font-weight="bold" style="font-family:'DejaVu Sans',sans-serif" fill="#e5707a" stroke="#c0646c" stroke-width="0.35">26</text>
<circle cx="345.3" cy="1475.7" r="9.45" fill="none" stroke="#f87474" stroke-width="2.1"/>
<text x="330.0" y="1467.5" font-size="12.5" font-weight="bold" style="font-family:'DejaVu Sans',sans-serif" fill="#e5707a" stroke="#c0646c" stroke-width="0.35">27</text>
<circle cx="291.9" cy="1475.7" r="9.45" fill="none" stroke="#f87474" stroke-width="2.1"/>
<text x="276.6" y="1467.5" font-size="12.5" font-weight="bold" style="font-family:'DejaVu Sans',sans-serif" fill="#e5707a" stroke="#c0646c" stroke-width="0.35">28</text>
<circle cx="221.2" cy="1458.0" r="9.45" fill="none" stroke="#f87474" stroke-width="2.1"/>
<text x="205.9" y="1449.8" font-size="12.5" font-weight="bold" style="font-family:'DejaVu Sans',sans-serif" fill="#e5707a" stroke="#c0646c" stroke-width="0.35">29</text>
<circle cx="363.8" cy="1526.3" r="9.45" fill="none" stroke="#f87474" stroke-width="2.1"/>
<text x="348.5" y="1518.1" font-size="12.5" font-weight="bold" style="font-family:'DejaVu Sans',sans-serif" fill="#e5707a" stroke="#c0646c" stroke-width="0.35">30</text>
<circle cx="273.4" cy="1526.3" r="9.45" fill="none" stroke="#f87474" stroke-width="2.1"/>
<text x="258.1" y="1518.1" font-size="12.5" font-weight="bold" style="font-family:'DejaVu Sans',sans-serif" fill="#e5707a" stroke="#c0646c" stroke-width="0.35">31</text>
<circle cx="318.6" cy="1502.4" r="9.45" fill="none" stroke="#f87474" stroke-width="2.1"/>
<text x="303.3" y="1494.2" font-size="12.5" font-weight="bold" style="font-family:'DejaVu Sans',sans-serif" fill="#e5707a" stroke="#c0646c" stroke-width="0.35">32</text>
<g fill="none" stroke="#b4b4b4" stroke-width="1.2">
<path d="M729.3,1243.2 L736.9,1243.1 L744.4,1243.3 L752.0,1243.9 L759.5,1244.9 L767.0,1246.3 L774.5,1248.1 L781.9,1250.3 L789.1,1252.9 L796.2,1255.8 L803.2,1259.2 L810.0,1262.9 L816.6,1267.0 L823.0,1271.5 L829.2,1276.3 L835.1,1281.4 L840.7,1286.9 L846.0,1292.7 L851.0,1298.7 L855.7,1305.1 L860.1,1311.7 L864.0,1318.6 L867.6,1325.6 L870.8,1332.9 L873.6,1340.3 L876.0,1347.9 L878.0,1355.6 L879.5,1363.4 L880.6,1371.3 L881.3,1379.2 L881.5,1387.2 L881.3,1395.2 L880.6,1403.1 L879.5,1411.0 L878.0,1418.8 L876.0,1426.5 L873.6,1434.1 L870.8,1441.5 L867.6,1448.8 L864.0,1455.8 L860.1,1462.7 L855.7,1469.3 L851.0,1475.7 L846.0,1481.7 L840.7,1487.5 L835.1,1493.0 L829.2,1498.1 L823.0,1502.9 L816.6,1507.4 L810.0,1511.5 L803.2,1515.2 L796.2,1518.6 L789.1,1521.5 L781.9,1524.1 L774.5,1526.3 L767.0,1528.1 L759.5,1529.5 L752.0,1530.5 L744.4,1531.1 L736.9,1531.3 L729.3,1531.2 L721.7,1531.3 L714.2,1531.1 L706.6,1530.5 L699.1,1529.5 L691.6,1528.1 L684.1,1526.3 L676.7,1524.1 L669.5,1521.5 L662.4,1518.6 L655.4,1515.2 L648.6,1511.5 L642.0,1507.4 L635.6,1502.9 L629.4,1498.1 L623.5,1493.0 L617.9,1487.5 L612.6,1481.7 L607.6,1475.7 L602.9,1469.3 L598.5,1462.7 L594.6,1455.8 L591.0,1448.8 L587.8,1441.5 L585.0,1434.1 L582.6,1426.5 L580.6,1418.8 L579.1,1411.0 L578.0,1403.1 L577.3,1395.2 L577.1,1387.2 L577.3,1379.2 L578.0,1371.3 L579.1,1363.4 L580.6,1355.6 L582.6,1347.9 L585.0,1340.3 L587.8,1332.9 L591.0,1325.6 L594.6,1318.6 L598.5,1311.7 L602.9,1305.1 L607.6,1298.7 L612.6,1292.7 L617.9,1286.9 L623.5,1281.4 L629.4,1276.3 L635.6,1271.5 L642.0,1267.0 L648.6,1262.9 L655.4,1259.2 L662.4,1255.8 L669.5,1252.9 L676.7,1250.3 L684.1,1248.1 L691.6,1246.3 L699.1,1244.9 L706.6,1243.9 L714.2,1243.3 L721.7,1243.1 L729.3,1243.2Z"/>
<path d="M729.3,1272.0 L735.3,1271.9 L741.4,1272.1 L747.5,1272.6 L753.5,1273.4 L759.5,1274.5 L765.5,1275.9 L771.3,1277.7 L777.1,1279.7 L782.8,1282.1 L788.4,1284.8 L793.9,1287.8 L799.2,1291.0 L804.3,1294.6 L809.2,1298.5 L813.9,1302.6 L818.4,1307.0 L822.7,1311.6 L826.7,1316.4 L830.4,1321.5 L833.9,1326.8 L837.1,1332.3 L840.0,1337.9 L842.5,1343.7 L844.8,1349.7 L846.7,1355.8 L848.2,1361.9 L849.5,1368.2 L850.3,1374.5 L850.9,1380.8 L851.0,1387.2 L850.9,1393.6 L850.3,1399.9 L849.5,1406.2 L848.2,1412.5 L846.7,1418.6 L844.8,1424.7 L842.5,1430.7 L840.0,1436.5 L837.1,1442.1 L833.9,1447.6 L830.4,1452.9 L826.7,1458.0 L822.7,1462.8 L818.4,1467.4 L813.9,1471.8 L809.2,1475.9 L804.3,1479.8 L799.2,1483.4 L793.9,1486.6 L788.4,1489.6 L782.8,1492.3 L777.1,1494.7 L771.3,1496.7 L765.5,1498.5 L759.5,1499.9 L753.5,1501.0 L747.5,1501.8 L741.4,1502.3 L735.3,1502.5 L729.3,1502.4 L723.3,1502.5 L717.2,1502.3 L711.1,1501.8 L705.1,1501.0 L699.1,1499.9 L693.1,1498.5 L687.3,1496.7 L681.5,1494.7 L675.8,1492.3 L670.2,1489.6 L664.7,1486.6 L659.4,1483.4 L654.3,1479.8 L649.4,1475.9 L644.7,1471.8 L640.2,1467.4 L635.9,1462.8 L631.9,1458.0 L628.2,1452.9 L624.7,1447.6 L621.5,1442.1 L618.6,1436.5 L616.1,1430.7 L613.8,1424.7 L611.9,1418.6 L610.4,1412.5 L609.1,1406.2 L608.3,1399.9 L607.7,1393.6 L607.5,1387.2 L607.7,1380.8 L608.3,1374.5 L609.1,1368.2 L610.4,1361.9 L611.9,1355.8 L613.8,1349.7 L616.1,1343.7 L618.6,1337.9 L621.5,1332.3 L624.7,1326.8 L628.2,1321.5 L631.9,1316.4 L635.9,1311.6 L640.2,1307.0 L644.7,1302.6 L649.4,1298.5 L654.3,1294.6 L659.4,1291.0 L664.7,1287.8 L670.2,1284.8 L675.8,1282.1 L681.5,1279.7 L687.3,1277.7 L693.1,1275.9 L699.1,1274.5 L705.1,1273.4 L711.1,1272.6 L717.2,1272.1 L723.3,1271.9 L729.3,1272.0Z"/>
<line x1="729.3" y1="1243.2" x2="729.3" y2="1531.2"/>
<path d="M701.4,1243.6 C711.3,1229.2 719.3,1218.7 729.1,1218.9 C739.3,1218.7 748.3,1229.2 758.8,1243.6"/>
<path d="M574.8,1381.7 C563.3,1381.2 564.3,1417.2 569.3,1421.2 C573.3,1424.2 577.3,1422.2 579.3,1420.2"/>
<path d="M883.8,1381.7 C895.3,1381.2 894.3,1417.2 889.3,1421.2 C885.3,1424.2 881.3,1422.2 879.3,1420.2"/>
<path d="M873.4,1339.4 Q862.3,1323.7 850.0,1323.8 C839.3,1323.7 833.3,1342.2 832.8,1362.2 C832.3,1379.2 825.3,1395.2 817.7,1407.4"/>
<path d="M585.2,1339.4 Q596.3,1323.7 608.6,1323.8 C619.3,1323.7 625.3,1342.2 625.8,1362.2 C626.3,1379.2 633.3,1395.2 640.9,1407.4"/>
<path d="M638.7,1370.2 C669.3,1377.2 704.3,1392.2 729.3,1416.2 C754.3,1392.2 789.3,1377.2 819.9,1370.2"/>
</g>
<path d="M643.4,1319.6h0M667.5,1324.1h0M692.3,1326.9h0M717.1,1328.9h0M741.5,1328.9h0M766.3,1326.9h0M791.1,1324.1h0M815.2,1319.6h0M628.0,1351.9h0M656.8,1354.8h0M686.0,1356.4h0M715.2,1357.7h0M743.4,1357.7h0M772.6,1356.4h0M801.8,1354.8h0M830.6,1351.9h0M622.8,1387.2h0M653.2,1387.2h0M683.6,1387.2h0M714.1,1387.2h0M744.5,1387.2h0M775.0,1387.2h0M805.4,1387.2h0M835.8,1387.2h0M628.0,1422.5h0M656.8,1419.6h0M686.0,1418.0h0M715.2,1416.7h0M743.4,1416.7h0M772.6,1418.0h0M801.8,1419.6h0M830.6,1422.5h0M643.4,1454.8h0M667.5,1450.3h0M692.3,1447.5h0M717.1,1445.5h0M741.5,1445.5h0M766.3,1447.5h0M791.1,1450.3h0M815.2,1454.8h0M664.8,1307.9h0M686.1,1311.4h0M707.8,1313.7h0M729.3,1315.2h0M750.8,1313.7h0M772.5,1311.4h0M793.8,1307.9h0M647.8,1337.4h0M674.9,1340.4h0M702.4,1342.4h0M729.3,1344.0h0M756.2,1342.4h0M783.7,1340.4h0M810.8,1337.4h0M639.1,1370.2h0M669.2,1371.3h0M699.4,1371.9h0M729.3,1372.8h0M759.2,1371.9h0M789.4,1371.3h0M819.5,1370.2h0M639.1,1404.2h0M669.2,1403.1h0M699.4,1402.5h0M729.3,1401.6h0M759.2,1402.5h0M789.4,1403.1h0M819.5,1404.2h0M647.8,1437.0h0M674.9,1434.0h0M702.4,1432.0h0M729.3,1430.4h0M756.2,1432.0h0M783.7,1434.0h0M810.8,1437.0h0M664.8,1466.5h0M686.1,1463.0h0M707.8,1460.7h0M729.3,1459.2h0M750.8,1460.7h0M772.5,1463.0h0M793.8,1466.5h0M667.6,1293.2h0M676.1,1295.0h0M693.7,1297.7h0M711.5,1299.6h0M720.4,1300.3h0M738.2,1300.3h0M747.1,1299.6h0M764.9,1297.7h0M782.5,1295.0h0M791.0,1293.2h0M667.6,1481.2h0M676.1,1479.4h0M693.7,1476.7h0M711.5,1474.8h0M720.4,1474.1h0M738.2,1474.1h0M747.1,1474.8h0M764.9,1476.7h0M782.5,1479.4h0M791.0,1481.2h0M689.0,1283.6h0M715.9,1285.7h0M729.3,1286.4h0M742.7,1285.7h0M769.6,1283.6h0M689.0,1490.8h0M715.9,1488.7h0M729.3,1488.0h0M742.7,1488.7h0M769.6,1490.8h0M747.5,1272.6h0M782.8,1282.1h0M813.9,1302.6h0M837.1,1332.3h0M849.5,1368.2h0M849.5,1406.2h0M837.1,1442.1h0M813.9,1471.8h0M782.8,1492.3h0M747.5,1501.8h0M711.1,1501.8h0M675.8,1492.3h0M644.7,1471.8h0M621.5,1442.1h0M609.1,1406.2h0M609.1,1368.2h0M621.5,1332.3h0M644.7,1302.6h0M675.8,1282.1h0M711.1,1272.6h0M789.5,1269.0h0M807.9,1279.0h0M824.5,1292.0h0M838.9,1307.6h0M859.2,1345.0h0M866.3,1387.2h0M864.5,1408.6h0M859.2,1429.4h0M838.9,1466.8h0M807.9,1495.4h0M770.0,1512.4h0M729.3,1516.8h0M688.6,1512.4h0M650.7,1495.4h0M619.7,1466.8h0M599.4,1429.4h0M594.1,1408.6h0M592.3,1387.2h0M599.4,1345.0h0M619.7,1307.6h0M634.1,1292.0h0M650.7,1279.0h0M669.1,1269.0h0M796.2,1255.8h0M816.6,1267.0h0M835.1,1281.4h0M864.0,1318.6h0M879.5,1363.4h0M879.5,1411.0h0M873.6,1434.1h0M864.0,1455.8h0M835.1,1493.0h0M796.2,1518.6h0M752.0,1530.5h0M706.6,1530.5h0M662.4,1518.6h0M623.5,1493.0h0M594.6,1455.8h0M585.0,1434.1h0M579.1,1411.0h0M579.1,1363.4h0M594.6,1318.6h0M623.5,1281.4h0M642.0,1267.0h0M662.4,1255.8h0" stroke="#5a5a5a" stroke-width="2.1" stroke-linecap="round"/>
<circle cx="655.3" cy="1322.1" r="6.0" fill="#b3b3b3"/>
<circle cx="679.8" cy="1325.6" r="6.1" fill="#626262"/>
<circle cx="704.8" cy="1328.0" r="6.0" fill="#b3b3b3"/>
<circle cx="729.3" cy="1329.6" r="6.1" fill="#626262"/>
<circle cx="753.8" cy="1328.0" r="6.0" fill="#b3b3b3"/>
<circle cx="778.8" cy="1325.6" r="6.1" fill="#626262"/>
<circle cx="803.3" cy="1322.1" r="6.0" fill="#b3b3b3"/>
<circle cx="642.4" cy="1353.6" r="6.0" fill="#b3b3b3"/>
<circle cx="671.4" cy="1355.7" r="6.0" fill="#b3b3b3"/>
<circle cx="700.6" cy="1357.0" r="6.0" fill="#b3b3b3"/>
<circle cx="729.3" cy="1358.4" r="6.0" fill="#b3b3b3"/>
<circle cx="758.0" cy="1357.0" r="6.0" fill="#b3b3b3"/>
<circle cx="787.2" cy="1355.7" r="6.0" fill="#b3b3b3"/>
<circle cx="816.2" cy="1353.6" r="6.0" fill="#b3b3b3"/>
<circle cx="638.0" cy="1387.2" r="6.0" fill="#b3b3b3"/>
<circle cx="668.4" cy="1387.2" r="6.1" fill="#626262"/>
<circle cx="698.9" cy="1387.2" r="6.0" fill="#b3b3b3"/>
<circle cx="729.3" cy="1387.2" r="6.1" fill="#626262"/>
<circle cx="759.7" cy="1387.2" r="6.0" fill="#b3b3b3"/>
<circle cx="790.2" cy="1387.2" r="6.1" fill="#626262"/>
<circle cx="820.6" cy="1387.2" r="6.0" fill="#b3b3b3"/>
<circle cx="642.4" cy="1420.8" r="6.0" fill="#b3b3b3"/>
<circle cx="671.4" cy="1418.7" r="6.0" fill="#b3b3b3"/>
<circle cx="700.6" cy="1417.4" r="6.0" fill="#b3b3b3"/>
<circle cx="729.3" cy="1416.0" r="6.0" fill="#b3b3b3"/>
<circle cx="758.0" cy="1417.4" r="6.0" fill="#b3b3b3"/>
<circle cx="787.2" cy="1418.7" r="6.0" fill="#b3b3b3"/>
<circle cx="816.2" cy="1420.8" r="6.0" fill="#b3b3b3"/>
<circle cx="655.3" cy="1452.3" r="6.0" fill="#b3b3b3"/>
<circle cx="679.8" cy="1448.8" r="6.1" fill="#626262"/>
<circle cx="704.8" cy="1446.4" r="6.0" fill="#b3b3b3"/>
<circle cx="729.3" cy="1444.8" r="6.1" fill="#626262"/>
<circle cx="753.8" cy="1446.4" r="6.0" fill="#b3b3b3"/>
<circle cx="778.8" cy="1448.8" r="6.1" fill="#626262"/>
<circle cx="803.3" cy="1452.3" r="6.0" fill="#b3b3b3"/>
<circle cx="654.5" cy="1305.5" r="5.5" fill="#fff" stroke="#b0b0b0" stroke-width="0.9"/>
<circle cx="675.3" cy="1309.8" r="5.5" fill="#fff" stroke="#b0b0b0" stroke-width="0.9"/>
<circle cx="696.9" cy="1312.7" r="5.5" fill="#fff" stroke="#b0b0b0" stroke-width="0.9"/>
<circle cx="718.6" cy="1314.6" r="5.5" fill="#fff" stroke="#b0b0b0" stroke-width="0.9"/>
<circle cx="740.0" cy="1314.6" r="5.5" fill="#fff" stroke="#b0b0b0" stroke-width="0.9"/>
<circle cx="761.7" cy="1312.7" r="5.5" fill="#fff" stroke="#b0b0b0" stroke-width="0.9"/>
<circle cx="783.3" cy="1309.8" r="5.5" fill="#fff" stroke="#b0b0b0" stroke-width="0.9"/>
<circle cx="804.1" cy="1305.5" r="5.5" fill="#fff" stroke="#b0b0b0" stroke-width="0.9"/>
<circle cx="634.5" cy="1335.2" r="5.5" fill="#fff" stroke="#b0b0b0" stroke-width="0.9"/>
<circle cx="661.3" cy="1339.1" r="5.5" fill="#fff" stroke="#b0b0b0" stroke-width="0.9"/>
<circle cx="688.7" cy="1341.5" r="5.5" fill="#fff" stroke="#b0b0b0" stroke-width="0.9"/>
<circle cx="716.0" cy="1343.3" r="5.5" fill="#fff" stroke="#b0b0b0" stroke-width="0.9"/>
<circle cx="742.6" cy="1343.3" r="5.5" fill="#fff" stroke="#b0b0b0" stroke-width="0.9"/>
<circle cx="769.9" cy="1341.5" r="5.5" fill="#fff" stroke="#b0b0b0" stroke-width="0.9"/>
<circle cx="797.3" cy="1339.1" r="5.5" fill="#fff" stroke="#b0b0b0" stroke-width="0.9"/>
<circle cx="824.1" cy="1335.2" r="5.5" fill="#fff" stroke="#b0b0b0" stroke-width="0.9"/>
<circle cx="624.1" cy="1369.4" r="5.5" fill="#fff" stroke="#b0b0b0" stroke-width="0.9"/>
<circle cx="654.1" cy="1370.9" r="5.5" fill="#fff" stroke="#b0b0b0" stroke-width="0.9"/>
<circle cx="684.3" cy="1371.7" r="5.5" fill="#fff" stroke="#b0b0b0" stroke-width="0.9"/>
<circle cx="714.5" cy="1372.2" r="5.5" fill="#fff" stroke="#b0b0b0" stroke-width="0.9"/>
<circle cx="744.1" cy="1372.2" r="5.5" fill="#fff" stroke="#b0b0b0" stroke-width="0.9"/>
<circle cx="774.3" cy="1371.7" r="5.5" fill="#fff" stroke="#b0b0b0" stroke-width="0.9"/>
<circle cx="804.5" cy="1370.9" r="5.5" fill="#fff" stroke="#b0b0b0" stroke-width="0.9"/>
<circle cx="834.5" cy="1369.4" r="5.5" fill="#fff" stroke="#b0b0b0" stroke-width="0.9"/>
<circle cx="624.1" cy="1405.0" r="5.5" fill="#fff" stroke="#b0b0b0" stroke-width="0.9"/>
<circle cx="654.1" cy="1403.5" r="5.5" fill="#fff" stroke="#b0b0b0" stroke-width="0.9"/>
<circle cx="684.3" cy="1402.7" r="5.5" fill="#fff" stroke="#b0b0b0" stroke-width="0.9"/>
<circle cx="714.5" cy="1402.2" r="5.5" fill="#fff" stroke="#b0b0b0" stroke-width="0.9"/>
<circle cx="744.1" cy="1402.2" r="5.5" fill="#fff" stroke="#b0b0b0" stroke-width="0.9"/>
<circle cx="774.3" cy="1402.7" r="5.5" fill="#fff" stroke="#b0b0b0" stroke-width="0.9"/>
<circle cx="804.5" cy="1403.5" r="5.5" fill="#fff" stroke="#b0b0b0" stroke-width="0.9"/>
<circle cx="834.5" cy="1405.0" r="5.5" fill="#fff" stroke="#b0b0b0" stroke-width="0.9"/>
<circle cx="634.5" cy="1439.2" r="5.5" fill="#fff" stroke="#b0b0b0" stroke-width="0.9"/>
<circle cx="661.3" cy="1435.3" r="5.5" fill="#fff" stroke="#b0b0b0" stroke-width="0.9"/>
<circle cx="688.7" cy="1432.9" r="5.5" fill="#fff" stroke="#b0b0b0" stroke-width="0.9"/>
<circle cx="716.0" cy="1431.1" r="5.5" fill="#fff" stroke="#b0b0b0" stroke-width="0.9"/>
<circle cx="742.6" cy="1431.1" r="5.5" fill="#fff" stroke="#b0b0b0" stroke-width="0.9"/>
<circle cx="769.9" cy="1432.9" r="5.5" fill="#fff" stroke="#b0b0b0" stroke-width="0.9"/>
<circle cx="797.3" cy="1435.3" r="5.5" fill="#fff" stroke="#b0b0b0" stroke-width="0.9"/>
<circle cx="824.1" cy="1439.2" r="5.5" fill="#fff" stroke="#b0b0b0" stroke-width="0.9"/>
<circle cx="654.5" cy="1468.9" r="5.5" fill="#fff" stroke="#b0b0b0" stroke-width="0.9"/>
<circle cx="675.3" cy="1464.6" r="5.5" fill="#fff" stroke="#b0b0b0" stroke-width="0.9"/>
<circle cx="696.9" cy="1461.7" r="5.5" fill="#fff" stroke="#b0b0b0" stroke-width="0.9"/>
<circle cx="718.6" cy="1459.8" r="5.5" fill="#fff" stroke="#b0b0b0" stroke-width="0.9"/>
<circle cx="740.0" cy="1459.8" r="5.5" fill="#fff" stroke="#b0b0b0" stroke-width="0.9"/>
<circle cx="761.7" cy="1461.7" r="5.5" fill="#fff" stroke="#b0b0b0" stroke-width="0.9"/>
<circle cx="783.3" cy="1464.6" r="5.5" fill="#fff" stroke="#b0b0b0" stroke-width="0.9"/>
<circle cx="804.1" cy="1468.9" r="5.5" fill="#fff" stroke="#b0b0b0" stroke-width="0.9"/>
<circle cx="684.8" cy="1296.4" r="5.5" fill="#fff" stroke="#b0b0b0" stroke-width="0.9"/>
<circle cx="702.6" cy="1298.7" r="5.5" fill="#fff" stroke="#b0b0b0" stroke-width="0.9"/>
<circle cx="729.3" cy="1300.8" r="6.0" fill="#b3b3b3"/>
<circle cx="756.0" cy="1298.7" r="5.5" fill="#fff" stroke="#b0b0b0" stroke-width="0.9"/>
<circle cx="773.8" cy="1296.4" r="5.5" fill="#fff" stroke="#b0b0b0" stroke-width="0.9"/>
<circle cx="684.8" cy="1478.0" r="5.5" fill="#fff" stroke="#b0b0b0" stroke-width="0.9"/>
<circle cx="702.6" cy="1475.7" r="5.5" fill="#fff" stroke="#b0b0b0" stroke-width="0.9"/>
<circle cx="729.3" cy="1473.6" r="6.0" fill="#b3b3b3"/>
<circle cx="756.0" cy="1475.7" r="5.5" fill="#fff" stroke="#b0b0b0" stroke-width="0.9"/>
<circle cx="773.8" cy="1478.0" r="5.5" fill="#fff" stroke="#b0b0b0" stroke-width="0.9"/>
<circle cx="702.4" cy="1284.7" r="5.5" fill="#fff" stroke="#b0b0b0" stroke-width="0.9"/>
<circle cx="756.2" cy="1284.7" r="5.5" fill="#fff" stroke="#b0b0b0" stroke-width="0.9"/>
<circle cx="702.4" cy="1489.7" r="5.5" fill="#fff" stroke="#b0b0b0" stroke-width="0.9"/>
<circle cx="756.2" cy="1489.7" r="5.5" fill="#fff" stroke="#b0b0b0" stroke-width="0.9"/>
<circle cx="729.3" cy="1272.0" r="6.1" fill="#626262"/>
<circle cx="765.5" cy="1275.9" r="6.1" fill="#626262"/>
<circle cx="799.2" cy="1291.0" r="6.0" fill="#b3b3b3"/>
<circle cx="826.7" cy="1316.4" r="6.1" fill="#626262"/>
<circle cx="844.8" cy="1349.7" r="6.0" fill="#b3b3b3"/>
<circle cx="851.0" cy="1387.2" r="6.1" fill="#626262"/>
<circle cx="844.8" cy="1424.7" r="6.0" fill="#b3b3b3"/>
<circle cx="826.7" cy="1458.0" r="6.1" fill="#626262"/>
<circle cx="799.2" cy="1483.4" r="6.0" fill="#b3b3b3"/>
<circle cx="765.5" cy="1498.5" r="6.1" fill="#626262"/>
<circle cx="729.3" cy="1502.4" r="6.1" fill="#626262"/>
<circle cx="693.1" cy="1498.5" r="6.1" fill="#626262"/>
<circle cx="659.4" cy="1483.4" r="6.0" fill="#b3b3b3"/>
<circle cx="631.9" cy="1458.0" r="6.1" fill="#626262"/>
<circle cx="613.8" cy="1424.7" r="6.0" fill="#b3b3b3"/>
<circle cx="607.5" cy="1387.2" r="6.1" fill="#626262"/>
<circle cx="613.8" cy="1349.7" r="6.0" fill="#b3b3b3"/>
<circle cx="631.9" cy="1316.4" r="6.1" fill="#626262"/>
<circle cx="659.4" cy="1291.0" r="6.0" fill="#b3b3b3"/>
<circle cx="693.1" cy="1275.9" r="6.1" fill="#626262"/>
<circle cx="850.6" cy="1325.4" r="5.5" fill="#fff" stroke="#b0b0b0" stroke-width="0.9"/>
<circle cx="864.5" cy="1365.8" r="5.5" fill="#fff" stroke="#b0b0b0" stroke-width="0.9"/>
<circle cx="850.6" cy="1449.0" r="5.5" fill="#fff" stroke="#b0b0b0" stroke-width="0.9"/>
<circle cx="824.5" cy="1482.4" r="5.5" fill="#fff" stroke="#b0b0b0" stroke-width="0.9"/>
<circle cx="789.5" cy="1505.4" r="5.5" fill="#fff" stroke="#b0b0b0" stroke-width="0.9"/>
<circle cx="749.7" cy="1516.2" r="5.5" fill="#fff" stroke="#b0b0b0" stroke-width="0.9"/>
<circle cx="708.9" cy="1516.2" r="5.5" fill="#fff" stroke="#b0b0b0" stroke-width="0.9"/>
<circle cx="669.1" cy="1505.4" r="5.5" fill="#fff" stroke="#b0b0b0" stroke-width="0.9"/>
<circle cx="634.1" cy="1482.4" r="5.5" fill="#fff" stroke="#b0b0b0" stroke-width="0.9"/>
<circle cx="608.0" cy="1449.0" r="5.5" fill="#fff" stroke="#b0b0b0" stroke-width="0.9"/>
<circle cx="594.1" cy="1365.8" r="5.5" fill="#fff" stroke="#b0b0b0" stroke-width="0.9"/>
<circle cx="608.0" cy="1325.4" r="5.5" fill="#fff" stroke="#b0b0b0" stroke-width="0.9"/>
<circle cx="729.3" cy="1243.2" r="6.0" fill="#b3b3b3"/>
<circle cx="851.0" cy="1298.7" r="6.0" fill="#b3b3b3"/>
<circle cx="873.6" cy="1340.3" r="6.0" fill="#b3b3b3"/>
<circle cx="881.5" cy="1387.2" r="6.0" fill="#b3b3b3"/>
<circle cx="851.0" cy="1475.7" r="6.0" fill="#b3b3b3"/>
<circle cx="816.6" cy="1507.4" r="6.0" fill="#b3b3b3"/>
<circle cx="774.5" cy="1526.3" r="6.0" fill="#b3b3b3"/>
<circle cx="729.3" cy="1531.2" r="6.0" fill="#b3b3b3"/>
<circle cx="684.1" cy="1526.3" r="6.0" fill="#b3b3b3"/>
<circle cx="642.0" cy="1507.4" r="6.0" fill="#b3b3b3"/>
<circle cx="607.6" cy="1475.7" r="6.0" fill="#b3b3b3"/>
<circle cx="577.1" cy="1387.2" r="6.0" fill="#b3b3b3"/>
<circle cx="585.0" cy="1340.3" r="6.0" fill="#b3b3b3"/>
<circle cx="607.6" cy="1298.7" r="6.0" fill="#b3b3b3"/>
<g font-size="3.6" text-anchor="middle" style="font-family:'Liberation Sans',sans-serif">
<text x="655.3" y="1323.4" fill="#e6e6e6">F5</text>
<text x="679.8" y="1326.9" fill="#d8d8d8">F3</text>
<text x="704.8" y="1329.3" fill="#e6e6e6">F1</text>
<text x="729.3" y="1330.9" fill="#d8d8d8">Fz</text>
<text x="753.8" y="1329.3" fill="#e6e6e6">F2</text>
<text x="778.8" y="1326.9" fill="#d8d8d8">F4</text>
<text x="803.3" y="1323.4" fill="#e6e6e6">F6</text>
<text x="642.4" y="1354.9" fill="#e6e6e6">FC5</text>
<text x="671.4" y="1357.0" fill="#e6e6e6">FC3</text>
<text x="700.6" y="1358.3" fill="#e6e6e6">FC1</text>
<text x="729.3" y="1359.7" fill="#e6e6e6">FCz</text>
<text x="758.0" y="1358.3" fill="#e6e6e6">FC2</text>
<text x="787.2" y="1357.0" fill="#e6e6e6">FC4</text>
<text x="816.2" y="1354.9" fill="#e6e6e6">FC6</text>
<text x="638.0" y="1388.5" fill="#e6e6e6">C5</text>
<text x="668.4" y="1388.5" fill="#d8d8d8">C3</text>
<text x="698.9" y="1388.5" fill="#e6e6e6">C1</text>
<text x="729.3" y="1388.5" fill="#d8d8d8">Cz</text>
<text x="759.7" y="1388.5" fill="#e6e6e6">C2</text>
<text x="790.2" y="1388.5" fill="#d8d8d8">C4</text>
<text x="820.6" y="1388.5" fill="#e6e6e6">C6</text>
<text x="642.4" y="1422.1" fill="#e6e6e6">CP5</text>
<text x="671.4" y="1420.0" fill="#e6e6e6">CP3</text>
<text x="700.6" y="1418.7" fill="#e6e6e6">CP1</text>
<text x="729.3" y="1417.3" fill="#e6e6e6">CPz</text>
<text x="758.0" y="1418.7" fill="#e6e6e6">CP2</text>
<text x="787.2" y="1420.0" fill="#e6e6e6">CP4</text>
<text x="816.2" y="1422.1" fill="#e6e6e6">CP6</text>
<text x="655.3" y="1453.6" fill="#e6e6e6">P5</text>
<text x="679.8" y="1450.1" fill="#d8d8d8">P3</text>
<text x="704.8" y="1447.7" fill="#e6e6e6">P1</text>
<text x="729.3" y="1446.1" fill="#d8d8d8">Pz</text>
<text x="753.8" y="1447.7" fill="#e6e6e6">P2</text>
<text x="778.8" y="1450.1" fill="#d8d8d8">P4</text>
<text x="803.3" y="1453.6" fill="#e6e6e6">P6</text>
<text x="654.5" y="1306.8" fill="#aaaaaa">AFF7h</text>
<text x="675.3" y="1311.1" fill="#aaaaaa">AFF5h</text>
<text x="696.9" y="1314.0" fill="#aaaaaa">AFF3h</text>
<text x="718.6" y="1315.9" fill="#aaaaaa">AFF1h</text>
<text x="740.0" y="1315.9" fill="#aaaaaa">AFF2h</text>
<text x="761.7" y="1314.0" fill="#aaaaaa">AFF4h</text>
<text x="783.3" y="1311.1" fill="#aaaaaa">AFF6h</text>
<text x="804.1" y="1306.8" fill="#aaaaaa">AFF8h</text>
<text x="634.5" y="1336.5" fill="#aaaaaa">FFC7h</text>
<text x="661.3" y="1340.4" fill="#aaaaaa">FFC5h</text>
<text x="688.7" y="1342.8" fill="#aaaaaa">FFC3h</text>
<text x="716.0" y="1344.6" fill="#aaaaaa">FFC1h</text>
<text x="742.6" y="1344.6" fill="#aaaaaa">FFC2h</text>
<text x="769.9" y="1342.8" fill="#aaaaaa">FFC4h</text>
<text x="797.3" y="1340.4" fill="#aaaaaa">FFC6h</text>
<text x="824.1" y="1336.5" fill="#aaaaaa">FFC8h</text>
<text x="624.1" y="1370.7" fill="#aaaaaa">FCC7h</text>
<text x="654.1" y="1372.2" fill="#aaaaaa">FCC5h</text>
<text x="684.3" y="1373.0" fill="#aaaaaa">FCC3h</text>
<text x="714.5" y="1373.5" fill="#aaaaaa">FCC1h</text>
<text x="744.1" y="1373.5" fill="#aaaaaa">FCC2h</text>
<text x="774.3" y="1373.0" fill="#aaaaaa">FCC4h</text>
<text x="804.5" y="1372.2" fill="#aaaaaa">FCC6h</text>
<text x="834.5" y="1370.7" fill="#aaaaaa">FCC8h</text>
<text x="624.1" y="1406.3" fill="#aaaaaa">CCP7h</text>
<text x="654.1" y="1404.8" fill="#aaaaaa">CCP5h</text>
<text x="684.3" y="1404.0" fill="#aaaaaa">CCP3h</text>
<text x="714.5" y="1403.5" fill="#aaaaaa">CCP1h</text>
<text x="744.1" y="1403.5" fill="#aaaaaa">CCP2h</text>
<text x="774.3" y="1404.0" fill="#aaaaaa">CCP4h</text>
<text x="804.5" y="1404.8" fill="#aaaaaa">CCP6h</text>
<text x="834.5" y="1406.3" fill="#aaaaaa">CCP8h</text>
<text x="634.5" y="1440.5" fill="#aaaaaa">CPP7h</text>
<text x="661.3" y="1436.6" fill="#aaaaaa">CPP5h</text>
<text x="688.7" y="1434.2" fill="#aaaaaa">CPP3h</text>
<text x="716.0" y="1432.4" fill="#aaaaaa">CPP1h</text>
<text x="742.6" y="1432.4" fill="#aaaaaa">CPP2h</text>
<text x="769.9" y="1434.2" fill="#aaaaaa">CPP4h</text>
<text x="797.3" y="1436.6" fill="#aaaaaa">CPP6h</text>
<text x="824.1" y="1440.5" fill="#aaaaaa">CPP8h</text>
<text x="654.5" y="1470.2" fill="#aaaaaa">PPO7h</text>
<text x="675.3" y="1465.9" fill="#aaaaaa">PPO5h</text>
<text x="696.9" y="1463.0" fill="#aaaaaa">PPO3h</text>
<text x="718.6" y="1461.1" fill="#aaaaaa">PPO1h</text>
<text x="740.0" y="1461.1" fill="#aaaaaa">PPO2h</text>
<text x="761.7" y="1463.0" fill="#aaaaaa">PPO4h</text>
<text x="783.3" y="1465.9" fill="#aaaaaa">PPO6h</text>
<text x="804.1" y="1470.2" fill="#aaaaaa">PPO8h</text>
<text x="684.8" y="1297.7" fill="#aaaaaa">AF5h</text>
<text x="702.6" y="1300.0" fill="#aaaaaa">AF3h</text>
<text x="729.3" y="1302.1" fill="#e6e6e6">AFz</text>
<text x="756.0" y="1300.0" fill="#aaaaaa">AF4h</text>
<text x="773.8" y="1297.7" fill="#aaaaaa">AF6h</text>
<text x="684.8" y="1479.3" fill="#aaaaaa">PO5h</text>
<text x="702.6" y="1477.0" fill="#aaaaaa">PO3h</text>
<text x="729.3" y="1474.9" fill="#e6e6e6">POz</text>
<text x="756.0" y="1477.0" fill="#aaaaaa">PO4h</text>
<text x="773.8" y="1479.3" fill="#aaaaaa">PO6h</text>
<text x="702.4" y="1286.0" fill="#aaaaaa">AFp3</text>
<text x="756.2" y="1286.0" fill="#aaaaaa">AFp4</text>
<text x="702.4" y="1491.0" fill="#aaaaaa">POO3</text>
<text x="756.2" y="1491.0" fill="#aaaaaa">POO4</text>
<text x="729.3" y="1273.3" fill="#d8d8d8">Fpz</text>
<text x="765.5" y="1277.2" fill="#d8d8d8">Fp2</text>
<text x="799.2" y="1292.3" fill="#e6e6e6">AF8</text>
<text x="826.7" y="1317.7" fill="#d8d8d8">F8</text>
<text x="844.8" y="1351.0" fill="#e6e6e6">FT8</text>
<text x="851.0" y="1388.5" fill="#d8d8d8">T8</text>
<text x="844.8" y="1426.0" fill="#e6e6e6">TP8</text>
<text x="826.7" y="1459.3" fill="#d8d8d8">P8</text>
<text x="799.2" y="1484.7" fill="#e6e6e6">PO8</text>
<text x="765.5" y="1499.8" fill="#d8d8d8">O2</text>
<text x="729.3" y="1503.7" fill="#d8d8d8">Oz</text>
<text x="693.1" y="1499.8" fill="#d8d8d8">O1</text>
<text x="659.4" y="1484.7" fill="#e6e6e6">PO7</text>
<text x="631.9" y="1459.3" fill="#d8d8d8">P7</text>
<text x="613.8" y="1426.0" fill="#e6e6e6">TP7</text>
<text x="607.5" y="1388.5" fill="#d8d8d8">T7</text>
<text x="613.8" y="1351.0" fill="#e6e6e6">FT7</text>
<text x="631.9" y="1317.7" fill="#d8d8d8">F7</text>
<text x="659.4" y="1292.3" fill="#e6e6e6">AF7</text>
<text x="693.1" y="1277.2" fill="#d8d8d8">Fp1</text>
<text x="850.6" y="1326.7" fill="#aaaaaa">FFT10h</text>
<text x="864.5" y="1367.1" fill="#aaaaaa">FTT10h</text>
<text x="850.6" y="1450.3" fill="#aaaaaa">TPP10h</text>
<text x="824.5" y="1483.7" fill="#aaaaaa">PPO10h</text>
<text x="789.5" y="1506.7" fill="#aaaaaa">POO10h</text>
<text x="749.7" y="1517.5" fill="#aaaaaa">OI2h</text>
<text x="708.9" y="1517.5" fill="#aaaaaa">OI1h</text>
<text x="669.1" y="1506.7" fill="#aaaaaa">POO9h</text>
<text x="634.1" y="1483.7" fill="#aaaaaa">PPO9h</text>
<text x="608.0" y="1450.3" fill="#aaaaaa">TPP9h</text>
<text x="594.1" y="1367.1" fill="#aaaaaa">FTT9h</text>
<text x="608.0" y="1326.7" fill="#aaaaaa">FFT9h</text>
<text x="729.3" y="1244.5" fill="#e6e6e6">Nz</text>
<text x="851.0" y="1300.0" fill="#e6e6e6">F10</text>
<text x="873.6" y="1341.6" fill="#e6e6e6">FT10</text>
<text x="881.5" y="1388.5" fill="#e6e6e6">T10</text>
<text x="851.0" y="1477.0" fill="#e6e6e6">P10</text>
<text x="816.6" y="1508.7" fill="#e6e6e6">PO10</text>
<text x="774.5" y="1527.6" fill="#e6e6e6">I2</text>
<text x="729.3" y="1532.5" fill="#e6e6e6">Iz</text>
<text x="684.1" y="1527.6" fill="#e6e6e6">I1</text>
<text x="642.0" y="1508.7" fill="#e6e6e6">PO9</text>
<text x="607.6" y="1477.0" fill="#e6e6e6">P9</text>
<text x="577.1" y="1388.5" fill="#e6e6e6">T9</text>
<text x="585.0" y="1341.6" fill="#e6e6e6">FT9</text>
<text x="607.6" y="1300.0" fill="#e6e6e6">F9</text>
</g>
<circle cx="765.5" cy="1275.9" r="10.3" fill="#ff2222"/><circle cx="765.5" cy="1275.9" r="7.3" fill="#e02525" stroke="#f24444" stroke-width="1.2"/>
<text x="750.2" y="1267.7" font-size="12.5" font-weight="bold" style="font-family:'DejaVu Sans',sans-serif" fill="#e5707a" stroke="#c0646c" stroke-width="0.35">1</text>
<circle cx="693.1" cy="1275.9" r="9.45" fill="none" stroke="#f87474" stroke-width="2.1"/>
<text x="677.8" y="1267.7" font-size="12.5" font-weight="bold" style="font-family:'DejaVu Sans',sans-serif" fill="#e5707a" stroke="#c0646c" stroke-width="0.35">2</text>
<circle cx="826.7" cy="1316.4" r="10.3" fill="#ff2222"/><circle cx="826.7" cy="1316.4" r="7.3" fill="#e02525" stroke="#f24444" stroke-width="1.2"/>
<text x="811.4" y="1308.2" font-size="12.5" font-weight="bold" style="font-family:'DejaVu Sans',sans-serif" fill="#e5707a" stroke="#c0646c" stroke-width="0.35">3</text>
<circle cx="778.8" cy="1325.6" r="9.45" fill="none" stroke="#f87474" stroke-width="2.1"/>
<text x="763.5" y="1317.4" font-size="12.5" font-weight="bold" style="font-family:'DejaVu Sans',sans-serif" fill="#e5707a" stroke="#c0646c" stroke-width="0.35">4</text>
<circle cx="729.3" cy="1329.6" r="9.45" fill="none" stroke="#f87474" stroke-width="2.1"/>
<text x="714.0" y="1321.4" font-size="12.5" font-weight="bold" style="font-family:'DejaVu Sans',sans-serif" fill="#e5707a" stroke="#c0646c" stroke-width="0.35">5</text>
<circle cx="679.8" cy="1325.6" r="9.45" fill="none" stroke="#f87474" stroke-width="2.1"/>
<text x="664.5" y="1317.4" font-size="12.5" font-weight="bold" style="font-family:'DejaVu Sans',sans-serif" fill="#e5707a" stroke="#c0646c" stroke-width="0.35">6</text>
<circle cx="631.9" cy="1316.4" r="9.45" fill="none" stroke="#f87474" stroke-width="2.1"/>
<text x="616.6" y="1308.2" font-size="12.5" font-weight="bold" style="font-family:'DejaVu Sans',sans-serif" fill="#e5707a" stroke="#c0646c" stroke-width="0.35">7</text>
<circle cx="816.2" cy="1353.6" r="9.45" fill="none" stroke="#f87474" stroke-width="2.1"/>
<text x="800.9" y="1345.4" font-size="12.5" font-weight="bold" style="font-family:'DejaVu Sans',sans-serif" fill="#e5707a" stroke="#c0646c" stroke-width="0.35">8</text>
<circle cx="758.0" cy="1357.0" r="9.45" fill="none" stroke="#f87474" stroke-width="2.1"/>
<text x="742.7" y="1348.8" font-size="12.5" font-weight="bold" style="font-family:'DejaVu Sans',sans-serif" fill="#e5707a" stroke="#c0646c" stroke-width="0.35">9</text>
<circle cx="700.6" cy="1357.0" r="9.45" fill="none" stroke="#f87474" stroke-width="2.1"/>
<text x="685.3" y="1348.8" font-size="12.5" font-weight="bold" style="font-family:'DejaVu Sans',sans-serif" fill="#e5707a" stroke="#c0646c" stroke-width="0.35">10</text>
<circle cx="642.4" cy="1353.6" r="9.45" fill="none" stroke="#f87474" stroke-width="2.1"/>
<text x="627.1" y="1345.4" font-size="12.5" font-weight="bold" style="font-family:'DejaVu Sans',sans-serif" fill="#e5707a" stroke="#c0646c" stroke-width="0.35">11</text>
<circle cx="851.0" cy="1387.2" r="9.45" fill="none" stroke="#f87474" stroke-width="2.1"/>
<text x="835.8" y="1379.0" font-size="12.5" font-weight="bold" style="font-family:'DejaVu Sans',sans-serif" fill="#e5707a" stroke="#c0646c" stroke-width="0.35">12</text>
<circle cx="790.2" cy="1387.2" r="9.45" fill="none" stroke="#f87474" stroke-width="2.1"/>
<text x="774.9" y="1379.0" font-size="12.5" font-weight="bold" style="font-family:'DejaVu Sans',sans-serif" fill="#e5707a" stroke="#c0646c" stroke-width="0.35">13</text>
<circle cx="729.3" cy="1387.2" r="9.45" fill="none" stroke="#f87474" stroke-width="2.1"/>
<text x="714.0" y="1379.0" font-size="12.5" font-weight="bold" style="font-family:'DejaVu Sans',sans-serif" fill="#e5707a" stroke="#c0646c" stroke-width="0.35">14</text>
<circle cx="668.4" cy="1387.2" r="9.45" fill="none" stroke="#f87474" stroke-width="2.1"/>
<text x="653.1" y="1379.0" font-size="12.5" font-weight="bold" style="font-family:'DejaVu Sans',sans-serif" fill="#e5707a" stroke="#c0646c" stroke-width="0.35">15</text>
<circle cx="607.5" cy="1387.2" r="9.45" fill="none" stroke="#f87474" stroke-width="2.1"/>
<text x="592.2" y="1379.0" font-size="12.5" font-weight="bold" style="font-family:'DejaVu Sans',sans-serif" fill="#e5707a" stroke="#c0646c" stroke-width="0.35">16</text>
<circle cx="873.6" cy="1434.1" r="9.45" fill="none" stroke="#f87474" stroke-width="2.1"/>
<text x="858.3" y="1425.9" font-size="12.5" font-weight="bold" style="font-family:'DejaVu Sans',sans-serif" fill="#e5707a" stroke="#c0646c" stroke-width="0.35">17</text>
<circle cx="816.2" cy="1420.8" r="9.45" fill="none" stroke="#f87474" stroke-width="2.1"/>
<text x="800.9" y="1412.6" font-size="12.5" font-weight="bold" style="font-family:'DejaVu Sans',sans-serif" fill="#e5707a" stroke="#c0646c" stroke-width="0.35">18</text>
<circle cx="758.0" cy="1417.4" r="9.45" fill="none" stroke="#f87474" stroke-width="2.1"/>
<text x="742.7" y="1409.2" font-size="12.5" font-weight="bold" style="font-family:'DejaVu Sans',sans-serif" fill="#e5707a" stroke="#c0646c" stroke-width="0.35">19</text>
<circle cx="700.6" cy="1417.4" r="9.45" fill="none" stroke="#f87474" stroke-width="2.1"/>
<text x="685.3" y="1409.2" font-size="12.5" font-weight="bold" style="font-family:'DejaVu Sans',sans-serif" fill="#e5707a" stroke="#c0646c" stroke-width="0.35">20</text>
<circle cx="642.4" cy="1420.8" r="9.45" fill="none" stroke="#f87474" stroke-width="2.1"/>
<text x="627.1" y="1412.6" font-size="12.5" font-weight="bold" style="font-family:'DejaVu Sans',sans-serif" fill="#e5707a" stroke="#c0646c" stroke-width="0.35">21</text>
<circle cx="585.0" cy="1434.1" r="9.45" fill="none" stroke="#f87474" stroke-width="2.1"/>
<text x="569.7" y="1425.9" font-size="12.5" font-weight="bold" style="font-family:'DejaVu Sans',sans-serif" fill="#e5707a" stroke="#c0646c" stroke-width="0.35">22</text>
<circle cx="778.8" cy="1448.8" r="9.45" fill="none" stroke="#f87474" stroke-width="2.1"/>
<text x="763.5" y="1440.6" font-size="12.5" font-weight="bold" style="font-family:'DejaVu Sans',sans-serif" fill="#e5707a" stroke="#c0646c" stroke-width="0.35">23</text>
<circle cx="729.3" cy="1444.8" r="9.45" fill="none" stroke="#f87474" stroke-width="2.1"/>
<text x="714.0" y="1436.6" font-size="12.5" font-weight="bold" style="font-family:'DejaVu Sans',sans-serif" fill="#e5707a" stroke="#c0646c" stroke-width="0.35">24</text>
<circle cx="679.8" cy="1448.8" r="9.45" fill="none" stroke="#f87474" stroke-width="2.1"/>
<text x="664.5" y="1440.6" font-size="12.5" font-weight="bold" style="font-family:'DejaVu Sans',sans-serif" fill="#e5707a" stroke="#c0646c" stroke-width="0.35">25</text>
<circle cx="826.7" cy="1458.0" r="9.45" fill="none" stroke="#f87474" stroke-width="2.1"/>
<text x="811.4" y="1449.8" font-size="12.5" font-weight="bold" style="font-family:'DejaVu Sans',sans-serif" fill="#e5707a" stroke="#c0646c" stroke-width="0.35">26</text>
<circle cx="756.0" cy="1475.7" r="9.45" fill="none" stroke="#f87474" stroke-width="2.1"/>
<text x="740.7" y="1467.5" font-size="12.5" font-weight="bold" style="font-family:'DejaVu Sans',sans-serif" fill="#e5707a" stroke="#c0646c" stroke-width="0.35">27</text>
<circle cx="702.6" cy="1475.7" r="9.45" fill="none" stroke="#f87474" stroke-width="2.1"/>
<text x="687.3" y="1467.5" font-size="12.5" font-weight="bold" style="font-family:'DejaVu Sans',sans-serif" fill="#e5707a" stroke="#c0646c" stroke-width="0.35">28</text>
<circle cx="631.9" cy="1458.0" r="9.45" fill="none" stroke="#f87474" stroke-width="2.1"/>
<text x="616.6" y="1449.8" font-size="12.5" font-weight="bold" style="font-family:'DejaVu Sans',sans-serif" fill="#e5707a" stroke="#c0646c" stroke-width="0.35">29</text>
<circle cx="774.5" cy="1526.3" r="9.45" fill="none" stroke="#f87474" stroke-width="2.1"/>
<text x="759.2" y="1518.1" font-size="12.5" font-weight="bold" style="font-family:'DejaVu Sans',sans-serif" fill="#e5707a" stroke="#c0646c" stroke-width="0.35">30</text>
<circle cx="684.1" cy="1526.3" r="9.45" fill="none" stroke="#f87474" stroke-width="2.1"/>
<text x="668.8" y="1518.1" font-size="12.5" font-weight="bold" style="font-family:'DejaVu Sans',sans-serif" fill="#e5707a" stroke="#c0646c" stroke-width="0.35">31</text>
<circle cx="729.3" cy="1502.4" r="9.45" fill="none" stroke="#f87474" stroke-width="2.1"/>
<text x="714.0" y="1494.2" font-size="12.5" font-weight="bold" style="font-family:'DejaVu Sans',sans-serif" fill="#e5707a" stroke="#c0646c" stroke-width="0.35">32</text>
<g fill="none" stroke="#b4b4b4" stroke-width="1.2">
<path d="M1139.9,1243.2 L1147.5,1243.1 L1155.0,1243.3 L1162.6,1243.9 L1170.1,1244.9 L1177.6,1246.3 L1185.1,1248.1 L1192.5,1250.3 L1199.7,1252.9 L1206.8,1255.8 L1213.8,1259.2 L1220.6,1262.9 L1227.2,1267.0 L1233.6,1271.5 L1239.8,1276.3 L1245.7,1281.4 L1251.3,1286.9 L1256.6,1292.7 L1261.6,1298.7 L1266.3,1305.1 L1270.7,1311.7 L1274.6,1318.6 L1278.2,1325.6 L1281.4,1332.9 L1284.2,1340.3 L1286.6,1347.9 L1288.6,1355.6 L1290.1,1363.4 L1291.2,1371.3 L1291.9,1379.2 L1292.1,1387.2 L1291.9,1395.2 L1291.2,1403.1 L1290.1,1411.0 L1288.6,1418.8 L1286.6,1426.5 L1284.2,1434.1 L1281.4,1441.5 L1278.2,1448.8 L1274.6,1455.8 L1270.7,1462.7 L1266.3,1469.3 L1261.6,1475.7 L1256.6,1481.7 L1251.3,1487.5 L1245.7,1493.0 L1239.8,1498.1 L1233.6,1502.9 L1227.2,1507.4 L1220.6,1511.5 L1213.8,1515.2 L1206.8,1518.6 L1199.7,1521.5 L1192.5,1524.1 L1185.1,1526.3 L1177.6,1528.1 L1170.1,1529.5 L1162.6,1530.5 L1155.0,1531.1 L1147.5,1531.3 L1139.9,1531.2 L1132.3,1531.3 L1124.8,1531.1 L1117.2,1530.5 L1109.7,1529.5 L1102.2,1528.1 L1094.7,1526.3 L1087.3,1524.1 L1080.1,1521.5 L1073.0,1518.6 L1066.0,1515.2 L1059.2,1511.5 L1052.6,1507.4 L1046.2,1502.9 L1040.0,1498.1 L1034.1,1493.0 L1028.5,1487.5 L1023.2,1481.7 L1018.2,1475.7 L1013.5,1469.3 L1009.1,1462.7 L1005.2,1455.8 L1001.6,1448.8 L998.4,1441.5 L995.6,1434.1 L993.2,1426.5 L991.2,1418.8 L989.7,1411.0 L988.6,1403.1 L987.9,1395.2 L987.7,1387.2 L987.9,1379.2 L988.6,1371.3 L989.7,1363.4 L991.2,1355.6 L993.2,1347.9 L995.6,1340.3 L998.4,1332.9 L1001.6,1325.6 L1005.2,1318.6 L1009.1,1311.7 L1013.5,1305.1 L1018.2,1298.7 L1023.2,1292.7 L1028.5,1286.9 L1034.1,1281.4 L1040.0,1276.3 L1046.2,1271.5 L1052.6,1267.0 L1059.2,1262.9 L1066.0,1259.2 L1073.0,1255.8 L1080.1,1252.9 L1087.3,1250.3 L1094.7,1248.1 L1102.2,1246.3 L1109.7,1244.9 L1117.2,1243.9 L1124.8,1243.3 L1132.3,1243.1 L1139.9,1243.2Z"/>
<path d="M1139.9,1272.0 L1145.9,1271.9 L1152.0,1272.1 L1158.1,1272.6 L1164.1,1273.4 L1170.1,1274.5 L1176.1,1275.9 L1181.9,1277.7 L1187.7,1279.7 L1193.4,1282.1 L1199.0,1284.8 L1204.5,1287.8 L1209.8,1291.0 L1214.9,1294.6 L1219.8,1298.5 L1224.5,1302.6 L1229.0,1307.0 L1233.3,1311.6 L1237.3,1316.4 L1241.0,1321.5 L1244.5,1326.8 L1247.7,1332.3 L1250.6,1337.9 L1253.1,1343.7 L1255.4,1349.7 L1257.3,1355.8 L1258.8,1361.9 L1260.1,1368.2 L1260.9,1374.5 L1261.5,1380.8 L1261.7,1387.2 L1261.5,1393.6 L1260.9,1399.9 L1260.1,1406.2 L1258.8,1412.5 L1257.3,1418.6 L1255.4,1424.7 L1253.1,1430.7 L1250.6,1436.5 L1247.7,1442.1 L1244.5,1447.6 L1241.0,1452.9 L1237.3,1458.0 L1233.3,1462.8 L1229.0,1467.4 L1224.5,1471.8 L1219.8,1475.9 L1214.9,1479.8 L1209.8,1483.4 L1204.5,1486.6 L1199.0,1489.6 L1193.4,1492.3 L1187.7,1494.7 L1181.9,1496.7 L1176.1,1498.5 L1170.1,1499.9 L1164.1,1501.0 L1158.1,1501.8 L1152.0,1502.3 L1145.9,1502.5 L1139.9,1502.4 L1133.9,1502.5 L1127.8,1502.3 L1121.7,1501.8 L1115.7,1501.0 L1109.7,1499.9 L1103.7,1498.5 L1097.9,1496.7 L1092.1,1494.7 L1086.4,1492.3 L1080.8,1489.6 L1075.3,1486.6 L1070.0,1483.4 L1064.9,1479.8 L1060.0,1475.9 L1055.3,1471.8 L1050.8,1467.4 L1046.5,1462.8 L1042.5,1458.0 L1038.8,1452.9 L1035.3,1447.6 L1032.1,1442.1 L1029.2,1436.5 L1026.7,1430.7 L1024.4,1424.7 L1022.5,1418.6 L1021.0,1412.5 L1019.7,1406.2 L1018.9,1399.9 L1018.3,1393.6 L1018.2,1387.2 L1018.3,1380.8 L1018.9,1374.5 L1019.7,1368.2 L1021.0,1361.9 L1022.5,1355.8 L1024.4,1349.7 L1026.7,1343.7 L1029.2,1337.9 L1032.1,1332.3 L1035.3,1326.8 L1038.8,1321.5 L1042.5,1316.4 L1046.5,1311.6 L1050.8,1307.0 L1055.3,1302.6 L1060.0,1298.5 L1064.9,1294.6 L1070.0,1291.0 L1075.3,1287.8 L1080.8,1284.8 L1086.4,1282.1 L1092.1,1279.7 L1097.9,1277.7 L1103.7,1275.9 L1109.7,1274.5 L1115.7,1273.4 L1121.7,1272.6 L1127.8,1272.1 L1133.9,1271.9 L1139.9,1272.0Z"/>
<line x1="1139.9" y1="1243.2" x2="1139.9" y2="1531.2"/>
<path d="M1112.0,1243.6 C1121.9,1229.2 1129.9,1218.7 1139.7,1218.9 C1149.9,1218.7 1158.9,1229.2 1169.4,1243.6"/>
<path d="M985.4,1381.7 C973.9,1381.2 974.9,1417.2 979.9,1421.2 C983.9,1424.2 987.9,1422.2 989.9,1420.2"/>
<path d="M1294.4,1381.7 C1305.9,1381.2 1304.9,1417.2 1299.9,1421.2 C1295.9,1424.2 1291.9,1422.2 1289.9,1420.2"/>
<path d="M1284.0,1339.4 Q1272.9,1323.7 1260.6,1323.8 C1249.9,1323.7 1243.9,1342.2 1243.4,1362.2 C1242.9,1379.2 1235.9,1395.2 1228.3,1407.4"/>
<path d="M995.8,1339.4 Q1006.9,1323.7 1019.2,1323.8 C1029.9,1323.7 1035.9,1342.2 1036.4,1362.2 C1036.9,1379.2 1043.9,1395.2 1051.5,1407.4"/>
<path d="M1049.3,1370.2 C1079.9,1377.2 1114.9,1392.2 1139.9,1416.2 C1164.9,1392.2 1199.9,1377.2 1230.5,1370.2"/>
</g>
<path d="M1054.0,1319.6h0M1078.1,1324.1h0M1102.9,1326.9h0M1127.7,1328.9h0M1152.1,1328.9h0M1176.9,1326.9h0M1201.7,1324.1h0M1225.8,1319.6h0M1038.6,1351.9h0M1067.4,1354.8h0M1096.6,1356.4h0M1125.8,1357.7h0M1154.0,1357.7h0M1183.2,1356.4h0M1212.4,1354.8h0M1241.2,1351.9h0M1033.4,1387.2h0M1063.8,1387.2h0M1094.2,1387.2h0M1124.7,1387.2h0M1155.1,1387.2h0M1185.6,1387.2h0M1216.0,1387.2h0M1246.4,1387.2h0M1038.6,1422.5h0M1067.4,1419.6h0M1096.6,1418.0h0M1125.8,1416.7h0M1154.0,1416.7h0M1183.2,1418.0h0M1212.4,1419.6h0M1241.2,1422.5h0M1054.0,1454.8h0M1078.1,1450.3h0M1102.9,1447.5h0M1127.7,1445.5h0M1152.1,1445.5h0M1176.9,1447.5h0M1201.7,1450.3h0M1225.8,1454.8h0M1075.4,1307.9h0M1096.7,1311.4h0M1118.4,1313.7h0M1139.9,1315.2h0M1161.4,1313.7h0M1183.1,1311.4h0M1204.4,1307.9h0M1058.4,1337.4h0M1085.5,1340.4h0M1113.0,1342.4h0M1139.9,1344.0h0M1166.8,1342.4h0M1194.3,1340.4h0M1221.4,1337.4h0M1049.7,1370.2h0M1079.8,1371.3h0M1110.0,1371.9h0M1139.9,1372.8h0M1169.8,1371.9h0M1200.0,1371.3h0M1230.1,1370.2h0M1049.7,1404.2h0M1079.8,1403.1h0M1110.0,1402.5h0M1139.9,1401.6h0M1169.8,1402.5h0M1200.0,1403.1h0M1230.1,1404.2h0M1058.4,1437.0h0M1085.5,1434.0h0M1113.0,1432.0h0M1139.9,1430.4h0M1166.8,1432.0h0M1194.3,1434.0h0M1221.4,1437.0h0M1075.4,1466.5h0M1096.7,1463.0h0M1118.4,1460.7h0M1139.9,1459.2h0M1161.4,1460.7h0M1183.1,1463.0h0M1204.4,1466.5h0M1078.2,1293.2h0M1086.7,1295.0h0M1104.3,1297.7h0M1122.1,1299.6h0M1131.0,1300.3h0M1148.8,1300.3h0M1157.7,1299.6h0M1175.5,1297.7h0M1193.1,1295.0h0M1201.6,1293.2h0M1078.2,1481.2h0M1086.7,1479.4h0M1104.3,1476.7h0M1122.1,1474.8h0M1131.0,1474.1h0M1148.8,1474.1h0M1157.7,1474.8h0M1175.5,1476.7h0M1193.1,1479.4h0M1201.6,1481.2h0M1099.6,1283.6h0M1126.5,1285.7h0M1139.9,1286.4h0M1153.3,1285.7h0M1180.2,1283.6h0M1099.6,1490.8h0M1126.5,1488.7h0M1139.9,1488.0h0M1153.3,1488.7h0M1180.2,1490.8h0M1158.1,1272.6h0M1193.4,1282.1h0M1224.5,1302.6h0M1247.7,1332.3h0M1260.1,1368.2h0M1260.1,1406.2h0M1247.7,1442.1h0M1224.5,1471.8h0M1193.4,1492.3h0M1158.1,1501.8h0M1121.7,1501.8h0M1086.4,1492.3h0M1055.3,1471.8h0M1032.1,1442.1h0M1019.7,1406.2h0M1019.7,1368.2h0M1032.1,1332.3h0M1055.3,1302.6h0M1086.4,1282.1h0M1121.7,1272.6h0M1200.1,1269.0h0M1218.5,1279.0h0M1235.1,1292.0h0M1249.5,1307.6h0M1269.8,1345.0h0M1276.9,1387.2h0M1275.1,1408.6h0M1269.8,1429.4h0M1249.5,1466.8h0M1218.5,1495.4h0M1180.6,1512.4h0M1139.9,1516.8h0M1099.2,1512.4h0M1061.3,1495.4h0M1030.3,1466.8h0M1010.0,1429.4h0M1004.7,1408.6h0M1002.9,1387.2h0M1010.0,1345.0h0M1030.3,1307.6h0M1044.7,1292.0h0M1061.3,1279.0h0M1079.7,1269.0h0M1206.8,1255.8h0M1227.2,1267.0h0M1245.7,1281.4h0M1274.6,1318.6h0M1290.1,1363.4h0M1290.1,1411.0h0M1284.2,1434.1h0M1274.6,1455.8h0M1245.7,1493.0h0M1206.8,1518.6h0M1162.6,1530.5h0M1117.2,1530.5h0M1073.0,1518.6h0M1034.1,1493.0h0M1005.2,1455.8h0M995.6,1434.1h0M989.7,1411.0h0M989.7,1363.4h0M1005.2,1318.6h0M1034.1,1281.4h0M1052.6,1267.0h0M1073.0,1255.8h0" stroke="#5a5a5a" stroke-width="2.1" stroke-linecap="round"/>
<circle cx="1065.9" cy="1322.1" r="6.0" fill="#b3b3b3"/>
<circle cx="1090.4" cy="1325.6" r="6.1" fill="#626262"/>
<circle cx="1115.4" cy="1328.0" r="6.0" fill="#b3b3b3"/>
<circle cx="1139.9" cy="1329.6" r="6.1" fill="#626262"/>
<circle cx="1164.4" cy="1328.0" r="6.0" fill="#b3b3b3"/>
<circle cx="1189.4" cy="1325.6" r="6.1" fill="#626262"/>
<circle cx="1213.9" cy="1322.1" r="6.0" fill="#b3b3b3"/>
<circle cx="1053.0" cy="1353.6" r="6.0" fill="#b3b3b3"/>
<circle cx="1082.0" cy="1355.7" r="6.0" fill="#b3b3b3"/>
<circle cx="1111.2" cy="1357.0" r="6.0" fill="#b3b3b3"/>
<circle cx="1139.9" cy="1358.4" r="6.0" fill="#b3b3b3"/>
<circle cx="1168.6" cy="1357.0" r="6.0" fill="#b3b3b3"/>
<circle cx="1197.8" cy="1355.7" r="6.0" fill="#b3b3b3"/>
<circle cx="1226.8" cy="1353.6" r="6.0" fill="#b3b3b3"/>
<circle cx="1048.6" cy="1387.2" r="6.0" fill="#b3b3b3"/>
<circle cx="1079.0" cy="1387.2" r="6.1" fill="#626262"/>
<circle cx="1109.5" cy="1387.2" r="6.0" fill="#b3b3b3"/>
<circle cx="1139.9" cy="1387.2" r="6.1" fill="#626262"/>
<circle cx="1170.3" cy="1387.2" r="6.0" fill="#b3b3b3"/>
<circle cx="1200.8" cy="1387.2" r="6.1" fill="#626262"/>
<circle cx="1231.2" cy="1387.2" r="6.0" fill="#b3b3b3"/>
<circle cx="1053.0" cy="1420.8" r="6.0" fill="#b3b3b3"/>
<circle cx="1082.0" cy="1418.7" r="6.0" fill="#b3b3b3"/>
<circle cx="1111.2" cy="1417.4" r="6.0" fill="#b3b3b3"/>
<circle cx="1139.9" cy="1416.0" r="6.0" fill="#b3b3b3"/>
<circle cx="1168.6" cy="1417.4" r="6.0" fill="#b3b3b3"/>
<circle cx="1197.8" cy="1418.7" r="6.0" fill="#b3b3b3"/>
<circle cx="1226.8" cy="1420.8" r="6.0" fill="#b3b3b3"/>
<circle cx="1065.9" cy="1452.3" r="6.0" fill="#b3b3b3"/>
<circle cx="1090.4" cy="1448.8" r="6.1" fill="#626262"/>
<circle cx="1115.4" cy="1446.4" r="6.0" fill="#b3b3b3"/>
<circle cx="1139.9" cy="1444.8" r="6.1" fill="#626262"/>
<circle cx="1164.4" cy="1446.4" r="6.0" fill="#b3b3b3"/>
<circle cx="1189.4" cy="1448.8" r="6.1" fill="#626262"/>
<circle cx="1213.9" cy="1452.3" r="6.0" fill="#b3b3b3"/>
<circle cx="1065.1" cy="1305.5" r="5.5" fill="#fff" stroke="#b0b0b0" stroke-width="0.9"/>
<circle cx="1085.9" cy="1309.8" r="5.5" fill="#fff" stroke="#b0b0b0" stroke-width="0.9"/>
<circle cx="1107.5" cy="1312.7" r="5.5" fill="#fff" stroke="#b0b0b0" stroke-width="0.9"/>
<circle cx="1129.2" cy="1314.6" r="5.5" fill="#fff" stroke="#b0b0b0" stroke-width="0.9"/>
<circle cx="1150.6" cy="1314.6" r="5.5" fill="#fff" stroke="#b0b0b0" stroke-width="0.9"/>
<circle cx="1172.3" cy="1312.7" r="5.5" fill="#fff" stroke="#b0b0b0" stroke-width="0.9"/>
<circle cx="1193.9" cy="1309.8" r="5.5" fill="#fff" stroke="#b0b0b0" stroke-width="0.9"/>
<circle cx="1214.7" cy="1305.5" r="5.5" fill="#fff" stroke="#b0b0b0" stroke-width="0.9"/>
<circle cx="1045.1" cy="1335.2" r="5.5" fill="#fff" stroke="#b0b0b0" stroke-width="0.9"/>
<circle cx="1071.9" cy="1339.1" r="5.5" fill="#fff" stroke="#b0b0b0" stroke-width="0.9"/>
<circle cx="1099.3" cy="1341.5" r="5.5" fill="#fff" stroke="#b0b0b0" stroke-width="0.9"/>
<circle cx="1126.6" cy="1343.3" r="5.5" fill="#fff" stroke="#b0b0b0" stroke-width="0.9"/>
<circle cx="1153.2" cy="1343.3" r="5.5" fill="#fff" stroke="#b0b0b0" stroke-width="0.9"/>
<circle cx="1180.5" cy="1341.5" r="5.5" fill="#fff" stroke="#b0b0b0" stroke-width="0.9"/>
<circle cx="1207.9" cy="1339.1" r="5.5" fill="#fff" stroke="#b0b0b0" stroke-width="0.9"/>
<circle cx="1234.7" cy="1335.2" r="5.5" fill="#fff" stroke="#b0b0b0" stroke-width="0.9"/>
<circle cx="1034.7" cy="1369.4" r="5.5" fill="#fff" stroke="#b0b0b0" stroke-width="0.9"/>
<circle cx="1064.7" cy="1370.9" r="5.5" fill="#fff" stroke="#b0b0b0" stroke-width="0.9"/>
<circle cx="1094.9" cy="1371.7" r="5.5" fill="#fff" stroke="#b0b0b0" stroke-width="0.9"/>
<circle cx="1125.1" cy="1372.2" r="5.5" fill="#fff" stroke="#b0b0b0" stroke-width="0.9"/>
<circle cx="1154.7" cy="1372.2" r="5.5" fill="#fff" stroke="#b0b0b0" stroke-width="0.9"/>
<circle cx="1184.9" cy="1371.7" r="5.5" fill="#fff" stroke="#b0b0b0" stroke-width="0.9"/>
<circle cx="1215.1" cy="1370.9" r="5.5" fill="#fff" stroke="#b0b0b0" stroke-width="0.9"/>
<circle cx="1245.1" cy="1369.4" r="5.5" fill="#fff" stroke="#b0b0b0" stroke-width="0.9"/>
<circle cx="1034.7" cy="1405.0" r="5.5" fill="#fff" stroke="#b0b0b0" stroke-width="0.9"/>
<circle cx="1064.7" cy="1403.5" r="5.5" fill="#fff" stroke="#b0b0b0" stroke-width="0.9"/>
<circle cx="1094.9" cy="1402.7" r="5.5" fill="#fff" stroke="#b0b0b0" stroke-width="0.9"/>
<circle cx="1125.1" cy="1402.2" r="5.5" fill="#fff" stroke="#b0b0b0" stroke-width="0.9"/>
<circle cx="1154.7" cy="1402.2" r="5.5" fill="#fff" stroke="#b0b0b0" stroke-width="0.9"/>
<circle cx="1184.9" cy="1402.7" r="5.5" fill="#fff" stroke="#b0b0b0" stroke-width="0.9"/>
<circle cx="1215.1" cy="1403.5" r="5.5" fill="#fff" stroke="#b0b0b0" stroke-width="0.9"/>
<circle cx="1245.1" cy="1405.0" r="5.5" fill="#fff" stroke="#b0b0b0" stroke-width="0.9"/>
<circle cx="1045.1" cy="1439.2" r="5.5" fill="#fff" stroke="#b0b0b0" stroke-width="0.9"/>
<circle cx="1071.9" cy="1435.3" r="5.5" fill="#fff" stroke="#b0b0b0" stroke-width="0.9"/>
<circle cx="1099.3" cy="1432.9" r="5.5" fill="#fff" stroke="#b0b0b0" stroke-width="0.9"/>
<circle cx="1126.6" cy="1431.1" r="5.5" fill="#fff" stroke="#b0b0b0" stroke-width="0.9"/>
<circle cx="1153.2" cy="1431.1" r="5.5" fill="#fff" stroke="#b0b0b0" stroke-width="0.9"/>
<circle cx="1180.5" cy="1432.9" r="5.5" fill="#fff" stroke="#b0b0b0" stroke-width="0.9"/>
<circle cx="1207.9" cy="1435.3" r="5.5" fill="#fff" stroke="#b0b0b0" stroke-width="0.9"/>
<circle cx="1234.7" cy="1439.2" r="5.5" fill="#fff" stroke="#b0b0b0" stroke-width="0.9"/>
<circle cx="1065.1" cy="1468.9" r="5.5" fill="#fff" stroke="#b0b0b0" stroke-width="0.9"/>
<circle cx="1085.9" cy="1464.6" r="5.5" fill="#fff" stroke="#b0b0b0" stroke-width="0.9"/>
<circle cx="1107.5" cy="1461.7" r="5.5" fill="#fff" stroke="#b0b0b0" stroke-width="0.9"/>
<circle cx="1129.2" cy="1459.8" r="5.5" fill="#fff" stroke="#b0b0b0" stroke-width="0.9"/>
<circle cx="1150.6" cy="1459.8" r="5.5" fill="#fff" stroke="#b0b0b0" stroke-width="0.9"/>
<circle cx="1172.3" cy="1461.7" r="5.5" fill="#fff" stroke="#b0b0b0" stroke-width="0.9"/>
<circle cx="1193.9" cy="1464.6" r="5.5" fill="#fff" stroke="#b0b0b0" stroke-width="0.9"/>
<circle cx="1214.7" cy="1468.9" r="5.5" fill="#fff" stroke="#b0b0b0" stroke-width="0.9"/>
<circle cx="1095.4" cy="1296.4" r="5.5" fill="#fff" stroke="#b0b0b0" stroke-width="0.9"/>
<circle cx="1113.2" cy="1298.7" r="5.5" fill="#fff" stroke="#b0b0b0" stroke-width="0.9"/>
<circle cx="1139.9" cy="1300.8" r="6.0" fill="#b3b3b3"/>
<circle cx="1166.6" cy="1298.7" r="5.5" fill="#fff" stroke="#b0b0b0" stroke-width="0.9"/>
<circle cx="1184.4" cy="1296.4" r="5.5" fill="#fff" stroke="#b0b0b0" stroke-width="0.9"/>
<circle cx="1095.4" cy="1478.0" r="5.5" fill="#fff" stroke="#b0b0b0" stroke-width="0.9"/>
<circle cx="1113.2" cy="1475.7" r="5.5" fill="#fff" stroke="#b0b0b0" stroke-width="0.9"/>
<circle cx="1139.9" cy="1473.6" r="6.0" fill="#b3b3b3"/>
<circle cx="1166.6" cy="1475.7" r="5.5" fill="#fff" stroke="#b0b0b0" stroke-width="0.9"/>
<circle cx="1184.4" cy="1478.0" r="5.5" fill="#fff" stroke="#b0b0b0" stroke-width="0.9"/>
<circle cx="1113.0" cy="1284.7" r="5.5" fill="#fff" stroke="#b0b0b0" stroke-width="0.9"/>
<circle cx="1166.8" cy="1284.7" r="5.5" fill="#fff" stroke="#b0b0b0" stroke-width="0.9"/>
<circle cx="1113.0" cy="1489.7" r="5.5" fill="#fff" stroke="#b0b0b0" stroke-width="0.9"/>
<circle cx="1166.8" cy="1489.7" r="5.5" fill="#fff" stroke="#b0b0b0" stroke-width="0.9"/>
<circle cx="1139.9" cy="1272.0" r="6.1" fill="#626262"/>
<circle cx="1176.1" cy="1275.9" r="6.1" fill="#626262"/>
<circle cx="1209.8" cy="1291.0" r="6.0" fill="#b3b3b3"/>
<circle cx="1237.3" cy="1316.4" r="6.1" fill="#626262"/>
<circle cx="1255.4" cy="1349.7" r="6.0" fill="#b3b3b3"/>
<circle cx="1261.7" cy="1387.2" r="6.1" fill="#626262"/>
<circle cx="1255.4" cy="1424.7" r="6.0" fill="#b3b3b3"/>
<circle cx="1237.3" cy="1458.0" r="6.1" fill="#626262"/>
<circle cx="1209.8" cy="1483.4" r="6.0" fill="#b3b3b3"/>
<circle cx="1176.1" cy="1498.5" r="6.1" fill="#626262"/>
<circle cx="1139.9" cy="1502.4" r="6.1" fill="#626262"/>
<circle cx="1103.7" cy="1498.5" r="6.1" fill="#626262"/>
<circle cx="1070.0" cy="1483.4" r="6.0" fill="#b3b3b3"/>
<circle cx="1042.5" cy="1458.0" r="6.1" fill="#626262"/>
<circle cx="1024.4" cy="1424.7" r="6.0" fill="#b3b3b3"/>
<circle cx="1018.2" cy="1387.2" r="6.1" fill="#626262"/>
<circle cx="1024.4" cy="1349.7" r="6.0" fill="#b3b3b3"/>
<circle cx="1042.5" cy="1316.4" r="6.1" fill="#626262"/>
<circle cx="1070.0" cy="1291.0" r="6.0" fill="#b3b3b3"/>
<circle cx="1103.7" cy="1275.9" r="6.1" fill="#626262"/>
<circle cx="1261.2" cy="1325.4" r="5.5" fill="#fff" stroke="#b0b0b0" stroke-width="0.9"/>
<circle cx="1275.1" cy="1365.8" r="5.5" fill="#fff" stroke="#b0b0b0" stroke-width="0.9"/>
<circle cx="1261.2" cy="1449.0" r="5.5" fill="#fff" stroke="#b0b0b0" stroke-width="0.9"/>
<circle cx="1235.1" cy="1482.4" r="5.5" fill="#fff" stroke="#b0b0b0" stroke-width="0.9"/>
<circle cx="1200.1" cy="1505.4" r="5.5" fill="#fff" stroke="#b0b0b0" stroke-width="0.9"/>
<circle cx="1160.3" cy="1516.2" r="5.5" fill="#fff" stroke="#b0b0b0" stroke-width="0.9"/>
<circle cx="1119.5" cy="1516.2" r="5.5" fill="#fff" stroke="#b0b0b0" stroke-width="0.9"/>
<circle cx="1079.7" cy="1505.4" r="5.5" fill="#fff" stroke="#b0b0b0" stroke-width="0.9"/>
<circle cx="1044.7" cy="1482.4" r="5.5" fill="#fff" stroke="#b0b0b0" stroke-width="0.9"/>
<circle cx="1018.6" cy="1449.0" r="5.5" fill="#fff" stroke="#b0b0b0" stroke-width="0.9"/>
<circle cx="1004.7" cy="1365.8" r="5.5" fill="#fff" stroke="#b0b0b0" stroke-width="0.9"/>
<circle cx="1018.6" cy="1325.4" r="5.5" fill="#fff" stroke="#b0b0b0" stroke-width="0.9"/>
<circle cx="1139.9" cy="1243.2" r="6.0" fill="#b3b3b3"/>
<circle cx="1261.6" cy="1298.7" r="6.0" fill="#b3b3b3"/>
<circle cx="1284.2" cy="1340.3" r="6.0" fill="#b3b3b3"/>
<circle cx="1292.1" cy="1387.2" r="6.0" fill="#b3b3b3"/>
<circle cx="1261.6" cy="1475.7" r="6.0" fill="#b3b3b3"/>
<circle cx="1227.2" cy="1507.4" r="6.0" fill="#b3b3b3"/>
<circle cx="1185.1" cy="1526.3" r="6.0" fill="#b3b3b3"/>
<circle cx="1139.9" cy="1531.2" r="6.0" fill="#b3b3b3"/>
<circle cx="1094.7" cy="1526.3" r="6.0" fill="#b3b3b3"/>
<circle cx="1052.6" cy="1507.4" r="6.0" fill="#b3b3b3"/>
<circle cx="1018.2" cy="1475.7" r="6.0" fill="#b3b3b3"/>
<circle cx="987.7" cy="1387.2" r="6.0" fill="#b3b3b3"/>
<circle cx="995.6" cy="1340.3" r="6.0" fill="#b3b3b3"/>
<circle cx="1018.2" cy="1298.7" r="6.0" fill="#b3b3b3"/>
<g font-size="3.6" text-anchor="middle" style="font-family:'Liberation Sans',sans-serif">
<text x="1065.9" y="1323.4" fill="#e6e6e6">F5</text>
<text x="1090.4" y="1326.9" fill="#d8d8d8">F3</text>
<text x="1115.4" y="1329.3" fill="#e6e6e6">F1</text>
<text x="1139.9" y="1330.9" fill="#d8d8d8">Fz</text>
<text x="1164.4" y="1329.3" fill="#e6e6e6">F2</text>
<text x="1189.4" y="1326.9" fill="#d8d8d8">F4</text>
<text x="1213.9" y="1323.4" fill="#e6e6e6">F6</text>
<text x="1053.0" y="1354.9" fill="#e6e6e6">FC5</text>
<text x="1082.0" y="1357.0" fill="#e6e6e6">FC3</text>
<text x="1111.2" y="1358.3" fill="#e6e6e6">FC1</text>
<text x="1139.9" y="1359.7" fill="#e6e6e6">FCz</text>
<text x="1168.6" y="1358.3" fill="#e6e6e6">FC2</text>
<text x="1197.8" y="1357.0" fill="#e6e6e6">FC4</text>
<text x="1226.8" y="1354.9" fill="#e6e6e6">FC6</text>
<text x="1048.6" y="1388.5" fill="#e6e6e6">C5</text>
<text x="1079.0" y="1388.5" fill="#d8d8d8">C3</text>
<text x="1109.5" y="1388.5" fill="#e6e6e6">C1</text>
<text x="1139.9" y="1388.5" fill="#d8d8d8">Cz</text>
<text x="1170.3" y="1388.5" fill="#e6e6e6">C2</text>
<text x="1200.8" y="1388.5" fill="#d8d8d8">C4</text>
<text x="1231.2" y="1388.5" fill="#e6e6e6">C6</text>
<text x="1053.0" y="1422.1" fill="#e6e6e6">CP5</text>
<text x="1082.0" y="1420.0" fill="#e6e6e6">CP3</text>
<text x="1111.2" y="1418.7" fill="#e6e6e6">CP1</text>
<text x="1139.9" y="1417.3" fill="#e6e6e6">CPz</text>
<text x="1168.6" y="1418.7" fill="#e6e6e6">CP2</text>
<text x="1197.8" y="1420.0" fill="#e6e6e6">CP4</text>
<text x="1226.8" y="1422.1" fill="#e6e6e6">CP6</text>
<text x="1065.9" y="1453.6" fill="#e6e6e6">P5</text>
<text x="1090.4" y="1450.1" fill="#d8d8d8">P3</text>
<text x="1115.4" y="1447.7" fill="#e6e6e6">P1</text>
<text x="1139.9" y="1446.1" fill="#d8d8d8">Pz</text>
<text x="1164.4" y="1447.7" fill="#e6e6e6">P2</text>
<text x="1189.4" y="1450.1" fill="#d8d8d8">P4</text>
<text x="1213.9" y="1453.6" fill="#e6e6e6">P6</text>
<text x="1065.1" y="1306.8" fill="#aaaaaa">AFF7h</text>
<text x="1085.9" y="1311.1" fill="#aaaaaa">AFF5h</text>
<text x="1107.5" y="1314.0" fill="#aaaaaa">AFF3h</text>
<text x="1129.2" y="1315.9" fill="#aaaaaa">AFF1h</text>
<text x="1150.6" y="1315.9" fill="#aaaaaa">AFF2h</text>
<text x="1172.3" y="1314.0" fill="#aaaaaa">AFF4h</text>
<text x="1193.9" y="1311.1" fill="#aaaaaa">AFF6h</text>
<text x="1214.7" y="1306.8" fill="#aaaaaa">AFF8h</text>
<text x="1045.1" y="1336.5" fill="#aaaaaa">FFC7h</text>
<text x="1071.9" y="1340.4" fill="#aaaaaa">FFC5h</text>
<text x="1099.3" y="1342.8" fill="#aaaaaa">FFC3h</text>
<text x="1126.6" y="1344.6" fill="#aaaaaa">FFC1h</text>
<text x="1153.2" y="1344.6" fill="#aaaaaa">FFC2h</text>
<text x="1180.5" y="1342.8" fill="#aaaaaa">FFC4h</text>
<text x="1207.9" y="1340.4" fill="#aaaaaa">FFC6h</text>
<text x="1234.7" y="1336.5" fill="#aaaaaa">FFC8h</text>
<text x="1034.7" y="1370.7" fill="#aaaaaa">FCC7h</text>
<text x="1064.7" y="1372.2" fill="#aaaaaa">FCC5h</text>
<text x="1094.9" y="1373.0" fill="#aaaaaa">FCC3h</text>
<text x="1125.1" y="1373.5" fill="#aaaaaa">FCC1h</text>
<text x="1154.7" y="1373.5" fill="#aaaaaa">FCC2h</text>
<text x="1184.9" y="1373.0" fill="#aaaaaa">FCC4h</text>
<text x="1215.1" y="1372.2" fill="#aaaaaa">FCC6h</text>
<text x="1245.1" y="1370.7" fill="#aaaaaa">FCC8h</text>
<text x="1034.7" y="1406.3" fill="#aaaaaa">CCP7h</text>
<text x="1064.7" y="1404.8" fill="#aaaaaa">CCP5h</text>
<text x="1094.9" y="1404.0" fill="#aaaaaa">CCP3h</text>
<text x="1125.1" y="1403.5" fill="#aaaaaa">CCP1h</text>
<text x="1154.7" y="1403.5" fill="#aaaaaa">CCP2h</text>
<text x="1184.9" y="1404.0" fill="#aaaaaa">CCP4h</text>
<text x="1215.1" y="1404.8" fill="#aaaaaa">CCP6h</text>
<text x="1245.1" y="1406.3" fill="#aaaaaa">CCP8h</text>
<text x="1045.1" y="1440.5" fill="#aaaaaa">CPP7h</text>
<text x="1071.9" y="1436.6" fill="#aaaaaa">CPP5h</text>
<text x="1099.3" y="1434.2" fill="#aaaaaa">CPP3h</text>
<text x="1126.6" y="1432.4" fill="#aaaaaa">CPP1h</text>
<text x="1153.2" y="1432.4" fill="#aaaaaa">CPP2h</text>
<text x="1180.5" y="1434.2" fill="#aaaaaa">CPP4h</text>
<text x="1207.9" y="1436.6" fill="#aaaaaa">CPP6h</text>
<text x="1234.7" y="1440.5" fill="#aaaaaa">CPP8h</text>
<text x="1065.1" y="1470.2" fill="#aaaaaa">PPO7h</text>
<text x="1085.9" y="1465.9" fill="#aaaaaa">PPO5h</text>
<text x="1107.5" y="1463.0" fill="#aaaaaa">PPO3h</text>
<text x="1129.2" y="1461.1" fill="#aaaaaa">PPO1h</text>
<text x="1150.6" y="1461.1" fill="#aaaaaa">PPO2h</text>
<text x="1172.3" y="1463.0" fill="#aaaaaa">PPO4h</text>
<text x="1193.9" y="1465.9" fill="#aaaaaa">PPO6h</text>
<text x="1214.7" y="1470.2" fill="#aaaaaa">PPO8h</text>
<text x="1095.4" y="1297.7" fill="#aaaaaa">AF5h</text>
<text x="1113.2" y="1300.0" fill="#aaaaaa">AF3h</text>
<text x="1139.9" y="1302.1" fill="#e6e6e6">AFz</text>
<text x="1166.6" y="1300.0" fill="#aaaaaa">AF4h</text>
<text x="1184.4" y="1297.7" fill="#aaaaaa">AF6h</text>
<text x="1095.4" y="1479.3" fill="#aaaaaa">PO5h</text>
<text x="1113.2" y="1477.0" fill="#aaaaaa">PO3h</text>
<text x="1139.9" y="1474.9" fill="#e6e6e6">POz</text>
<text x="1166.6" y="1477.0" fill="#aaaaaa">PO4h</text>
<text x="1184.4" y="1479.3" fill="#aaaaaa">PO6h</text>
<text x="1113.0" y="1286.0" fill="#aaaaaa">AFp3</text>
<text x="1166.8" y="1286.0" fill="#aaaaaa">AFp4</text>
<text x="1113.0" y="1491.0" fill="#aaaaaa">POO3</text>
<text x="1166.8" y="1491.0" fill="#aaaaaa">POO4</text>
<text x="1139.9" y="1273.3" fill="#d8d8d8">Fpz</text>
<text x="1176.1" y="1277.2" fill="#d8d8d8">Fp2</text>
<text x="1209.8" y="1292.3" fill="#e6e6e6">AF8</text>
<text x="1237.3" y="1317.7" fill="#d8d8d8">F8</text>
<text x="1255.4" y="1351.0" fill="#e6e6e6">FT8</text>
<text x="1261.7" y="1388.5" fill="#d8d8d8">T8</text>
<text x="1255.4" y="1426.0" fill="#e6e6e6">TP8</text>
<text x="1237.3" y="1459.3" fill="#d8d8d8">P8</text>
<text x="1209.8" y="1484.7" fill="#e6e6e6">PO8</text>
<text x="1176.1" y="1499.8" fill="#d8d8d8">O2</text>
<text x="1139.9" y="1503.7" fill="#d8d8d8">Oz</text>
<text x="1103.7" y="1499.8" fill="#d8d8d8">O1</text>
<text x="1070.0" y="1484.7" fill="#e6e6e6">PO7</text>
<text x="1042.5" y="1459.3" fill="#d8d8d8">P7</text>
<text x="1024.4" y="1426.0" fill="#e6e6e6">TP7</text>
<text x="1018.2" y="1388.5" fill="#d8d8d8">T7</text>
<text x="1024.4" y="1351.0" fill="#e6e6e6">FT7</text>
<text x="1042.5" y="1317.7" fill="#d8d8d8">F7</text>
<text x="1070.0" y="1292.3" fill="#e6e6e6">AF7</text>
<text x="1103.7" y="1277.2" fill="#d8d8d8">Fp1</text>
<text x="1261.2" y="1326.7" fill="#aaaaaa">FFT10h</text>
<text x="1275.1" y="1367.1" fill="#aaaaaa">FTT10h</text>
<text x="1261.2" y="1450.3" fill="#aaaaaa">TPP10h</text>
<text x="1235.1" y="1483.7" fill="#aaaaaa">PPO10h</text>
<text x="1200.1" y="1506.7" fill="#aaaaaa">POO10h</text>
<text x="1160.3" y="1517.5" fill="#aaaaaa">OI2h</text>
<text x="1119.5" y="1517.5" fill="#aaaaaa">OI1h</text>
<text x="1079.7" y="1506.7" fill="#aaaaaa">POO9h</text>
<text x="1044.7" y="1483.7" fill="#aaaaaa">PPO9h</text>
<text x="1018.6" y="1450.3" fill="#aaaaaa">TPP9h</text>
<text x="1004.7" y="1367.1" fill="#aaaaaa">FTT9h</text>
<text x="1018.6" y="1326.7" fill="#aaaaaa">FFT9h</text>
<text x="1139.9" y="1244.5" fill="#e6e6e6">Nz</text>
<text x="1261.6" y="1300.0" fill="#e6e6e6">F10</text>
<text x="1284.2" y="1341.6" fill="#e6e6e6">FT10</text>
<text x="1292.1" y="1388.5" fill="#e6e6e6">T10</text>
<text x="1261.6" y="1477.0" fill="#e6e6e6">P10</text>
<text x="1227.2" y="1508.7" fill="#e6e6e6">PO10</text>
<text x="1185.1" y="1527.6" fill="#e6e6e6">I2</text>
<text x="1139.9" y="1532.5" fill="#e6e6e6">Iz</text>
<text x="1094.7" y="1527.6" fill="#e6e6e6">I1</text>
<text x="1052.6" y="1508.7" fill="#e6e6e6">PO9</text>
<text x="1018.2" y="1477.0" fill="#e6e6e6">P9</text>
<text x="987.7" y="1388.5" fill="#e6e6e6">T9</text>
<text x="995.6" y="1341.6" fill="#e6e6e6">FT9</text>
<text x="1018.2" y="1300.0" fill="#e6e6e6">F9</text>
</g>
<circle cx="1176.1" cy="1275.9" r="10.3" fill="#ff2222"/><circle cx="1176.1" cy="1275.9" r="7.3" fill="#e02525" stroke="#f24444" stroke-width="1.2"/>
<text x="1160.8" y="1267.7" font-size="12.5" font-weight="bold" style="font-family:'DejaVu Sans',sans-serif" fill="#e5707a" stroke="#c0646c" stroke-width="0.35">1</text>
<circle cx="1103.7" cy="1275.9" r="9.45" fill="none" stroke="#f87474" stroke-width="2.1"/>
<text x="1088.4" y="1267.7" font-size="12.5" font-weight="bold" style="font-family:'DejaVu Sans',sans-serif" fill="#e5707a" stroke="#c0646c" stroke-width="0.35">2</text>
<circle cx="1237.3" cy="1316.4" r="9.45" fill="none" stroke="#f87474" stroke-width="2.1"/>
<text x="1222.0" y="1308.2" font-size="12.5" font-weight="bold" style="font-family:'DejaVu Sans',sans-serif" fill="#e5707a" stroke="#c0646c" stroke-width="0.35">3</text>
<circle cx="1189.4" cy="1325.6" r="10.3" fill="#ff2222"/><circle cx="1189.4" cy="1325.6" r="7.3" fill="#e02525" stroke="#f24444" stroke-width="1.2"/>
<text x="1174.1" y="1317.4" font-size="12.5" font-weight="bold" style="font-family:'DejaVu Sans',sans-serif" fill="#e5707a" stroke="#c0646c" stroke-width="0.35">4</text>
<circle cx="1139.9" cy="1329.6" r="9.45" fill="none" stroke="#f87474" stroke-width="2.1"/>
<text x="1124.6" y="1321.4" font-size="12.5" font-weight="bold" style="font-family:'DejaVu Sans',sans-serif" fill="#e5707a" stroke="#c0646c" stroke-width="0.35">5</text>
<circle cx="1090.4" cy="1325.6" r="9.45" fill="none" stroke="#f87474" stroke-width="2.1"/>
<text x="1075.1" y="1317.4" font-size="12.5" font-weight="bold" style="font-family:'DejaVu Sans',sans-serif" fill="#e5707a" stroke="#c0646c" stroke-width="0.35">6</text>
<circle cx="1042.5" cy="1316.4" r="9.45" fill="none" stroke="#f87474" stroke-width="2.1"/>
<text x="1027.2" y="1308.2" font-size="12.5" font-weight="bold" style="font-family:'DejaVu Sans',sans-serif" fill="#e5707a" stroke="#c0646c" stroke-width="0.35">7</text>
<circle cx="1226.8" cy="1353.6" r="9.45" fill="none" stroke="#f87474" stroke-width="2.1"/>
<text x="1211.5" y="1345.4" font-size="12.5" font-weight="bold" style="font-family:'DejaVu Sans',sans-serif" fill="#e5707a" stroke="#c0646c" stroke-width="0.35">8</text>
<circle cx="1168.6" cy="1357.0" r="9.45" fill="none" stroke="#f87474" stroke-width="2.1"/>
<text x="1153.3" y="1348.8" font-size="12.5" font-weight="bold" style="font-family:'DejaVu Sans',sans-serif" fill="#e5707a" stroke="#c0646c" stroke-width="0.35">9</text>
<circle cx="1111.2" cy="1357.0" r="9.45" fill="none" stroke="#f87474" stroke-width="2.1"/>
<text x="1095.9" y="1348.8" font-size="12.5" font-weight="bold" style="font-family:'DejaVu Sans',sans-serif" fill="#e5707a" stroke="#c0646c" stroke-width="0.35">10</text>
<circle cx="1053.0" cy="1353.6" r="9.45" fill="none" stroke="#f87474" stroke-width="2.1"/>
<text x="1037.7" y="1345.4" font-size="12.5" font-weight="bold" style="font-family:'DejaVu Sans',sans-serif" fill="#e5707a" stroke="#c0646c" stroke-width="0.35">11</text>
<circle cx="1261.7" cy="1387.2" r="9.45" fill="none" stroke="#f87474" stroke-width="2.1"/>
<text x="1246.4" y="1379.0" font-size="12.5" font-weight="bold" style="font-family:'DejaVu Sans',sans-serif" fill="#e5707a" stroke="#c0646c" stroke-width="0.35">12</text>
<circle cx="1200.8" cy="1387.2" r="9.45" fill="none" stroke="#f87474" stroke-width="2.1"/>
<text x="1185.5" y="1379.0" font-size="12.5" font-weight="bold" style="font-family:'DejaVu Sans',sans-serif" fill="#e5707a" stroke="#c0646c" stroke-width="0.35">13</text>
<circle cx="1139.9" cy="1387.2" r="9.45" fill="none" stroke="#f87474" stroke-width="2.1"/>
<text x="1124.6" y="1379.0" font-size="12.5" font-weight="bold" style="font-family:'DejaVu Sans',sans-serif" fill="#e5707a" stroke="#c0646c" stroke-width="0.35">14</text>
<circle cx="1079.0" cy="1387.2" r="9.45" fill="none" stroke="#f87474" stroke-width="2.1"/>
<text x="1063.7" y="1379.0" font-size="12.5" font-weight="bold" style="font-family:'DejaVu Sans',sans-serif" fill="#e5707a" stroke="#c0646c" stroke-width="0.35">15</text>
<circle cx="1018.2" cy="1387.2" r="9.45" fill="none" stroke="#f87474" stroke-width="2.1"/>
<text x="1002.9" y="1379.0" font-size="12.5" font-weight="bold" style="font-family:'DejaVu Sans',sans-serif" fill="#e5707a" stroke="#c0646c" stroke-width="0.35">16</text>
<circle cx="1284.2" cy="1434.1" r="9.45" fill="none" stroke="#f87474" stroke-width="2.1"/>
<text x="1268.9" y="1425.9" font-size="12.5" font-weight="bold" style="font-family:'DejaVu Sans',sans-serif" fill="#e5707a" stroke="#c0646c" stroke-width="0.35">17</text>
<circle cx="1226.8" cy="1420.8" r="9.45" fill="none" stroke="#f87474" stroke-width="2.1"/>
<text x="1211.5" y="1412.6" font-size="12.5" font-weight="bold" style="font-family:'DejaVu Sans',sans-serif" fill="#e5707a" stroke="#c0646c" stroke-width="0.35">18</text>
<circle cx="1168.6" cy="1417.4" r="9.45" fill="none" stroke="#f87474" stroke-width="2.1"/>
<text x="1153.3" y="1409.2" font-size="12.5" font-weight="bold" style="font-family:'DejaVu Sans',sans-serif" fill="#e5707a" stroke="#c0646c" stroke-width="0.35">19</text>
<circle cx="1111.2" cy="1417.4" r="9.45" fill="none" stroke="#f87474" stroke-width="2.1"/>
<text x="1095.9" y="1409.2" font-size="12.5" font-weight="bold" style="font-family:'DejaVu Sans',sans-serif" fill="#e5707a" stroke="#c0646c" stroke-width="0.35">20</text>
<circle cx="1053.0" cy="1420.8" r="9.45" fill="none" stroke="#f87474" stroke-width="2.1"/>
<text x="1037.7" y="1412.6" font-size="12.5" font-weight="bold" style="font-family:'DejaVu Sans',sans-serif" fill="#e5707a" stroke="#c0646c" stroke-width="0.35">21</text>
<circle cx="995.6" cy="1434.1" r="9.45" fill="none" stroke="#f87474" stroke-width="2.1"/>
<text x="980.3" y="1425.9" font-size="12.5" font-weight="bold" style="font-family:'DejaVu Sans',sans-serif" fill="#e5707a" stroke="#c0646c" stroke-width="0.35">22</text>
<circle cx="1189.4" cy="1448.8" r="9.45" fill="none" stroke="#f87474" stroke-width="2.1"/>
<text x="1174.1" y="1440.6" font-size="12.5" font-weight="bold" style="font-family:'DejaVu Sans',sans-serif" fill="#e5707a" stroke="#c0646c" stroke-width="0.35">23</text>
<circle cx="1139.9" cy="1444.8" r="9.45" fill="none" stroke="#f87474" stroke-width="2.1"/>
<text x="1124.6" y="1436.6" font-size="12.5" font-weight="bold" style="font-family:'DejaVu Sans',sans-serif" fill="#e5707a" stroke="#c0646c" stroke-width="0.35">24</text>
<circle cx="1090.4" cy="1448.8" r="9.45" fill="none" stroke="#f87474" stroke-width="2.1"/>
<text x="1075.1" y="1440.6" font-size="12.5" font-weight="bold" style="font-family:'DejaVu Sans',sans-serif" fill="#e5707a" stroke="#c0646c" stroke-width="0.35">25</text>
<circle cx="1237.3" cy="1458.0" r="9.45" fill="none" stroke="#f87474" stroke-width="2.1"/>
<text x="1222.0" y="1449.8" font-size="12.5" font-weight="bold" style="font-family:'DejaVu Sans',sans-serif" fill="#e5707a" stroke="#c0646c" stroke-width="0.35">26</text>
<circle cx="1166.6" cy="1475.7" r="9.45" fill="none" stroke="#f87474" stroke-width="2.1"/>
<text x="1151.3" y="1467.5" font-size="12.5" font-weight="bold" style="font-family:'DejaVu Sans',sans-serif" fill="#e5707a" stroke="#c0646c" stroke-width="0.35">27</text>
<circle cx="1113.2" cy="1475.7" r="9.45" fill="none" stroke="#f87474" stroke-width="2.1"/>
<text x="1097.9" y="1467.5" font-size="12.5" font-weight="bold" style="font-family:'DejaVu Sans',sans-serif" fill="#e5707a" stroke="#c0646c" stroke-width="0.35">28</text>
<circle cx="1042.5" cy="1458.0" r="9.45" fill="none" stroke="#f87474" stroke-width="2.1"/>
<text x="1027.2" y="1449.8" font-size="12.5" font-weight="bold" style="font-family:'DejaVu Sans',sans-serif" fill="#e5707a" stroke="#c0646c" stroke-width="0.35">29</text>
<circle cx="1185.1" cy="1526.3" r="9.45" fill="none" stroke="#f87474" stroke-width="2.1"/>
<text x="1169.8" y="1518.1" font-size="12.5" font-weight="bold" style="font-family:'DejaVu Sans',sans-serif" fill="#e5707a" stroke="#c0646c" stroke-width="0.35">30</text>
<circle cx="1094.7" cy="1526.3" r="9.45" fill="none" stroke="#f87474" stroke-width="2.1"/>
<text x="1079.4" y="1518.1" font-size="12.5" font-weight="bold" style="font-family:'DejaVu Sans',sans-serif" fill="#e5707a" stroke="#c0646c" stroke-width="0.35">31</text>
<circle cx="1139.9" cy="1502.4" r="9.45" fill="none" stroke="#f87474" stroke-width="2.1"/>
<text x="1124.6" y="1494.2" font-size="12.5" font-weight="bold" style="font-family:'DejaVu Sans',sans-serif" fill="#e5707a" stroke="#c0646c" stroke-width="0.35">32</text>
<g fill="none" stroke="#b4b4b4" stroke-width="1.2">
<path d="M1550.2,1243.2 L1557.8,1243.1 L1565.3,1243.3 L1572.9,1243.9 L1580.4,1244.9 L1587.9,1246.3 L1595.4,1248.1 L1602.8,1250.3 L1610.0,1252.9 L1617.1,1255.8 L1624.1,1259.2 L1630.9,1262.9 L1637.5,1267.0 L1643.9,1271.5 L1650.1,1276.3 L1656.0,1281.4 L1661.6,1286.9 L1666.9,1292.7 L1671.9,1298.7 L1676.6,1305.1 L1681.0,1311.7 L1684.9,1318.6 L1688.5,1325.6 L1691.7,1332.9 L1694.5,1340.3 L1696.9,1347.9 L1698.9,1355.6 L1700.4,1363.4 L1701.5,1371.3 L1702.2,1379.2 L1702.4,1387.2 L1702.2,1395.2 L1701.5,1403.1 L1700.4,1411.0 L1698.9,1418.8 L1696.9,1426.5 L1694.5,1434.1 L1691.7,1441.5 L1688.5,1448.8 L1684.9,1455.8 L1681.0,1462.7 L1676.6,1469.3 L1671.9,1475.7 L1666.9,1481.7 L1661.6,1487.5 L1656.0,1493.0 L1650.1,1498.1 L1643.9,1502.9 L1637.5,1507.4 L1630.9,1511.5 L1624.1,1515.2 L1617.1,1518.6 L1610.0,1521.5 L1602.8,1524.1 L1595.4,1526.3 L1587.9,1528.1 L1580.4,1529.5 L1572.9,1530.5 L1565.3,1531.1 L1557.8,1531.3 L1550.2,1531.2 L1542.6,1531.3 L1535.1,1531.1 L1527.5,1530.5 L1520.0,1529.5 L1512.5,1528.1 L1505.0,1526.3 L1497.6,1524.1 L1490.4,1521.5 L1483.3,1518.6 L1476.3,1515.2 L1469.5,1511.5 L1462.9,1507.4 L1456.5,1502.9 L1450.3,1498.1 L1444.4,1493.0 L1438.8,1487.5 L1433.5,1481.7 L1428.5,1475.7 L1423.8,1469.3 L1419.4,1462.7 L1415.5,1455.8 L1411.9,1448.8 L1408.7,1441.5 L1405.9,1434.1 L1403.5,1426.5 L1401.5,1418.8 L1400.0,1411.0 L1398.9,1403.1 L1398.2,1395.2 L1398.0,1387.2 L1398.2,1379.2 L1398.9,1371.3 L1400.0,1363.4 L1401.5,1355.6 L1403.5,1347.9 L1405.9,1340.3 L1408.7,1332.9 L1411.9,1325.6 L1415.5,1318.6 L1419.4,1311.7 L1423.8,1305.1 L1428.5,1298.7 L1433.5,1292.7 L1438.8,1286.9 L1444.4,1281.4 L1450.3,1276.3 L1456.5,1271.5 L1462.9,1267.0 L1469.5,1262.9 L1476.3,1259.2 L1483.3,1255.8 L1490.4,1252.9 L1497.6,1250.3 L1505.0,1248.1 L1512.5,1246.3 L1520.0,1244.9 L1527.5,1243.9 L1535.1,1243.3 L1542.6,1243.1 L1550.2,1243.2Z"/>
<path d="M1550.2,1272.0 L1556.2,1271.9 L1562.3,1272.1 L1568.4,1272.6 L1574.4,1273.4 L1580.4,1274.5 L1586.4,1275.9 L1592.2,1277.7 L1598.0,1279.7 L1603.7,1282.1 L1609.3,1284.8 L1614.8,1287.8 L1620.1,1291.0 L1625.2,1294.6 L1630.1,1298.5 L1634.8,1302.6 L1639.3,1307.0 L1643.6,1311.6 L1647.6,1316.4 L1651.3,1321.5 L1654.8,1326.8 L1658.0,1332.3 L1660.9,1337.9 L1663.4,1343.7 L1665.7,1349.7 L1667.6,1355.8 L1669.1,1361.9 L1670.4,1368.2 L1671.2,1374.5 L1671.8,1380.8 L1672.0,1387.2 L1671.8,1393.6 L1671.2,1399.9 L1670.4,1406.2 L1669.1,1412.5 L1667.6,1418.6 L1665.7,1424.7 L1663.4,1430.7 L1660.9,1436.5 L1658.0,1442.1 L1654.8,1447.6 L1651.3,1452.9 L1647.6,1458.0 L1643.6,1462.8 L1639.3,1467.4 L1634.8,1471.8 L1630.1,1475.9 L1625.2,1479.8 L1620.1,1483.4 L1614.8,1486.6 L1609.3,1489.6 L1603.7,1492.3 L1598.0,1494.7 L1592.2,1496.7 L1586.4,1498.5 L1580.4,1499.9 L1574.4,1501.0 L1568.4,1501.8 L1562.3,1502.3 L1556.2,1502.5 L1550.2,1502.4 L1544.2,1502.5 L1538.1,1502.3 L1532.0,1501.8 L1526.0,1501.0 L1520.0,1499.9 L1514.0,1498.5 L1508.2,1496.7 L1502.4,1494.7 L1496.7,1492.3 L1491.1,1489.6 L1485.6,1486.6 L1480.3,1483.4 L1475.2,1479.8 L1470.3,1475.9 L1465.6,1471.8 L1461.1,1467.4 L1456.8,1462.8 L1452.8,1458.0 L1449.1,1452.9 L1445.6,1447.6 L1442.4,1442.1 L1439.5,1436.5 L1437.0,1430.7 L1434.7,1424.7 L1432.8,1418.6 L1431.3,1412.5 L1430.0,1406.2 L1429.2,1399.9 L1428.6,1393.6 L1428.5,1387.2 L1428.6,1380.8 L1429.2,1374.5 L1430.0,1368.2 L1431.3,1361.9 L1432.8,1355.8 L1434.7,1349.7 L1437.0,1343.7 L1439.5,1337.9 L1442.4,1332.3 L1445.6,1326.8 L1449.1,1321.5 L1452.8,1316.4 L1456.8,1311.6 L1461.1,1307.0 L1465.6,1302.6 L1470.3,1298.5 L1475.2,1294.6 L1480.3,1291.0 L1485.6,1287.8 L1491.1,1284.8 L1496.7,1282.1 L1502.4,1279.7 L1508.2,1277.7 L1514.0,1275.9 L1520.0,1274.5 L1526.0,1273.4 L1532.0,1272.6 L1538.1,1272.1 L1544.2,1271.9 L1550.2,1272.0Z"/>
<line x1="1550.2" y1="1243.2" x2="1550.2" y2="1531.2"/>
<path d="M1522.3,1243.6 C1532.2,1229.2 1540.2,1218.7 1550.0,1218.9 C1560.2,1218.7 1569.2,1229.2 1579.7,1243.6"/>
<path d="M1395.7,1381.7 C1384.2,1381.2 1385.2,1417.2 1390.2,1421.2 C1394.2,1424.2 1398.2,1422.2 1400.2,1420.2"/>
<path d="M1704.7,1381.7 C1716.2,1381.2 1715.2,1417.2 1710.2,1421.2 C1706.2,1424.2 1702.2,1422.2 1700.2,1420.2"/>
<path d="M1694.3,1339.4 Q1683.2,1323.7 1670.9,1323.8 C1660.2,1323.7 1654.2,1342.2 1653.7,1362.2 C1653.2,1379.2 1646.2,1395.2 1638.6,1407.4"/>
<path d="M1406.1,1339.4 Q1417.2,1323.7 1429.5,1323.8 C1440.2,1323.7 1446.2,1342.2 1446.7,1362.2 C1447.2,1379.2 1454.2,1395.2 1461.8,1407.4"/>
<path d="M1459.6,1370.2 C1490.2,1377.2 1525.2,1392.2 1550.2,1416.2 C1575.2,1392.2 1610.2,1377.2 1640.8,1370.2"/>
</g>
<path d="M1464.3,1319.6h0M1488.4,1324.1h0M1513.2,1326.9h0M1538.0,1328.9h0M1562.4,1328.9h0M1587.2,1326.9h0M1612.0,1324.1h0M1636.1,1319.6h0M1448.9,1351.9h0M1477.7,1354.8h0M1506.9,1356.4h0M1536.1,1357.7h0M1564.3,1357.7h0M1593.5,1356.4h0M1622.7,1354.8h0M1651.5,1351.9h0M1443.7,1387.2h0M1474.1,1387.2h0M1504.5,1387.2h0M1535.0,1387.2h0M1565.4,1387.2h0M1595.9,1387.2h0M1626.3,1387.2h0M1656.7,1387.2h0M1448.9,1422.5h0M1477.7,1419.6h0M1506.9,1418.0h0M1536.1,1416.7h0M1564.3,1416.7h0M1593.5,1418.0h0M1622.7,1419.6h0M1651.5,1422.5h0M1464.3,1454.8h0M1488.4,1450.3h0M1513.2,1447.5h0M1538.0,1445.5h0M1562.4,1445.5h0M1587.2,1447.5h0M1612.0,1450.3h0M1636.1,1454.8h0M1485.7,1307.9h0M1507.0,1311.4h0M1528.7,1313.7h0M1550.2,1315.2h0M1571.7,1313.7h0M1593.4,1311.4h0M1614.7,1307.9h0M1468.7,1337.4h0M1495.8,1340.4h0M1523.3,1342.4h0M1550.2,1344.0h0M1577.1,1342.4h0M1604.6,1340.4h0M1631.7,1337.4h0M1460.0,1370.2h0M1490.1,1371.3h0M1520.3,1371.9h0M1550.2,1372.8h0M1580.1,1371.9h0M1610.3,1371.3h0M1640.4,1370.2h0M1460.0,1404.2h0M1490.1,1403.1h0M1520.3,1402.5h0M1550.2,1401.6h0M1580.1,1402.5h0M1610.3,1403.1h0M1640.4,1404.2h0M1468.7,1437.0h0M1495.8,1434.0h0M1523.3,1432.0h0M1550.2,1430.4h0M1577.1,1432.0h0M1604.6,1434.0h0M1631.7,1437.0h0M1485.7,1466.5h0M1507.0,1463.0h0M1528.7,1460.7h0M1550.2,1459.2h0M1571.7,1460.7h0M1593.4,1463.0h0M1614.7,1466.5h0M1488.5,1293.2h0M1497.0,1295.0h0M1514.6,1297.7h0M1532.4,1299.6h0M1541.3,1300.3h0M1559.1,1300.3h0M1568.0,1299.6h0M1585.8,1297.7h0M1603.4,1295.0h0M1611.9,1293.2h0M1488.5,1481.2h0M1497.0,1479.4h0M1514.6,1476.7h0M1532.4,1474.8h0M1541.3,1474.1h0M1559.1,1474.1h0M1568.0,1474.8h0M1585.8,1476.7h0M1603.4,1479.4h0M1611.9,1481.2h0M1509.9,1283.6h0M1536.8,1285.7h0M1550.2,1286.4h0M1563.6,1285.7h0M1590.5,1283.6h0M1509.9,1490.8h0M1536.8,1488.7h0M1550.2,1488.0h0M1563.6,1488.7h0M1590.5,1490.8h0M1568.4,1272.6h0M1603.7,1282.1h0M1634.8,1302.6h0M1658.0,1332.3h0M1670.4,1368.2h0M1670.4,1406.2h0M1658.0,1442.1h0M1634.8,1471.8h0M1603.7,1492.3h0M1568.4,1501.8h0M1532.0,1501.8h0M1496.7,1492.3h0M1465.6,1471.8h0M1442.4,1442.1h0M1430.0,1406.2h0M1430.0,1368.2h0M1442.4,1332.3h0M1465.6,1302.6h0M1496.7,1282.1h0M1532.0,1272.6h0M1610.4,1269.0h0M1628.8,1279.0h0M1645.4,1292.0h0M1659.8,1307.6h0M1680.1,1345.0h0M1687.2,1387.2h0M1685.4,1408.6h0M1680.1,1429.4h0M1659.8,1466.8h0M1628.8,1495.4h0M1590.9,1512.4h0M1550.2,1516.8h0M1509.5,1512.4h0M1471.6,1495.4h0M1440.6,1466.8h0M1420.3,1429.4h0M1415.0,1408.6h0M1413.2,1387.2h0M1420.3,1345.0h0M1440.6,1307.6h0M1455.0,1292.0h0M1471.6,1279.0h0M1490.0,1269.0h0M1617.1,1255.8h0M1637.5,1267.0h0M1656.0,1281.4h0M1684.9,1318.6h0M1700.4,1363.4h0M1700.4,1411.0h0M1694.5,1434.1h0M1684.9,1455.8h0M1656.0,1493.0h0M1617.1,1518.6h0M1572.9,1530.5h0M1527.5,1530.5h0M1483.3,1518.6h0M1444.4,1493.0h0M1415.5,1455.8h0M1405.9,1434.1h0M1400.0,1411.0h0M1400.0,1363.4h0M1415.5,1318.6h0M1444.4,1281.4h0M1462.9,1267.0h0M1483.3,1255.8h0" stroke="#5a5a5a" stroke-width="2.1" stroke-linecap="round"/>
<circle cx="1476.2" cy="1322.1" r="6.0" fill="#b3b3b3"/>
<circle cx="1500.7" cy="1325.6" r="6.1" fill="#626262"/>
<circle cx="1525.7" cy="1328.0" r="6.0" fill="#b3b3b3"/>
<circle cx="1550.2" cy="1329.6" r="6.1" fill="#626262"/>
<circle cx="1574.7" cy="1328.0" r="6.0" fill="#b3b3b3"/>
<circle cx="1599.7" cy="1325.6" r="6.1" fill="#626262"/>
<circle cx="1624.2" cy="1322.1" r="6.0" fill="#b3b3b3"/>
<circle cx="1463.3" cy="1353.6" r="6.0" fill="#b3b3b3"/>
<circle cx="1492.3" cy="1355.7" r="6.0" fill="#b3b3b3"/>
<circle cx="1521.5" cy="1357.0" r="6.0" fill="#b3b3b3"/>
<circle cx="1550.2" cy="1358.4" r="6.0" fill="#b3b3b3"/>
<circle cx="1578.9" cy="1357.0" r="6.0" fill="#b3b3b3"/>
<circle cx="1608.1" cy="1355.7" r="6.0" fill="#b3b3b3"/>
<circle cx="1637.1" cy="1353.6" r="6.0" fill="#b3b3b3"/>
<circle cx="1458.9" cy="1387.2" r="6.0" fill="#b3b3b3"/>
<circle cx="1489.3" cy="1387.2" r="6.1" fill="#626262"/>
<circle cx="1519.8" cy="1387.2" r="6.0" fill="#b3b3b3"/>
<circle cx="1550.2" cy="1387.2" r="6.1" fill="#626262"/>
<circle cx="1580.6" cy="1387.2" r="6.0" fill="#b3b3b3"/>
<circle cx="1611.1" cy="1387.2" r="6.1" fill="#626262"/>
<circle cx="1641.5" cy="1387.2" r="6.0" fill="#b3b3b3"/>
<circle cx="1463.3" cy="1420.8" r="6.0" fill="#b3b3b3"/>
<circle cx="1492.3" cy="1418.7" r="6.0" fill="#b3b3b3"/>
<circle cx="1521.5" cy="1417.4" r="6.0" fill="#b3b3b3"/>
<circle cx="1550.2" cy="1416.0" r="6.0" fill="#b3b3b3"/>
<circle cx="1578.9" cy="1417.4" r="6.0" fill="#b3b3b3"/>
<circle cx="1608.1" cy="1418.7" r="6.0" fill="#b3b3b3"/>
<circle cx="1637.1" cy="1420.8" r="6.0" fill="#b3b3b3"/>
<circle cx="1476.2" cy="1452.3" r="6.0" fill="#b3b3b3"/>
<circle cx="1500.7" cy="1448.8" r="6.1" fill="#626262"/>
<circle cx="1525.7" cy="1446.4" r="6.0" fill="#b3b3b3"/>
<circle cx="1550.2" cy="1444.8" r="6.1" fill="#626262"/>
<circle cx="1574.7" cy="1446.4" r="6.0" fill="#b3b3b3"/>
<circle cx="1599.7" cy="1448.8" r="6.1" fill="#626262"/>
<circle cx="1624.2" cy="1452.3" r="6.0" fill="#b3b3b3"/>
<circle cx="1475.4" cy="1305.5" r="5.5" fill="#fff" stroke="#b0b0b0" stroke-width="0.9"/>
<circle cx="1496.2" cy="1309.8" r="5.5" fill="#fff" stroke="#b0b0b0" stroke-width="0.9"/>
<circle cx="1517.8" cy="1312.7" r="5.5" fill="#fff" stroke="#b0b0b0" stroke-width="0.9"/>
<circle cx="1539.5" cy="1314.6" r="5.5" fill="#fff" stroke="#b0b0b0" stroke-width="0.9"/>
<circle cx="1560.9" cy="1314.6" r="5.5" fill="#fff" stroke="#b0b0b0" stroke-width="0.9"/>
<circle cx="1582.6" cy="1312.7" r="5.5" fill="#fff" stroke="#b0b0b0" stroke-width="0.9"/>
<circle cx="1604.2" cy="1309.8" r="5.5" fill="#fff" stroke="#b0b0b0" stroke-width="0.9"/>
<circle cx="1625.0" cy="1305.5" r="5.5" fill="#fff" stroke="#b0b0b0" stroke-width="0.9"/>
<circle cx="1455.4" cy="1335.2" r="5.5" fill="#fff" stroke="#b0b0b0" stroke-width="0.9"/>
<circle cx="1482.2" cy="1339.1" r="5.5" fill="#fff" stroke="#b0b0b0" stroke-width="0.9"/>
<circle cx="1509.6" cy="1341.5" r="5.5" fill="#fff" stroke="#b0b0b0" stroke-width="0.9"/>
<circle cx="1536.9" cy="1343.3" r="5.5" fill="#fff" stroke="#b0b0b0" stroke-width="0.9"/>
<circle cx="1563.5" cy="1343.3" r="5.5" fill="#fff" stroke="#b0b0b0" stroke-width="0.9"/>
<circle cx="1590.8" cy="1341.5" r="5.5" fill="#fff" stroke="#b0b0b0" stroke-width="0.9"/>
<circle cx="1618.2" cy="1339.1" r="5.5" fill="#fff" stroke="#b0b0b0" stroke-width="0.9"/>
<circle cx="1645.0" cy="1335.2" r="5.5" fill="#fff" stroke="#b0b0b0" stroke-width="0.9"/>
<circle cx="1445.0" cy="1369.4" r="5.5" fill="#fff" stroke="#b0b0b0" stroke-width="0.9"/>
<circle cx="1475.0" cy="1370.9" r="5.5" fill="#fff" stroke="#b0b0b0" stroke-width="0.9"/>
<circle cx="1505.2" cy="1371.7" r="5.5" fill="#fff" stroke="#b0b0b0" stroke-width="0.9"/>
<circle cx="1535.4" cy="1372.2" r="5.5" fill="#fff" stroke="#b0b0b0" stroke-width="0.9"/>
<circle cx="1565.0" cy="1372.2" r="5.5" fill="#fff" stroke="#b0b0b0" stroke-width="0.9"/>
<circle cx="1595.2" cy="1371.7" r="5.5" fill="#fff" stroke="#b0b0b0" stroke-width="0.9"/>
<circle cx="1625.4" cy="1370.9" r="5.5" fill="#fff" stroke="#b0b0b0" stroke-width="0.9"/>
<circle cx="1655.4" cy="1369.4" r="5.5" fill="#fff" stroke="#b0b0b0" stroke-width="0.9"/>
<circle cx="1445.0" cy="1405.0" r="5.5" fill="#fff" stroke="#b0b0b0" stroke-width="0.9"/>
<circle cx="1475.0" cy="1403.5" r="5.5" fill="#fff" stroke="#b0b0b0" stroke-width="0.9"/>
<circle cx="1505.2" cy="1402.7" r="5.5" fill="#fff" stroke="#b0b0b0" stroke-width="0.9"/>
<circle cx="1535.4" cy="1402.2" r="5.5" fill="#fff" stroke="#b0b0b0" stroke-width="0.9"/>
<circle cx="1565.0" cy="1402.2" r="5.5" fill="#fff" stroke="#b0b0b0" stroke-width="0.9"/>
<circle cx="1595.2" cy="1402.7" r="5.5" fill="#fff" stroke="#b0b0b0" stroke-width="0.9"/>
<circle cx="1625.4" cy="1403.5" r="5.5" fill="#fff" stroke="#b0b0b0" stroke-width="0.9"/>
<circle cx="1655.4" cy="1405.0" r="5.5" fill="#fff" stroke="#b0b0b0" stroke-width="0.9"/>
<circle cx="1455.4" cy="1439.2" r="5.5" fill="#fff" stroke="#b0b0b0" stroke-width="0.9"/>
<circle cx="1482.2" cy="1435.3" r="5.5" fill="#fff" stroke="#b0b0b0" stroke-width="0.9"/>
<circle cx="1509.6" cy="1432.9" r="5.5" fill="#fff" stroke="#b0b0b0" stroke-width="0.9"/>
<circle cx="1536.9" cy="1431.1" r="5.5" fill="#fff" stroke="#b0b0b0" stroke-width="0.9"/>
<circle cx="1563.5" cy="1431.1" r="5.5" fill="#fff" stroke="#b0b0b0" stroke-width="0.9"/>
<circle cx="1590.8" cy="1432.9" r="5.5" fill="#fff" stroke="#b0b0b0" stroke-width="0.9"/>
<circle cx="1618.2" cy="1435.3" r="5.5" fill="#fff" stroke="#b0b0b0" stroke-width="0.9"/>
<circle cx="1645.0" cy="1439.2" r="5.5" fill="#fff" stroke="#b0b0b0" stroke-width="0.9"/>
<circle cx="1475.4" cy="1468.9" r="5.5" fill="#fff" stroke="#b0b0b0" stroke-width="0.9"/>
<circle cx="1496.2" cy="1464.6" r="5.5" fill="#fff" stroke="#b0b0b0" stroke-width="0.9"/>
<circle cx="1517.8" cy="1461.7" r="5.5" fill="#fff" stroke="#b0b0b0" stroke-width="0.9"/>
<circle cx="1539.5" cy="1459.8" r="5.5" fill="#fff" stroke="#b0b0b0" stroke-width="0.9"/>
<circle cx="1560.9" cy="1459.8" r="5.5" fill="#fff" stroke="#b0b0b0" stroke-width="0.9"/>
<circle cx="1582.6" cy="1461.7" r="5.5" fill="#fff" stroke="#b0b0b0" stroke-width="0.9"/>
<circle cx="1604.2" cy="1464.6" r="5.5" fill="#fff" stroke="#b0b0b0" stroke-width="0.9"/>
<circle cx="1625.0" cy="1468.9" r="5.5" fill="#fff" stroke="#b0b0b0" stroke-width="0.9"/>
<circle cx="1505.7" cy="1296.4" r="5.5" fill="#fff" stroke="#b0b0b0" stroke-width="0.9"/>
<circle cx="1523.5" cy="1298.7" r="5.5" fill="#fff" stroke="#b0b0b0" stroke-width="0.9"/>
<circle cx="1550.2" cy="1300.8" r="6.0" fill="#b3b3b3"/>
<circle cx="1576.9" cy="1298.7" r="5.5" fill="#fff" stroke="#b0b0b0" stroke-width="0.9"/>
<circle cx="1594.7" cy="1296.4" r="5.5" fill="#fff" stroke="#b0b0b0" stroke-width="0.9"/>
<circle cx="1505.7" cy="1478.0" r="5.5" fill="#fff" stroke="#b0b0b0" stroke-width="0.9"/>
<circle cx="1523.5" cy="1475.7" r="5.5" fill="#fff" stroke="#b0b0b0" stroke-width="0.9"/>
<circle cx="1550.2" cy="1473.6" r="6.0" fill="#b3b3b3"/>
<circle cx="1576.9" cy="1475.7" r="5.5" fill="#fff" stroke="#b0b0b0" stroke-width="0.9"/>
<circle cx="1594.7" cy="1478.0" r="5.5" fill="#fff" stroke="#b0b0b0" stroke-width="0.9"/>
<circle cx="1523.3" cy="1284.7" r="5.5" fill="#fff" stroke="#b0b0b0" stroke-width="0.9"/>
<circle cx="1577.1" cy="1284.7" r="5.5" fill="#fff" stroke="#b0b0b0" stroke-width="0.9"/>
<circle cx="1523.3" cy="1489.7" r="5.5" fill="#fff" stroke="#b0b0b0" stroke-width="0.9"/>
<circle cx="1577.1" cy="1489.7" r="5.5" fill="#fff" stroke="#b0b0b0" stroke-width="0.9"/>
<circle cx="1550.2" cy="1272.0" r="6.1" fill="#626262"/>
<circle cx="1586.4" cy="1275.9" r="6.1" fill="#626262"/>
<circle cx="1620.1" cy="1291.0" r="6.0" fill="#b3b3b3"/>
<circle cx="1647.6" cy="1316.4" r="6.1" fill="#626262"/>
<circle cx="1665.7" cy="1349.7" r="6.0" fill="#b3b3b3"/>
<circle cx="1672.0" cy="1387.2" r="6.1" fill="#626262"/>
<circle cx="1665.7" cy="1424.7" r="6.0" fill="#b3b3b3"/>
<circle cx="1647.6" cy="1458.0" r="6.1" fill="#626262"/>
<circle cx="1620.1" cy="1483.4" r="6.0" fill="#b3b3b3"/>
<circle cx="1586.4" cy="1498.5" r="6.1" fill="#626262"/>
<circle cx="1550.2" cy="1502.4" r="6.1" fill="#626262"/>
<circle cx="1514.0" cy="1498.5" r="6.1" fill="#626262"/>
<circle cx="1480.3" cy="1483.4" r="6.0" fill="#b3b3b3"/>
<circle cx="1452.8" cy="1458.0" r="6.1" fill="#626262"/>
<circle cx="1434.7" cy="1424.7" r="6.0" fill="#b3b3b3"/>
<circle cx="1428.5" cy="1387.2" r="6.1" fill="#626262"/>
<circle cx="1434.7" cy="1349.7" r="6.0" fill="#b3b3b3"/>
<circle cx="1452.8" cy="1316.4" r="6.1" fill="#626262"/>
<circle cx="1480.3" cy="1291.0" r="6.0" fill="#b3b3b3"/>
<circle cx="1514.0" cy="1275.9" r="6.1" fill="#626262"/>
<circle cx="1671.5" cy="1325.4" r="5.5" fill="#fff" stroke="#b0b0b0" stroke-width="0.9"/>
<circle cx="1685.4" cy="1365.8" r="5.5" fill="#fff" stroke="#b0b0b0" stroke-width="0.9"/>
<circle cx="1671.5" cy="1449.0" r="5.5" fill="#fff" stroke="#b0b0b0" stroke-width="0.9"/>
<circle cx="1645.4" cy="1482.4" r="5.5" fill="#fff" stroke="#b0b0b0" stroke-width="0.9"/>
<circle cx="1610.4" cy="1505.4" r="5.5" fill="#fff" stroke="#b0b0b0" stroke-width="0.9"/>
<circle cx="1570.6" cy="1516.2" r="5.5" fill="#fff" stroke="#b0b0b0" stroke-width="0.9"/>
<circle cx="1529.8" cy="1516.2" r="5.5" fill="#fff" stroke="#b0b0b0" stroke-width="0.9"/>
<circle cx="1490.0" cy="1505.4" r="5.5" fill="#fff" stroke="#b0b0b0" stroke-width="0.9"/>
<circle cx="1455.0" cy="1482.4" r="5.5" fill="#fff" stroke="#b0b0b0" stroke-width="0.9"/>
<circle cx="1428.9" cy="1449.0" r="5.5" fill="#fff" stroke="#b0b0b0" stroke-width="0.9"/>
<circle cx="1415.0" cy="1365.8" r="5.5" fill="#fff" stroke="#b0b0b0" stroke-width="0.9"/>
<circle cx="1428.9" cy="1325.4" r="5.5" fill="#fff" stroke="#b0b0b0" stroke-width="0.9"/>
<circle cx="1550.2" cy="1243.2" r="6.0" fill="#b3b3b3"/>
<circle cx="1671.9" cy="1298.7" r="6.0" fill="#b3b3b3"/>
<circle cx="1694.5" cy="1340.3" r="6.0" fill="#b3b3b3"/>
<circle cx="1702.4" cy="1387.2" r="6.0" fill="#b3b3b3"/>
<circle cx="1671.9" cy="1475.7" r="6.0" fill="#b3b3b3"/>
<circle cx="1637.5" cy="1507.4" r="6.0" fill="#b3b3b3"/>
<circle cx="1595.4" cy="1526.3" r="6.0" fill="#b3b3b3"/>
<circle cx="1550.2" cy="1531.2" r="6.0" fill="#b3b3b3"/>
<circle cx="1505.0" cy="1526.3" r="6.0" fill="#b3b3b3"/>
<circle cx="1462.9" cy="1507.4" r="6.0" fill="#b3b3b3"/>
<circle cx="1428.5" cy="1475.7" r="6.0" fill="#b3b3b3"/>
<circle cx="1398.0" cy="1387.2" r="6.0" fill="#b3b3b3"/>
<circle cx="1405.9" cy="1340.3" r="6.0" fill="#b3b3b3"/>
<circle cx="1428.5" cy="1298.7" r="6.0" fill="#b3b3b3"/>
<g font-size="3.6" text-anchor="middle" style="font-family:'Liberation Sans',sans-serif">
<text x="1476.2" y="1323.4" fill="#e6e6e6">F5</text>
<text x="1500.7" y="1326.9" fill="#d8d8d8">F3</text>
<text x="1525.7" y="1329.3" fill="#e6e6e6">F1</text>
<text x="1550.2" y="1330.9" fill="#d8d8d8">Fz</text>
<text x="1574.7" y="1329.3" fill="#e6e6e6">F2</text>
<text x="1599.7" y="1326.9" fill="#d8d8d8">F4</text>
<text x="1624.2" y="1323.4" fill="#e6e6e6">F6</text>
<text x="1463.3" y="1354.9" fill="#e6e6e6">FC5</text>
<text x="1492.3" y="1357.0" fill="#e6e6e6">FC3</text>
<text x="1521.5" y="1358.3" fill="#e6e6e6">FC1</text>
<text x="1550.2" y="1359.7" fill="#e6e6e6">FCz</text>
<text x="1578.9" y="1358.3" fill="#e6e6e6">FC2</text>
<text x="1608.1" y="1357.0" fill="#e6e6e6">FC4</text>
<text x="1637.1" y="1354.9" fill="#e6e6e6">FC6</text>
<text x="1458.9" y="1388.5" fill="#e6e6e6">C5</text>
<text x="1489.3" y="1388.5" fill="#d8d8d8">C3</text>
<text x="1519.8" y="1388.5" fill="#e6e6e6">C1</text>
<text x="1550.2" y="1388.5" fill="#d8d8d8">Cz</text>
<text x="1580.6" y="1388.5" fill="#e6e6e6">C2</text>
<text x="1611.1" y="1388.5" fill="#d8d8d8">C4</text>
<text x="1641.5" y="1388.5" fill="#e6e6e6">C6</text>
<text x="1463.3" y="1422.1" fill="#e6e6e6">CP5</text>
<text x="1492.3" y="1420.0" fill="#e6e6e6">CP3</text>
<text x="1521.5" y="1418.7" fill="#e6e6e6">CP1</text>
<text x="1550.2" y="1417.3" fill="#e6e6e6">CPz</text>
<text x="1578.9" y="1418.7" fill="#e6e6e6">CP2</text>
<text x="1608.1" y="1420.0" fill="#e6e6e6">CP4</text>
<text x="1637.1" y="1422.1" fill="#e6e6e6">CP6</text>
<text x="1476.2" y="1453.6" fill="#e6e6e6">P5</text>
<text x="1500.7" y="1450.1" fill="#d8d8d8">P3</text>
<text x="1525.7" y="1447.7" fill="#e6e6e6">P1</text>
<text x="1550.2" y="1446.1" fill="#d8d8d8">Pz</text>
<text x="1574.7" y="1447.7" fill="#e6e6e6">P2</text>
<text x="1599.7" y="1450.1" fill="#d8d8d8">P4</text>
<text x="1624.2" y="1453.6" fill="#e6e6e6">P6</text>
<text x="1475.4" y="1306.8" fill="#aaaaaa">AFF7h</text>
<text x="1496.2" y="1311.1" fill="#aaaaaa">AFF5h</text>
<text x="1517.8" y="1314.0" fill="#aaaaaa">AFF3h</text>
<text x="1539.5" y="1315.9" fill="#aaaaaa">AFF1h</text>
<text x="1560.9" y="1315.9" fill="#aaaaaa">AFF2h</text>
<text x="1582.6" y="1314.0" fill="#aaaaaa">AFF4h</text>
<text x="1604.2" y="1311.1" fill="#aaaaaa">AFF6h</text>
<text x="1625.0" y="1306.8" fill="#aaaaaa">AFF8h</text>
<text x="1455.4" y="1336.5" fill="#aaaaaa">FFC7h</text>
<text x="1482.2" y="1340.4" fill="#aaaaaa">FFC5h</text>
<text x="1509.6" y="1342.8" fill="#aaaaaa">FFC3h</text>
<text x="1536.9" y="1344.6" fill="#aaaaaa">FFC1h</text>
<text x="1563.5" y="1344.6" fill="#aaaaaa">FFC2h</text>
<text x="1590.8" y="1342.8" fill="#aaaaaa">FFC4h</text>
<text x="1618.2" y="1340.4" fill="#aaaaaa">FFC6h</text>
<text x="1645.0" y="1336.5" fill="#aaaaaa">FFC8h</text>
<text x="1445.0" y="1370.7" fill="#aaaaaa">FCC7h</text>
<text x="1475.0" y="1372.2" fill="#aaaaaa">FCC5h</text>
<text x="1505.2" y="1373.0" fill="#aaaaaa">FCC3h</text>
<text x="1535.4" y="1373.5" fill="#aaaaaa">FCC1h</text>
<text x="1565.0" y="1373.5" fill="#aaaaaa">FCC2h</text>
<text x="1595.2" y="1373.0" fill="#aaaaaa">FCC4h</text>
<text x="1625.4" y="1372.2" fill="#aaaaaa">FCC6h</text>
<text x="1655.4" y="1370.7" fill="#aaaaaa">FCC8h</text>
<text x="1445.0" y="1406.3" fill="#aaaaaa">CCP7h</text>
<text x="1475.0" y="1404.8" fill="#aaaaaa">CCP5h</text>
<text x="1505.2" y="1404.0" fill="#aaaaaa">CCP3h</text>
<text x="1535.4" y="1403.5" fill="#aaaaaa">CCP1h</text>
<text x="1565.0" y="1403.5" fill="#aaaaaa">CCP2h</text>
<text x="1595.2" y="1404.0" fill="#aaaaaa">CCP4h</text>
<text x="1625.4" y="1404.8" fill="#aaaaaa">CCP6h</text>
<text x="1655.4" y="1406.3" fill="#aaaaaa">CCP8h</text>
<text x="1455.4" y="1440.5" fill="#aaaaaa">CPP7h</text>
<text x="1482.2" y="1436.6" fill="#aaaaaa">CPP5h</text>
<text x="1509.6" y="1434.2" fill="#aaaaaa">CPP3h</text>
<text x="1536.9" y="1432.4" fill="#aaaaaa">CPP1h</text>
<text x="1563.5" y="1432.4" fill="#aaaaaa">CPP2h</text>
<text x="1590.8" y="1434.2" fill="#aaaaaa">CPP4h</text>
<text x="1618.2" y="1436.6" fill="#aaaaaa">CPP6h</text>
<text x="1645.0" y="1440.5" fill="#aaaaaa">CPP8h</text>
<text x="1475.4" y="1470.2" fill="#aaaaaa">PPO7h</text>
<text x="1496.2" y="1465.9" fill="#aaaaaa">PPO5h</text>
<text x="1517.8" y="1463.0" fill="#aaaaaa">PPO3h</text>
<text x="1539.5" y="1461.1" fill="#aaaaaa">PPO1h</text>
<text x="1560.9" y="1461.1" fill="#aaaaaa">PPO2h</text>
<text x="1582.6" y="1463.0" fill="#aaaaaa">PPO4h</text>
<text x="1604.2" y="1465.9" fill="#aaaaaa">PPO6h</text>
<text x="1625.0" y="1470.2" fill="#aaaaaa">PPO8h</text>
<text x="1505.7" y="1297.7" fill="#aaaaaa">AF5h</text>
<text x="1523.5" y="1300.0" fill="#aaaaaa">AF3h</text>
<text x="1550.2" y="1302.1" fill="#e6e6e6">AFz</text>
<text x="1576.9" y="1300.0" fill="#aaaaaa">AF4h</text>
<text x="1594.7" y="1297.7" fill="#aaaaaa">AF6h</text>
<text x="1505.7" y="1479.3" fill="#aaaaaa">PO5h</text>
<text x="1523.5" y="1477.0" fill="#aaaaaa">PO3h</text>
<text x="1550.2" y="1474.9" fill="#e6e6e6">POz</text>
<text x="1576.9" y="1477.0" fill="#aaaaaa">PO4h</text>
<text x="1594.7" y="1479.3" fill="#aaaaaa">PO6h</text>
<text x="1523.3" y="1286.0" fill="#aaaaaa">AFp3</text>
<text x="1577.1" y="1286.0" fill="#aaaaaa">AFp4</text>
<text x="1523.3" y="1491.0" fill="#aaaaaa">POO3</text>
<text x="1577.1" y="1491.0" fill="#aaaaaa">POO4</text>
<text x="1550.2" y="1273.3" fill="#d8d8d8">Fpz</text>
<text x="1586.4" y="1277.2" fill="#d8d8d8">Fp2</text>
<text x="1620.1" y="1292.3" fill="#e6e6e6">AF8</text>
<text x="1647.6" y="1317.7" fill="#d8d8d8">F8</text>
<text x="1665.7" y="1351.0" fill="#e6e6e6">FT8</text>
<text x="1672.0" y="1388.5" fill="#d8d8d8">T8</text>
<text x="1665.7" y="1426.0" fill="#e6e6e6">TP8</text>
<text x="1647.6" y="1459.3" fill="#d8d8d8">P8</text>
<text x="1620.1" y="1484.7" fill="#e6e6e6">PO8</text>
<text x="1586.4" y="1499.8" fill="#d8d8d8">O2</text>
<text x="1550.2" y="1503.7" fill="#d8d8d8">Oz</text>
<text x="1514.0" y="1499.8" fill="#d8d8d8">O1</text>
<text x="1480.3" y="1484.7" fill="#e6e6e6">PO7</text>
<text x="1452.8" y="1459.3" fill="#d8d8d8">P7</text>
<text x="1434.7" y="1426.0" fill="#e6e6e6">TP7</text>
<text x="1428.5" y="1388.5" fill="#d8d8d8">T7</text>
<text x="1434.7" y="1351.0" fill="#e6e6e6">FT7</text>
<text x="1452.8" y="1317.7" fill="#d8d8d8">F7</text>
<text x="1480.3" y="1292.3" fill="#e6e6e6">AF7</text>
<text x="1514.0" y="1277.2" fill="#d8d8d8">Fp1</text>
<text x="1671.5" y="1326.7" fill="#aaaaaa">FFT10h</text>
<text x="1685.4" y="1367.1" fill="#aaaaaa">FTT10h</text>
<text x="1671.5" y="1450.3" fill="#aaaaaa">TPP10h</text>
<text x="1645.4" y="1483.7" fill="#aaaaaa">PPO10h</text>
<text x="1610.4" y="1506.7" fill="#aaaaaa">POO10h</text>
<text x="1570.6" y="1517.5" fill="#aaaaaa">OI2h</text>
<text x="1529.8" y="1517.5" fill="#aaaaaa">OI1h</text>
<text x="1490.0" y="1506.7" fill="#aaaaaa">POO9h</text>
<text x="1455.0" y="1483.7" fill="#aaaaaa">PPO9h</text>
<text x="1428.9" y="1450.3" fill="#aaaaaa">TPP9h</text>
<text x="1415.0" y="1367.1" fill="#aaaaaa">FTT9h</text>
<text x="1428.9" y="1326.7" fill="#aaaaaa">FFT9h</text>
<text x="1550.2" y="1244.5" fill="#e6e6e6">Nz</text>
<text x="1671.9" y="1300.0" fill="#e6e6e6">F10</text>
<text x="1694.5" y="1341.6" fill="#e6e6e6">FT10</text>
<text x="1702.4" y="1388.5" fill="#e6e6e6">T10</text>
<text x="1671.9" y="1477.0" fill="#e6e6e6">P10</text>
<text x="1637.5" y="1508.7" fill="#e6e6e6">PO10</text>
<text x="1595.4" y="1527.6" fill="#e6e6e6">I2</text>
<text x="1550.2" y="1532.5" fill="#e6e6e6">Iz</text>
<text x="1505.0" y="1527.6" fill="#e6e6e6">I1</text>
<text x="1462.9" y="1508.7" fill="#e6e6e6">PO9</text>
<text x="1428.5" y="1477.0" fill="#e6e6e6">P9</text>
<text x="1398.0" y="1388.5" fill="#e6e6e6">T9</text>
<text x="1405.9" y="1341.6" fill="#e6e6e6">FT9</text>
<text x="1428.5" y="1300.0" fill="#e6e6e6">F9</text>
</g>
<circle cx="1586.4" cy="1275.9" r="10.3" fill="#ff2222"/><circle cx="1586.4" cy="1275.9" r="7.3" fill="#e02525" stroke="#f24444" stroke-width="1.2"/>
<text x="1571.1" y="1267.7" font-size="12.5" font-weight="bold" style="font-family:'DejaVu Sans',sans-serif" fill="#e5707a" stroke="#c0646c" stroke-width="0.35">1</text>
<circle cx="1514.0" cy="1275.9" r="9.45" fill="none" stroke="#f87474" stroke-width="2.1"/>
<text x="1498.7" y="1267.7" font-size="12.5" font-weight="bold" style="font-family:'DejaVu Sans',sans-serif" fill="#e5707a" stroke="#c0646c" stroke-width="0.35">2</text>
<circle cx="1647.6" cy="1316.4" r="9.45" fill="none" stroke="#f87474" stroke-width="2.1"/>
<text x="1632.3" y="1308.2" font-size="12.5" font-weight="bold" style="font-family:'DejaVu Sans',sans-serif" fill="#e5707a" stroke="#c0646c" stroke-width="0.35">3</text>
<circle cx="1599.7" cy="1325.6" r="9.45" fill="none" stroke="#f87474" stroke-width="2.1"/>
<text x="1584.4" y="1317.4" font-size="12.5" font-weight="bold" style="font-family:'DejaVu Sans',sans-serif" fill="#e5707a" stroke="#c0646c" stroke-width="0.35">4</text>
<circle cx="1550.2" cy="1329.6" r="10.3" fill="#ff2222"/><circle cx="1550.2" cy="1329.6" r="7.3" fill="#e02525" stroke="#f24444" stroke-width="1.2"/>
<text x="1534.9" y="1321.4" font-size="12.5" font-weight="bold" style="font-family:'DejaVu Sans',sans-serif" fill="#e5707a" stroke="#c0646c" stroke-width="0.35">5</text>
<circle cx="1500.7" cy="1325.6" r="9.45" fill="none" stroke="#f87474" stroke-width="2.1"/>
<text x="1485.4" y="1317.4" font-size="12.5" font-weight="bold" style="font-family:'DejaVu Sans',sans-serif" fill="#e5707a" stroke="#c0646c" stroke-width="0.35">6</text>
<circle cx="1452.8" cy="1316.4" r="9.45" fill="none" stroke="#f87474" stroke-width="2.1"/>
<text x="1437.5" y="1308.2" font-size="12.5" font-weight="bold" style="font-family:'DejaVu Sans',sans-serif" fill="#e5707a" stroke="#c0646c" stroke-width="0.35">7</text>
<circle cx="1637.1" cy="1353.6" r="9.45" fill="none" stroke="#f87474" stroke-width="2.1"/>
<text x="1621.8" y="1345.4" font-size="12.5" font-weight="bold" style="font-family:'DejaVu Sans',sans-serif" fill="#e5707a" stroke="#c0646c" stroke-width="0.35">8</text>
<circle cx="1578.9" cy="1357.0" r="9.45" fill="none" stroke="#f87474" stroke-width="2.1"/>
<text x="1563.6" y="1348.8" font-size="12.5" font-weight="bold" style="font-family:'DejaVu Sans',sans-serif" fill="#e5707a" stroke="#c0646c" stroke-width="0.35">9</text>
<circle cx="1521.5" cy="1357.0" r="9.45" fill="none" stroke="#f87474" stroke-width="2.1"/>
<text x="1506.2" y="1348.8" font-size="12.5" font-weight="bold" style="font-family:'DejaVu Sans',sans-serif" fill="#e5707a" stroke="#c0646c" stroke-width="0.35">10</text>
<circle cx="1463.3" cy="1353.6" r="9.45" fill="none" stroke="#f87474" stroke-width="2.1"/>
<text x="1448.0" y="1345.4" font-size="12.5" font-weight="bold" style="font-family:'DejaVu Sans',sans-serif" fill="#e5707a" stroke="#c0646c" stroke-width="0.35">11</text>
<circle cx="1672.0" cy="1387.2" r="9.45" fill="none" stroke="#f87474" stroke-width="2.1"/>
<text x="1656.7" y="1379.0" font-size="12.5" font-weight="bold" style="font-family:'DejaVu Sans',sans-serif" fill="#e5707a" stroke="#c0646c" stroke-width="0.35">12</text>
<circle cx="1611.1" cy="1387.2" r="9.45" fill="none" stroke="#f87474" stroke-width="2.1"/>
<text x="1595.8" y="1379.0" font-size="12.5" font-weight="bold" style="font-family:'DejaVu Sans',sans-serif" fill="#e5707a" stroke="#c0646c" stroke-width="0.35">13</text>
<circle cx="1550.2" cy="1387.2" r="9.45" fill="none" stroke="#f87474" stroke-width="2.1"/>
<text x="1534.9" y="1379.0" font-size="12.5" font-weight="bold" style="font-family:'DejaVu Sans',sans-serif" fill="#e5707a" stroke="#c0646c" stroke-width="0.35">14</text>
<circle cx="1489.3" cy="1387.2" r="9.45" fill="none" stroke="#f87474" stroke-width="2.1"/>
<text x="1474.0" y="1379.0" font-size="12.5" font-weight="bold" style="font-family:'DejaVu Sans',sans-serif" fill="#e5707a" stroke="#c0646c" stroke-width="0.35">15</text>
<circle cx="1428.5" cy="1387.2" r="9.45" fill="none" stroke="#f87474" stroke-width="2.1"/>
<text x="1413.2" y="1379.0" font-size="12.5" font-weight="bold" style="font-family:'DejaVu Sans',sans-serif" fill="#e5707a" stroke="#c0646c" stroke-width="0.35">16</text>
<circle cx="1694.5" cy="1434.1" r="9.45" fill="none" stroke="#f87474" stroke-width="2.1"/>
<text x="1679.2" y="1425.9" font-size="12.5" font-weight="bold" style="font-family:'DejaVu Sans',sans-serif" fill="#e5707a" stroke="#c0646c" stroke-width="0.35">17</text>
<circle cx="1637.1" cy="1420.8" r="9.45" fill="none" stroke="#f87474" stroke-width="2.1"/>
<text x="1621.8" y="1412.6" font-size="12.5" font-weight="bold" style="font-family:'DejaVu Sans',sans-serif" fill="#e5707a" stroke="#c0646c" stroke-width="0.35">18</text>
<circle cx="1578.9" cy="1417.4" r="9.45" fill="none" stroke="#f87474" stroke-width="2.1"/>
<text x="1563.6" y="1409.2" font-size="12.5" font-weight="bold" style="font-family:'DejaVu Sans',sans-serif" fill="#e5707a" stroke="#c0646c" stroke-width="0.35">19</text>
<circle cx="1521.5" cy="1417.4" r="9.45" fill="none" stroke="#f87474" stroke-width="2.1"/>
<text x="1506.2" y="1409.2" font-size="12.5" font-weight="bold" style="font-family:'DejaVu Sans',sans-serif" fill="#e5707a" stroke="#c0646c" stroke-width="0.35">20</text>
<circle cx="1463.3" cy="1420.8" r="9.45" fill="none" stroke="#f87474" stroke-width="2.1"/>
<text x="1448.0" y="1412.6" font-size="12.5" font-weight="bold" style="font-family:'DejaVu Sans',sans-serif" fill="#e5707a" stroke="#c0646c" stroke-width="0.35">21</text>
<circle cx="1405.9" cy="1434.1" r="9.45" fill="none" stroke="#f87474" stroke-width="2.1"/>
<text x="1390.6" y="1425.9" font-size="12.5" font-weight="bold" style="font-family:'DejaVu Sans',sans-serif" fill="#e5707a" stroke="#c0646c" stroke-width="0.35">22</text>
<circle cx="1599.7" cy="1448.8" r="9.45" fill="none" stroke="#f87474" stroke-width="2.1"/>
<text x="1584.4" y="1440.6" font-size="12.5" font-weight="bold" style="font-family:'DejaVu Sans',sans-serif" fill="#e5707a" stroke="#c0646c" stroke-width="0.35">23</text>
<circle cx="1550.2" cy="1444.8" r="9.45" fill="none" stroke="#f87474" stroke-width="2.1"/>
<text x="1534.9" y="1436.6" font-size="12.5" font-weight="bold" style="font-family:'DejaVu Sans',sans-serif" fill="#e5707a" stroke="#c0646c" stroke-width="0.35">24</text>
<circle cx="1500.7" cy="1448.8" r="9.45" fill="none" stroke="#f87474" stroke-width="2.1"/>
<text x="1485.4" y="1440.6" font-size="12.5" font-weight="bold" style="font-family:'DejaVu Sans',sans-serif" fill="#e5707a" stroke="#c0646c" stroke-width="0.35">25</text>
<circle cx="1647.6" cy="1458.0" r="9.45" fill="none" stroke="#f87474" stroke-width="2.1"/>
<text x="1632.3" y="1449.8" font-size="12.5" font-weight="bold" style="font-family:'DejaVu Sans',sans-serif" fill="#e5707a" stroke="#c0646c" stroke-width="0.35">26</text>
<circle cx="1576.9" cy="1475.7" r="9.45" fill="none" stroke="#f87474" stroke-width="2.1"/>
<text x="1561.6" y="1467.5" font-size="12.5" font-weight="bold" style="font-family:'DejaVu Sans',sans-serif" fill="#e5707a" stroke="#c0646c" stroke-width="0.35">27</text>
<circle cx="1523.5" cy="1475.7" r="9.45" fill="none" stroke="#f87474" stroke-width="2.1"/>
<text x="1508.2" y="1467.5" font-size="12.5" font-weight="bold" style="font-family:'DejaVu Sans',sans-serif" fill="#e5707a" stroke="#c0646c" stroke-width="0.35">28</text>
<circle cx="1452.8" cy="1458.0" r="9.45" fill="none" stroke="#f87474" stroke-width="2.1"/>
<text x="1437.5" y="1449.8" font-size="12.5" font-weight="bold" style="font-family:'DejaVu Sans',sans-serif" fill="#e5707a" stroke="#c0646c" stroke-width="0.35">29</text>
<circle cx="1595.4" cy="1526.3" r="9.45" fill="none" stroke="#f87474" stroke-width="2.1"/>
<text x="1580.1" y="1518.1" font-size="12.5" font-weight="bold" style="font-family:'DejaVu Sans',sans-serif" fill="#e5707a" stroke="#c0646c" stroke-width="0.35">30</text>
<circle cx="1505.0" cy="1526.3" r="9.45" fill="none" stroke="#f87474" stroke-width="2.1"/>
<text x="1489.7" y="1518.1" font-size="12.5" font-weight="bold" style="font-family:'DejaVu Sans',sans-serif" fill="#e5707a" stroke="#c0646c" stroke-width="0.35">31</text>
<circle cx="1550.2" cy="1502.4" r="9.45" fill="none" stroke="#f87474" stroke-width="2.1"/>
<text x="1534.9" y="1494.2" font-size="12.5" font-weight="bold" style="font-family:'DejaVu Sans',sans-serif" fill="#e5707a" stroke="#c0646c" stroke-width="0.35">32</text>
</svg>
</body></html>
